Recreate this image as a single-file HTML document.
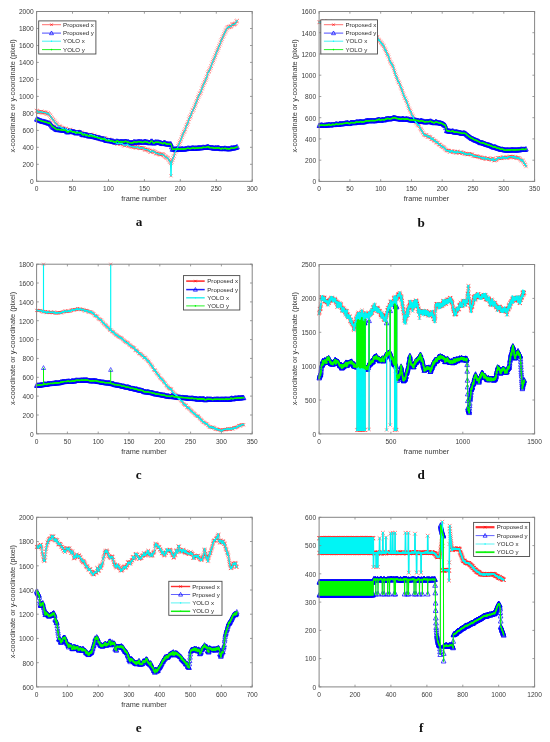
<!DOCTYPE html>
<html><head><meta charset="utf-8"><title>figure</title>
<style>html,body{margin:0;padding:0;background:#fff}svg{display:block}</style></head>
<body><svg width="550" height="742" viewBox="0 0 550 742" font-family="'Liberation Sans', sans-serif">
<rect width="550" height="742" fill="#fff"/>
<defs>
<clipPath id="ca"><rect x="34.1" y="11.5" width="220.6" height="172.3"/></clipPath>
<clipPath id="cb"><rect x="316.6" y="11.5" width="220.5" height="172.4"/></clipPath>
<clipPath id="cc"><rect x="34.1" y="264.2" width="220.6" height="172.1"/></clipPath>
<clipPath id="cd"><rect x="316.6" y="264.5" width="220.5" height="171.9"/></clipPath>
<clipPath id="ce"><rect x="34.1" y="517.3" width="220.6" height="172.1"/></clipPath>
<clipPath id="cf"><rect x="316.6" y="517.3" width="220.5" height="172.1"/></clipPath>
<marker id="mxa" viewBox="-3 -3 6 6" markerWidth="6" markerHeight="6" markerUnits="userSpaceOnUse" refX="0" refY="0"><path d="M-1.9-1.9L1.9 1.9M-1.9 1.9L1.9-1.9" stroke="#ff2a2a" stroke-width="0.5" fill="none"/></marker>
<marker id="mta" viewBox="-3 -3 6 6" markerWidth="6" markerHeight="6" markerUnits="userSpaceOnUse" refX="0" refY="0"><path d="M0-2.51L2.3 2.00H-2.3Z" stroke="#0000ff" stroke-width="0.7" fill="none"/></marker>
<marker id="mca" viewBox="-3 -3 6 6" markerWidth="6" markerHeight="6" markerUnits="userSpaceOnUse" refX="0" refY="0"><circle r="0.65" fill="#00f5f5"/></marker>
<marker id="mga" viewBox="-3 -3 6 6" markerWidth="6" markerHeight="6" markerUnits="userSpaceOnUse" refX="0" refY="0"><circle r="0.8" fill="#00fa00"/></marker>
<marker id="mxb" viewBox="-3 -3 6 6" markerWidth="6" markerHeight="6" markerUnits="userSpaceOnUse" refX="0" refY="0"><path d="M-1.7-1.7L1.7 1.7M-1.7 1.7L1.7-1.7" stroke="#ff2a2a" stroke-width="0.5" fill="none"/></marker>
<marker id="mtb" viewBox="-3 -3 6 6" markerWidth="6" markerHeight="6" markerUnits="userSpaceOnUse" refX="0" refY="0"><path d="M0-2.51L2.3 2.00H-2.3Z" stroke="#0000ff" stroke-width="0.7" fill="none"/></marker>
<marker id="mcb" viewBox="-3 -3 6 6" markerWidth="6" markerHeight="6" markerUnits="userSpaceOnUse" refX="0" refY="0"><circle r="0.7" fill="#00f5f5"/></marker>
<marker id="mgb" viewBox="-3 -3 6 6" markerWidth="6" markerHeight="6" markerUnits="userSpaceOnUse" refX="0" refY="0"><circle r="0.8" fill="#00fa00"/></marker>
<marker id="mxc" viewBox="-3 -3 6 6" markerWidth="6" markerHeight="6" markerUnits="userSpaceOnUse" refX="0" refY="0"><path d="M-1.5-1.5L1.5 1.5M-1.5 1.5L1.5-1.5" stroke="#ff2a2a" stroke-width="0.55" fill="none"/></marker>
<marker id="mtc" viewBox="-3 -3 6 6" markerWidth="6" markerHeight="6" markerUnits="userSpaceOnUse" refX="0" refY="0"><path d="M0-2.51L2.3 2.00H-2.3Z" stroke="#0000ff" stroke-width="0.7" fill="none"/></marker>
<marker id="mcc" viewBox="-3 -3 6 6" markerWidth="6" markerHeight="6" markerUnits="userSpaceOnUse" refX="0" refY="0"><circle r="0.75" fill="#00f5f5"/></marker>
<marker id="mgc" viewBox="-3 -3 6 6" markerWidth="6" markerHeight="6" markerUnits="userSpaceOnUse" refX="0" refY="0"><circle r="0.8" fill="#00fa00"/></marker>
<marker id="mxd" viewBox="-3 -3 6 6" markerWidth="6" markerHeight="6" markerUnits="userSpaceOnUse" refX="0" refY="0"><path d="M-1.7-1.7L1.7 1.7M-1.7 1.7L1.7-1.7" stroke="#ff2a2a" stroke-width="0.5" fill="none"/></marker>
<marker id="mtd" viewBox="-3 -3 6 6" markerWidth="6" markerHeight="6" markerUnits="userSpaceOnUse" refX="0" refY="0"><path d="M0-2.51L2.3 2.00H-2.3Z" stroke="#0000ff" stroke-width="0.7" fill="none"/></marker>
<marker id="mcd" viewBox="-3 -3 6 6" markerWidth="6" markerHeight="6" markerUnits="userSpaceOnUse" refX="0" refY="0"><circle r="0.95" fill="#00f5f5"/></marker>
<marker id="mgd" viewBox="-3 -3 6 6" markerWidth="6" markerHeight="6" markerUnits="userSpaceOnUse" refX="0" refY="0"><circle r="0.9" fill="#00fa00"/></marker>
<marker id="mxe" viewBox="-3 -3 6 6" markerWidth="6" markerHeight="6" markerUnits="userSpaceOnUse" refX="0" refY="0"><path d="M-1.7-1.7L1.7 1.7M-1.7 1.7L1.7-1.7" stroke="#ff2a2a" stroke-width="0.5" fill="none"/></marker>
<marker id="mte" viewBox="-3 -3 6 6" markerWidth="6" markerHeight="6" markerUnits="userSpaceOnUse" refX="0" refY="0"><path d="M0-2.51L2.3 2.00H-2.3Z" stroke="#0000ff" stroke-width="0.65" fill="none"/></marker>
<marker id="mce" viewBox="-3 -3 6 6" markerWidth="6" markerHeight="6" markerUnits="userSpaceOnUse" refX="0" refY="0"><circle r="0.78" fill="#00f5f5"/></marker>
<marker id="mge" viewBox="-3 -3 6 6" markerWidth="6" markerHeight="6" markerUnits="userSpaceOnUse" refX="0" refY="0"><circle r="0.95" fill="#00fa00"/></marker>
<marker id="mxf" viewBox="-3 -3 6 6" markerWidth="6" markerHeight="6" markerUnits="userSpaceOnUse" refX="0" refY="0"><path d="M-1.9-1.9L1.9 1.9M-1.9 1.9L1.9-1.9" stroke="#ff2a2a" stroke-width="0.6" fill="none"/></marker>
<marker id="mtf" viewBox="-3 -3 6 6" markerWidth="6" markerHeight="6" markerUnits="userSpaceOnUse" refX="0" refY="0"><path d="M0-2.62L2.4 2.09H-2.4Z" stroke="#0000ff" stroke-width="0.7" fill="none"/></marker>
<marker id="mcf" viewBox="-3 -3 6 6" markerWidth="6" markerHeight="6" markerUnits="userSpaceOnUse" refX="0" refY="0"><circle r="0.8" fill="#00f5f5"/></marker>
<marker id="mgf" viewBox="-3 -3 6 6" markerWidth="6" markerHeight="6" markerUnits="userSpaceOnUse" refX="0" refY="0"><circle r="0.75" fill="#00fa00"/></marker>
<marker id="mxL" viewBox="-3 -3 6 6" markerWidth="6" markerHeight="6" markerUnits="userSpaceOnUse" refX="0" refY="0"><path d="M-1.3-1.3L1.3 1.3M-1.3 1.3L1.3-1.3" stroke="#ff0000" stroke-width="0.6" fill="none"/></marker>
<marker id="mtL" viewBox="-3 -3 6 6" markerWidth="6" markerHeight="6" markerUnits="userSpaceOnUse" refX="0" refY="0"><path d="M0-2.1L2 1.6H-2Z" stroke="#0000ff" stroke-width="0.7" fill="none"/></marker>
<marker id="mcL" viewBox="-3 -3 6 6" markerWidth="6" markerHeight="6" markerUnits="userSpaceOnUse" refX="0" refY="0"><circle r="0.7" fill="#00ffff"/></marker>
<marker id="mgL" viewBox="-3 -3 6 6" markerWidth="6" markerHeight="6" markerUnits="userSpaceOnUse" refX="0" refY="0"><circle r="0.8" fill="#00ff00"/></marker>
</defs>
<!-- a -->
<polyline clip-path="url(#ca)" points="36.6,110.8 37.3,110.9 38.0,112.0 38.8,112.1 39.5,111.9 40.2,111.9 40.9,111.8 41.6,111.8 42.3,112.5 43.1,112.6 43.8,112.3 44.5,112.5 45.2,112.6 45.9,112.7 46.7,113.7 47.4,113.8 48.1,113.2 48.8,114.0 49.5,114.9 50.3,115.7 51.0,117.1 51.7,118.1 52.4,118.9 53.1,119.9 53.8,120.6 54.6,121.6 55.3,122.8 56.0,123.5 56.7,124.3 57.4,125.1 58.2,126.4 58.9,126.9 59.6,126.3 60.3,126.8 61.0,127.5 61.8,127.9 62.5,128.1 63.2,128.4 63.9,129.6 64.6,129.9 65.3,128.6 66.1,128.9 66.8,129.9 67.5,130.1 68.2,130.6 68.9,130.7 69.7,129.7 70.4,129.8 71.1,131.1 71.8,131.2 72.5,132.1 73.3,132.3 74.0,131.9 74.7,132.0 75.4,133.1 76.1,133.2 76.8,131.7 77.6,131.8 78.3,132.7 79.0,132.8 79.7,133.1 80.4,133.3 81.2,132.6 81.9,132.9 82.6,134.5 83.3,134.7 84.0,133.8 84.8,134.0 85.5,135.6 86.2,135.8 86.9,135.3 87.6,135.4 88.3,135.8 89.1,135.9 89.8,134.6 90.5,134.8 91.2,134.7 91.9,134.8 92.7,136.0 93.4,136.1 94.1,135.6 94.8,135.8 95.5,136.6 96.2,136.8 97.0,136.7 97.7,136.9 98.4,137.8 99.1,138.0 99.8,138.7 100.6,139.0 101.3,139.2 102.0,139.5 102.7,138.6 103.4,138.8 104.2,138.1 104.9,138.3 105.6,139.5 106.3,139.7 107.0,140.3 107.7,140.5 108.5,139.5 109.2,139.7 109.9,140.7 110.6,141.0 111.3,141.2 112.1,141.4 112.8,141.6 113.5,141.8 114.2,142.2 114.9,142.4 115.7,142.7 116.4,142.9 117.1,143.7 117.8,143.8 118.5,143.0 119.2,143.1 120.0,143.6 120.7,143.8 121.4,143.3 122.1,143.4 122.8,144.4 123.6,144.5 124.3,145.5 125.0,145.6 125.7,144.8 126.4,145.0 127.2,144.2 127.9,144.3 128.6,145.5 129.3,145.7 130.0,146.1 130.7,146.3 131.5,146.6 132.2,146.7 132.9,146.8 133.6,147.0 134.3,146.8 135.1,146.9 135.8,147.5 136.5,147.7 137.2,146.5 137.9,146.7 138.7,147.8 139.4,148.0 140.1,148.0 140.8,148.2 141.5,147.7 142.2,147.9 143.0,148.1 143.7,148.2 144.4,149.3 145.1,149.5 145.8,149.4 146.6,149.6 147.3,149.6 148.0,149.8 148.7,150.5 149.4,150.7 150.1,151.7 150.9,151.9 151.6,150.8 152.3,151.1 153.0,151.2 153.7,151.5 154.5,152.0 155.2,152.2 155.9,153.2 156.6,153.4 157.3,153.3 158.1,153.6 158.8,154.0 159.5,154.3 160.2,154.4 160.9,154.6 161.6,154.1 162.4,154.3 163.1,154.7 163.8,155.2 164.5,156.1 165.2,156.6 166.0,157.1 166.7,157.6 167.4,158.0 168.1,158.5 168.8,159.9 169.6,161.0 170.3,162.1 171.0,163.2 171.7,161.7 172.4,160.0 173.1,158.0 173.9,156.2 174.6,153.3 175.3,151.6 176.0,150.6 176.7,148.9 177.5,147.8 178.2,146.0 178.9,144.4 179.6,142.6 180.3,141.1 181.1,139.4 181.8,137.0 182.5,135.3 183.2,133.6 183.9,131.8 184.6,131.0 185.4,129.3 186.1,126.6 186.8,124.9 187.5,123.7 188.2,121.9 189.0,119.2 189.7,117.5 190.4,116.4 191.1,114.7 191.8,112.1 192.6,110.4 193.3,109.8 194.0,108.1 194.7,106.2 195.4,104.5 196.1,102.5 196.9,100.8 197.6,98.6 198.3,96.9 199.0,95.4 199.7,93.6 200.5,92.8 201.2,91.0 201.9,88.5 202.6,86.8 203.3,85.1 204.0,83.3 204.8,81.8 205.5,80.0 206.2,78.4 206.9,76.6 207.6,73.6 208.4,71.9 209.1,71.2 209.8,69.5 210.5,67.9 211.2,66.2 212.0,63.6 212.7,61.9 213.4,60.4 214.1,58.6 214.8,57.0 215.5,55.2 216.3,53.0 217.0,51.3 217.7,49.6 218.4,47.9 219.1,46.2 219.9,44.4 220.6,42.3 221.3,40.4 222.0,38.9 222.7,37.1 223.5,35.7 224.2,33.9 224.9,32.4 225.6,31.0 226.3,29.7 227.0,28.3 227.8,27.4 228.5,26.9 229.2,27.1 229.9,26.6 230.6,26.4 231.4,26.1 232.1,24.7 232.8,24.3 233.5,24.6 234.2,24.2 235.0,23.9 235.7,23.2 236.4,21.4 237.1,20.7" fill="none" stroke="#ff2a2a" stroke-width="0.5" stroke-linejoin="round" marker-start="url(#mxa)" marker-mid="url(#mxa)" marker-end="url(#mxa)"/>
<path d="M171.0 175.8l1.5 1.5m-3 0l1.5-1.5l-1.5-1.5m3 0l-1.5 1.5" stroke="#f00" stroke-width=".5" fill="none"/>
<polyline clip-path="url(#ca)" points="36.6,119.1 37.3,119.3 38.0,119.6 38.8,120.0 39.5,120.3 40.2,120.6 40.9,120.8 41.6,121.1 42.3,121.4 43.1,121.4 43.8,121.6 44.5,121.8 45.2,122.0 45.9,122.2 46.7,122.4 47.4,122.8 48.1,123.0 48.8,123.2 49.5,123.2 50.3,124.0 51.0,124.7 51.7,125.8 52.4,126.6 53.1,127.3 53.8,127.5 54.6,128.2 55.3,128.4 56.0,129.3 56.7,129.5 57.4,129.7 58.2,129.4 58.9,129.6 59.6,129.8 60.3,129.7 61.0,129.9 61.8,130.1 62.5,130.1 63.2,130.2 63.9,130.3 64.6,130.2 65.3,130.3 66.1,130.5 66.8,131.7 67.5,131.8 68.2,131.9 68.9,131.2 69.7,131.3 70.4,131.5 71.1,131.4 71.8,131.5 72.5,131.6 73.3,131.8 74.0,131.9 74.7,132.0 75.4,132.7 76.1,132.8 76.8,132.9 77.6,132.5 78.3,132.6 79.0,132.8 79.7,132.6 80.4,132.8 81.2,133.0 81.9,134.4 82.6,134.6 83.3,134.8 84.0,134.4 84.8,134.6 85.5,134.8 86.2,134.8 86.9,135.1 87.6,135.2 88.3,135.9 89.1,135.9 89.8,136.0 90.5,135.7 91.2,135.8 91.9,135.9 92.7,136.5 93.4,136.6 94.1,136.7 94.8,136.8 95.5,137.0 96.2,137.3 97.0,137.5 97.7,137.7 98.4,137.9 99.1,137.8 99.8,138.0 100.6,138.3 101.3,138.6 102.0,138.8 102.7,139.1 103.4,138.9 104.2,139.1 104.9,139.4 105.6,140.2 106.3,140.4 107.0,140.5 107.7,140.4 108.5,140.6 109.2,140.8 109.9,140.6 110.6,140.7 111.3,140.9 112.1,141.2 112.8,141.2 113.5,141.3 114.2,141.9 114.9,142.0 115.7,142.0 116.4,141.3 117.1,141.4 117.8,141.4 118.5,141.8 119.2,141.8 120.0,141.9 120.7,141.6 121.4,141.6 122.1,141.7 122.8,141.7 123.6,141.7 124.3,141.8 125.0,141.5 125.7,141.5 126.4,141.5 127.2,142.0 127.9,142.0 128.6,142.0 129.3,142.7 130.0,142.7 130.7,142.8 131.5,142.6 132.2,142.7 132.9,142.7 133.6,142.0 134.3,142.0 135.1,142.0 135.8,142.3 136.5,142.2 137.2,142.2 137.9,141.7 138.7,141.7 139.4,141.7 140.1,141.9 140.8,141.9 141.5,141.9 142.2,142.2 143.0,142.2 143.7,142.2 144.4,141.5 145.1,141.6 145.8,141.6 146.6,142.2 147.3,142.2 148.0,142.3 148.7,142.7 149.4,142.7 150.1,142.7 150.9,141.4 151.6,141.4 152.3,141.4 153.0,142.8 153.7,142.9 154.5,143.0 155.2,142.1 155.9,142.2 156.6,142.3 157.3,142.2 158.1,142.3 158.8,142.3 159.5,142.6 160.2,142.7 160.9,142.8 161.6,143.4 162.4,143.5 163.1,143.6 163.8,142.8 164.5,142.8 165.2,142.9 166.0,143.8 166.7,143.9 167.4,144.0 168.1,144.1 168.8,144.1 169.6,144.2 170.3,144.0 171.0,144.1 171.7,146.8 172.4,149.2 173.1,149.2 173.9,149.1 174.6,149.2 175.3,149.2 176.0,149.2 176.7,149.0 177.5,148.9 178.2,148.9 178.9,149.3 179.6,149.2 180.3,149.2 181.1,149.0 181.8,149.0 182.5,148.9 183.2,149.2 183.9,149.2 184.6,149.1 185.4,148.8 186.1,148.7 186.8,148.7 187.5,148.3 188.2,148.3 189.0,148.2 189.7,148.5 190.4,148.4 191.1,148.4 191.8,148.1 192.6,148.0 193.3,148.0 194.0,148.3 194.7,148.2 195.4,148.2 196.1,148.2 196.9,148.1 197.6,148.1 198.3,147.8 199.0,147.8 199.7,147.8 200.5,147.8 201.2,147.8 201.9,147.7 202.6,147.4 203.3,147.4 204.0,147.4 204.8,147.5 205.5,147.4 206.2,147.4 206.9,146.9 207.6,146.8 208.4,146.8 209.1,147.4 209.8,147.5 210.5,147.5 211.2,147.6 212.0,147.7 212.7,147.7 213.4,148.1 214.1,148.1 214.8,148.2 215.5,147.9 216.3,148.0 217.0,148.0 217.7,147.9 218.4,147.9 219.1,148.0 219.9,148.5 220.6,148.6 221.3,148.7 222.0,148.5 222.7,148.6 223.5,148.6 224.2,148.4 224.9,148.4 225.6,148.4 226.3,148.7 227.0,148.7 227.8,148.7 228.5,148.8 229.2,148.8 229.9,148.8 230.6,148.3 231.4,148.1 232.1,148.0 232.8,148.2 233.5,148.0 234.2,147.9 235.0,147.6 235.7,147.5 236.4,147.3 237.1,146.9" fill="none" stroke="#0000ff" stroke-width="2.6" stroke-linejoin="round" marker-start="url(#mta)" marker-mid="url(#mta)" marker-end="url(#mta)"/>
<polyline clip-path="url(#ca)" points="36.6,110.8 37.3,110.9 38.0,112.0 38.8,112.1 39.5,111.9 40.2,111.9 40.9,111.8 41.6,111.8 42.3,112.5 43.1,112.6 43.8,112.3 44.5,112.5 45.2,112.6 45.9,112.7 46.7,113.7 47.4,113.8 48.1,113.2 48.8,114.0 49.5,114.9 50.3,115.7 51.0,117.1 51.7,118.1 52.4,118.9 53.1,119.9 53.8,120.6 54.6,121.6 55.3,122.8 56.0,123.5 56.7,124.3 57.4,125.1 58.2,126.4 58.9,126.9 59.6,126.3 60.3,126.8 61.0,127.5 61.8,127.9 62.5,128.1 63.2,128.4 63.9,129.6 64.6,129.9 65.3,128.6 66.1,128.9 66.8,129.9 67.5,130.1 68.2,130.6 68.9,130.7 69.7,129.7 70.4,129.8 71.1,131.1 71.8,131.2 72.5,132.1 73.3,132.3 74.0,131.9 74.7,132.0 75.4,133.1 76.1,133.2 76.8,131.7 77.6,131.8 78.3,132.7 79.0,132.8 79.7,133.1 80.4,133.3 81.2,132.6 81.9,132.9 82.6,134.5 83.3,134.7 84.0,133.8 84.8,134.0 85.5,135.6 86.2,135.8 86.9,135.3 87.6,135.4 88.3,135.8 89.1,135.9 89.8,134.6 90.5,134.8 91.2,134.7 91.9,134.8 92.7,136.0 93.4,136.1 94.1,135.6 94.8,135.8 95.5,136.6 96.2,136.8 97.0,136.7 97.7,136.9 98.4,137.8 99.1,138.0 99.8,138.7 100.6,139.0 101.3,139.2 102.0,139.5 102.7,138.6 103.4,138.8 104.2,138.1 104.9,138.3 105.6,139.5 106.3,139.7 107.0,140.3 107.7,140.5 108.5,139.5 109.2,139.7 109.9,140.7 110.6,141.0 111.3,141.2 112.1,141.4 112.8,141.6 113.5,141.8 114.2,142.2 114.9,142.4 115.7,142.7 116.4,142.9 117.1,143.7 117.8,143.8 118.5,143.0 119.2,143.1 120.0,143.6 120.7,143.8 121.4,143.3 122.1,143.4 122.8,144.4 123.6,144.5 124.3,145.5 125.0,145.6 125.7,144.8 126.4,145.0 127.2,144.2 127.9,144.3 128.6,145.5 129.3,145.7 130.0,146.1 130.7,146.3 131.5,146.6 132.2,146.7 132.9,146.8 133.6,147.0 134.3,146.8 135.1,146.9 135.8,147.5 136.5,147.7 137.2,146.5 137.9,146.7 138.7,147.8 139.4,148.0 140.1,148.0 140.8,148.2 141.5,147.7 142.2,147.9 143.0,148.1 143.7,148.2 144.4,149.3 145.1,149.5 145.8,149.4 146.6,149.6 147.3,149.6 148.0,149.8 148.7,150.5 149.4,150.7 150.1,151.7 150.9,151.9 151.6,150.8 152.3,151.1 153.0,151.2 153.7,151.5 154.5,152.0 155.2,152.2 155.9,153.2 156.6,153.4 157.3,153.3 158.1,153.6 158.8,154.0 159.5,154.3 160.2,154.4 160.9,154.6 161.6,154.1 162.4,154.3 163.1,154.7 163.8,155.2 164.5,156.1 165.2,156.6 166.0,157.1 166.7,157.6 167.4,158.0 168.1,158.5 168.8,159.9 169.6,161.0 170.3,162.1 171.0,175.8 171.7,161.7 172.4,160.0 173.1,158.0 173.9,156.2 174.6,153.3 175.3,151.6 176.0,150.6 176.7,148.9 177.5,147.8 178.2,146.0 178.9,144.4 179.6,142.6 180.3,141.1 181.1,139.4 181.8,137.0 182.5,135.3 183.2,133.6 183.9,131.8 184.6,131.0 185.4,129.3 186.1,126.6 186.8,124.9 187.5,123.7 188.2,121.9 189.0,119.2 189.7,117.5 190.4,116.4 191.1,114.7 191.8,112.1 192.6,110.4 193.3,109.8 194.0,108.1 194.7,106.2 195.4,104.5 196.1,102.5 196.9,100.8 197.6,98.6 198.3,96.9 199.0,95.4 199.7,93.6 200.5,92.8 201.2,91.0 201.9,88.5 202.6,86.8 203.3,85.1 204.0,83.3 204.8,81.8 205.5,80.0 206.2,78.4 206.9,76.6 207.6,73.6 208.4,71.9 209.1,71.2 209.8,69.5 210.5,67.9 211.2,66.2 212.0,63.6 212.7,61.9 213.4,60.4 214.1,58.6 214.8,57.0 215.5,55.2 216.3,53.0 217.0,51.3 217.7,49.6 218.4,47.9 219.1,46.2 219.9,44.4 220.6,42.3 221.3,40.4 222.0,38.9 222.7,37.1 223.5,35.7 224.2,33.9 224.9,32.4 225.6,31.0 226.3,29.7 227.0,28.3 227.8,27.4 228.5,26.9 229.2,27.1 229.9,26.6 230.6,26.4 231.4,26.1 232.1,24.7 232.8,24.3 233.5,24.6 234.2,24.2 235.0,23.9 235.7,23.2 236.4,21.4 237.1,20.7" fill="none" stroke="#00f5f5" stroke-width="1.0" stroke-linejoin="round" marker-start="url(#mca)" marker-mid="url(#mca)" marker-end="url(#mca)"/>
<polyline clip-path="url(#ca)" points="36.6,119.1 37.3,119.4 38.0,119.6 38.8,120.1 39.5,120.5 40.2,120.4 40.9,120.8 41.6,121.0 42.3,121.5 43.1,121.2 43.8,121.7 44.5,121.8 45.2,122.1 45.9,122.2 46.7,122.4 47.4,122.8 48.1,122.9 48.8,123.2 49.5,123.1 50.3,124.0 51.0,124.8 51.7,125.9 52.4,126.5 53.1,127.1 53.8,127.4 54.6,128.5 55.3,128.4 56.0,129.1 56.7,129.5 57.4,129.8 58.2,129.3 58.9,129.6 59.6,129.7 60.3,129.7 61.0,129.7 61.8,130.1 62.5,130.2 63.2,130.1 63.9,130.2 64.6,130.3 65.3,130.4 66.1,130.8 66.8,131.6 67.5,131.9 68.2,132.2 68.9,131.5 69.7,131.4 70.4,131.4 71.1,131.4 71.8,131.5 72.5,131.8 73.3,132.0 74.0,131.8 74.7,131.9 75.4,132.7 76.1,132.6 76.8,133.0 77.6,132.6 78.3,132.5 79.0,132.6 79.7,132.6 80.4,132.6 81.2,133.1 81.9,134.3 82.6,134.6 83.3,135.0 84.0,134.4 84.8,134.5 85.5,134.9 86.2,134.9 86.9,134.9 87.6,135.3 88.3,136.1 89.1,136.0 89.8,136.2 90.5,135.5 91.2,135.7 91.9,136.0 92.7,136.6 93.4,136.2 94.1,136.7 94.8,136.9 95.5,137.0 96.2,137.2 97.0,137.5 97.7,137.8 98.4,138.1 99.1,137.7 99.8,138.1 100.6,138.5 101.3,138.4 102.0,138.7 102.7,139.1 103.4,139.0 104.2,139.1 104.9,139.5 105.6,140.4 106.3,140.3 107.0,140.7 107.7,140.4 108.5,140.8 109.2,140.8 109.9,140.6 110.6,140.5 111.3,141.0 112.1,141.4 112.8,141.3 113.5,141.4 114.2,142.0 114.9,141.9 115.7,141.9 116.4,141.1 117.1,141.5 117.8,141.1 118.5,141.6 119.2,141.9 120.0,142.2 120.7,141.6 121.4,141.6 122.1,142.0 122.8,141.7 123.6,141.8 124.3,141.9 125.0,141.4 125.7,141.4 126.4,141.6 127.2,141.9 127.9,142.1 128.6,142.1 129.3,142.7 130.0,142.7 130.7,142.8 131.5,142.9 132.2,142.6 132.9,142.9 133.6,142.0 134.3,141.7 135.1,142.0 135.8,142.4 136.5,142.4 137.2,142.1 137.9,141.7 138.7,141.6 139.4,141.6 140.1,142.0 140.8,142.0 141.5,142.0 142.2,142.6 143.0,142.4 143.7,142.2 144.4,141.6 145.1,141.5 145.8,141.6 146.6,142.2 147.3,142.1 148.0,142.4 148.7,142.7 149.4,142.9 150.1,142.6 150.9,141.4 151.6,141.3 152.3,141.2 153.0,142.7 153.7,142.9 154.5,142.9 155.2,142.3 155.9,142.1 156.6,142.2 157.3,142.4 158.1,142.1 158.8,142.4 159.5,142.6 160.2,142.8 160.9,142.6 161.6,143.3 162.4,143.6 163.1,143.8 163.8,142.8 164.5,142.7 165.2,143.0 166.0,143.9 166.7,143.9 167.4,144.4 168.1,144.1 168.8,144.3 169.6,144.2 170.3,144.1 171.0,144.2 171.7,146.9 172.4,149.4 173.1,149.2 173.9,149.2 174.6,149.3 175.3,149.3 176.0,149.1 176.7,149.0 177.5,148.9 178.2,148.8 178.9,149.4 179.6,149.2 180.3,149.1 181.1,149.0 181.8,149.0 182.5,149.0 183.2,149.1 183.9,148.9 184.6,149.2 185.4,148.7 186.1,148.8 186.8,148.6 187.5,148.3 188.2,148.1 189.0,148.6 189.7,148.6 190.4,148.6 191.1,148.4 191.8,148.2 192.6,148.1 193.3,147.9 194.0,148.0 194.7,148.6 195.4,148.2 196.1,148.1 196.9,148.1 197.6,148.1 198.3,148.0 199.0,147.9 199.7,147.7 200.5,147.7 201.2,147.8 201.9,147.9 202.6,147.4 203.3,147.4 204.0,147.3 204.8,147.5 205.5,147.5 206.2,147.4 206.9,147.0 207.6,146.7 208.4,146.6 209.1,147.6 209.8,147.4 210.5,147.7 211.2,147.5 212.0,147.6 212.7,147.8 213.4,147.9 214.1,148.2 214.8,148.3 215.5,148.0 216.3,148.0 217.0,148.1 217.7,147.9 218.4,148.0 219.1,147.9 219.9,148.4 220.6,148.7 221.3,148.9 222.0,148.4 222.7,148.4 223.5,148.7 224.2,148.5 224.9,148.3 225.6,148.2 226.3,148.9 227.0,148.6 227.8,148.7 228.5,148.9 229.2,148.7 229.9,149.0 230.6,148.2 231.4,148.0 232.1,148.0 232.8,148.3 233.5,148.2 234.2,148.0 235.0,147.9 235.7,147.3 236.4,147.4 237.1,147.1" fill="none" stroke="#00fa00" stroke-width="1.1" stroke-linejoin="round" marker-start="url(#mga)" marker-mid="url(#mga)" marker-end="url(#mga)"/>
<rect x="36.6" y="11.5" width="215.6" height="169.8" fill="none" stroke="#858585" stroke-width="1"/>
<path d="M36.6 181.3v-2.2M36.6 11.5v2.2M72.5 181.3v-2.2M72.5 11.5v2.2M108.5 181.3v-2.2M108.5 11.5v2.2M144.4 181.3v-2.2M144.4 11.5v2.2M180.3 181.3v-2.2M180.3 11.5v2.2M216.3 181.3v-2.2M216.3 11.5v2.2M252.2 181.3v-2.2M252.2 11.5v2.2M36.6 181.3h2.2M252.2 181.3h-2.2M36.6 164.3h2.2M252.2 164.3h-2.2M36.6 147.3h2.2M252.2 147.3h-2.2M36.6 130.4h2.2M252.2 130.4h-2.2M36.6 113.4h2.2M252.2 113.4h-2.2M36.6 96.4h2.2M252.2 96.4h-2.2M36.6 79.4h2.2M252.2 79.4h-2.2M36.6 62.4h2.2M252.2 62.4h-2.2M36.6 45.5h2.2M252.2 45.5h-2.2M36.6 28.5h2.2M252.2 28.5h-2.2M36.6 11.5h2.2M252.2 11.5h-2.2" stroke="#858585" stroke-width="0.8" fill="none"/>
<g font-size="6.6" fill="#3a3a3a">
<text x="36.6" y="191.1" text-anchor="middle">0</text>
<text x="72.5" y="191.1" text-anchor="middle">50</text>
<text x="108.5" y="191.1" text-anchor="middle">100</text>
<text x="144.4" y="191.1" text-anchor="middle">150</text>
<text x="180.3" y="191.1" text-anchor="middle">200</text>
<text x="216.3" y="191.1" text-anchor="middle">250</text>
<text x="252.2" y="191.1" text-anchor="middle">300</text>
<text x="33.6" y="184.1" text-anchor="end">0</text>
<text x="33.6" y="167.1" text-anchor="end">200</text>
<text x="33.6" y="150.1" text-anchor="end">400</text>
<text x="33.6" y="133.2" text-anchor="end">600</text>
<text x="33.6" y="116.2" text-anchor="end">800</text>
<text x="33.6" y="99.2" text-anchor="end">1000</text>
<text x="33.6" y="82.2" text-anchor="end">1200</text>
<text x="33.6" y="65.2" text-anchor="end">1400</text>
<text x="33.6" y="48.3" text-anchor="end">1600</text>
<text x="33.6" y="31.3" text-anchor="end">1800</text>
<text x="33.6" y="14.3" text-anchor="end">2000</text>
</g>
<text x="144.0" y="201.1" text-anchor="middle" font-size="7.33" fill="#3a3a3a">frame number</text>
<text transform="translate(14.6 95.9) rotate(-90)" text-anchor="middle" font-size="7.33" fill="#3a3a3a">x-coordinate or y-coordinate (pixel)</text>
<rect x="38.7" y="20.9" width="57.2" height="33.1" fill="#fff" stroke="#4a4a4a" stroke-width="0.9"/>
<polyline points="42.0,24.7 51.5,24.7 61.0,24.7" fill="none" stroke="#ff3030" stroke-width="0.7" marker-mid="url(#mxL)"/>
<text x="63.1" y="26.8" font-size="6.1" fill="#2a2a2a">Proposed x</text>
<polyline points="42.0,33.1 51.5,33.1 61.0,33.1" fill="none" stroke="#2020ff" stroke-width="0.8" marker-mid="url(#mtL)"/>
<text x="63.1" y="35.2" font-size="6.1" fill="#2a2a2a">Proposed y</text>
<polyline points="42.0,41.2 51.5,41.2 61.0,41.2" fill="none" stroke="#30f0f0" stroke-width="0.9" marker-mid="url(#mcL)"/>
<text x="63.1" y="43.3" font-size="6.1" fill="#2a2a2a">YOLO x</text>
<polyline points="42.0,49.6 51.5,49.6 61.0,49.6" fill="none" stroke="#10f010" stroke-width="0.9" marker-mid="url(#mgL)"/>
<text x="63.1" y="51.7" font-size="6.1" fill="#2a2a2a">YOLO y</text>
<text x="139.1" y="226.3" text-anchor="middle" font-family="'Liberation Serif', serif" font-weight="bold" font-size="13.2" fill="#111">a</text>
<!-- b -->
<polyline clip-path="url(#cb)" points="319.1,22.2 319.7,22.2 320.3,22.2 320.9,22.2 321.6,21.9 322.2,22.0 322.8,22.5 323.4,22.6 324.0,21.1 324.6,21.1 325.3,22.5 325.9,22.5 326.5,22.6 327.1,22.7 327.7,22.1 328.3,22.2 329.0,21.6 329.6,21.7 330.2,21.8 330.8,21.9 331.4,22.9 332.0,23.0 332.6,22.6 333.3,22.7 333.9,22.8 334.5,22.9 335.1,22.7 335.7,22.8 336.3,23.0 337.0,23.1 337.6,23.8 338.2,23.8 338.8,24.0 339.4,24.1 340.0,23.4 340.7,23.5 341.3,24.2 341.9,24.3 342.5,23.0 343.1,23.1 343.7,23.8 344.3,23.9 345.0,24.5 345.6,24.6 346.2,24.3 346.8,24.3 347.4,24.5 348.0,24.5 348.7,24.4 349.3,24.5 349.9,24.0 350.5,24.1 351.1,25.5 351.7,25.7 352.3,26.1 353.0,26.2 353.6,25.2 354.2,25.3 354.8,25.8 355.4,25.9 356.0,25.9 356.7,26.0 357.3,26.0 357.9,26.2 358.5,26.7 359.1,26.8 359.7,26.5 360.4,26.6 361.0,27.7 361.6,27.8 362.2,27.5 362.8,27.6 363.4,28.2 364.0,28.4 364.7,28.7 365.3,28.9 365.9,28.1 366.5,28.2 367.1,28.4 367.7,28.6 368.4,30.1 369.0,30.7 369.6,30.9 370.2,31.6 370.8,31.4 371.4,32.1 372.1,32.3 372.7,33.0 373.3,34.5 373.9,35.2 374.5,35.6 375.1,36.2 375.7,37.5 376.4,38.2 377.0,36.7 377.6,37.5 378.2,39.3 378.8,40.1 379.4,40.7 380.1,41.4 380.7,42.3 381.3,43.1 381.9,43.7 382.5,44.5 383.1,45.4 383.8,46.2 384.4,48.1 385.0,49.4 385.6,50.2 386.2,51.6 386.8,53.3 387.4,54.7 388.1,55.4 388.7,56.8 389.3,59.3 389.9,60.7 390.5,62.0 391.1,63.4 391.8,64.1 392.4,65.5 393.0,66.6 393.6,68.2 394.2,70.5 394.8,72.2 395.4,74.3 396.1,76.0 396.7,77.3 397.3,79.0 397.9,80.8 398.5,82.4 399.1,82.6 399.8,84.2 400.4,86.2 401.0,87.8 401.6,89.1 402.2,90.7 402.8,92.7 403.5,94.3 404.1,96.3 404.7,97.8 405.3,98.4 405.9,100.0 406.5,101.3 407.1,102.8 407.8,104.9 408.4,106.5 409.0,108.3 409.6,109.7 410.2,110.5 410.8,111.9 411.5,114.1 412.1,115.4 412.7,116.2 413.3,117.3 413.9,119.1 414.5,120.2 415.2,121.4 415.8,122.5 416.4,122.7 417.0,123.6 417.6,124.6 418.2,125.4 418.8,125.5 419.5,126.3 420.1,128.4 420.7,129.2 421.3,129.9 421.9,130.8 422.5,132.3 423.2,133.1 423.8,134.4 424.4,134.8 425.0,135.2 425.6,135.7 426.2,134.9 426.9,135.4 427.5,136.7 428.1,137.1 428.7,136.4 429.3,136.8 429.9,137.1 430.5,137.5 431.2,138.9 431.8,139.3 432.4,138.7 433.0,139.1 433.6,140.3 434.2,140.7 434.9,140.6 435.5,141.1 436.1,142.2 436.7,142.6 437.3,142.4 437.9,142.8 438.5,144.3 439.2,144.7 439.8,144.4 440.4,144.8 441.0,145.9 441.6,146.3 442.2,146.6 442.9,147.1 443.5,147.2 444.1,147.6 444.7,148.5 445.3,149.1 445.9,149.8 446.6,150.4 447.2,150.5 447.8,150.5 448.4,150.6 449.0,150.7 449.6,151.9 450.2,152.0 450.9,151.1 451.5,151.2 452.1,151.2 452.7,151.3 453.3,152.1 453.9,152.2 454.6,151.7 455.2,151.8 455.8,152.8 456.4,152.8 457.0,151.5 457.6,151.5 458.3,152.5 458.9,152.6 459.5,152.6 460.1,152.7 460.7,152.1 461.3,152.2 461.9,153.0 462.6,153.1 463.2,152.8 463.8,152.9 464.4,153.8 465.0,153.9 465.6,153.7 466.3,153.8 466.9,154.4 467.5,154.5 468.1,154.0 468.7,154.2 469.3,153.7 470.0,153.8 470.6,154.4 471.2,154.6 471.8,154.4 472.4,154.5 473.0,155.7 473.6,155.9 474.3,156.0 474.9,156.2 475.5,156.2 476.1,156.4 476.7,156.1 477.3,156.3 478.0,156.6 478.6,156.8 479.2,157.2 479.8,157.4 480.4,157.2 481.0,157.4 481.6,158.0 482.3,158.2 482.9,158.2 483.5,158.3 484.1,157.7 484.7,157.8 485.3,158.9 486.0,159.0 486.6,158.7 487.2,158.8 487.8,158.2 488.4,158.3 489.0,159.2 489.7,159.3 490.3,159.1 490.9,159.1 491.5,159.8 492.1,159.8 492.7,158.4 493.3,158.4 494.0,160.6 494.6,160.6 495.2,159.9 495.8,159.9 496.4,159.7 497.0,159.5 497.7,157.9 498.3,157.8 498.9,158.3 499.5,158.1 500.1,158.2 500.7,158.1 501.4,158.4 502.0,158.3 502.6,157.3 503.2,157.2 503.8,157.3 504.4,157.3 505.0,157.6 505.7,157.6 506.3,158.0 506.9,157.9 507.5,157.7 508.1,157.6 508.7,156.9 509.4,156.8 510.0,156.7 510.6,156.7 511.2,156.7 511.8,156.7 512.4,156.8 513.1,156.7 513.7,157.5 514.3,157.6 514.9,156.9 515.5,157.1 516.1,157.9 516.7,158.1 517.4,157.7 518.0,157.9 518.6,157.9 519.2,158.2 519.8,159.0 520.4,159.5 521.1,160.2 521.7,160.7 522.3,160.2 522.9,161.0 523.5,162.1 524.1,163.0 524.7,164.3 525.4,164.8 526.0,166.5" fill="none" stroke="#ff2a2a" stroke-width="0.5" stroke-linejoin="round" marker-start="url(#mxb)" marker-mid="url(#mxb)" marker-end="url(#mxb)"/>
<polyline clip-path="url(#cb)" points="319.1,125.5 319.7,125.4 320.3,125.4 320.9,125.2 321.6,125.1 322.2,125.1 322.8,125.5 323.4,125.5 324.0,125.4 324.6,125.3 325.3,125.3 325.9,125.2 326.5,125.1 327.1,125.1 327.7,125.0 328.3,124.6 329.0,124.6 329.6,124.5 330.2,125.0 330.8,125.0 331.4,124.9 332.0,124.6 332.6,124.5 333.3,124.5 333.9,124.6 334.5,124.6 335.1,124.5 335.7,124.1 336.3,124.1 337.0,124.0 337.6,124.5 338.2,124.4 338.8,124.4 339.4,123.8 340.0,123.7 340.7,123.7 341.3,123.9 341.9,123.8 342.5,123.8 343.1,123.6 343.7,123.6 344.3,123.5 345.0,123.3 345.6,123.2 346.2,123.2 346.8,123.0 347.4,122.9 348.0,122.9 348.7,123.6 349.3,123.5 349.9,123.4 350.5,122.7 351.1,122.6 351.7,122.6 352.3,122.6 353.0,122.6 353.6,122.5 354.2,122.7 354.8,122.7 355.4,122.6 356.0,122.1 356.7,122.0 357.3,122.0 357.9,122.2 358.5,122.1 359.1,122.1 359.7,121.7 360.4,121.6 361.0,121.6 361.6,122.0 362.2,121.9 362.8,121.9 363.4,121.9 364.0,121.8 364.7,121.7 365.3,121.1 365.9,121.1 366.5,121.0 367.1,120.7 367.7,120.6 368.4,120.5 369.0,120.9 369.6,120.8 370.2,120.7 370.8,120.6 371.4,120.5 372.1,120.5 372.7,120.8 373.3,120.7 373.9,120.6 374.5,120.8 375.1,120.7 375.7,120.6 376.4,120.3 377.0,120.2 377.6,120.1 378.2,119.6 378.8,119.5 379.4,119.5 380.1,120.3 380.7,120.2 381.3,120.2 381.9,119.7 382.5,119.6 383.1,119.6 383.8,119.9 384.4,119.8 385.0,119.7 385.6,119.1 386.2,119.0 386.8,118.9 387.4,118.7 388.1,118.6 388.7,118.5 389.3,119.0 389.9,118.9 390.5,118.8 391.1,118.5 391.8,118.5 392.4,118.4 393.0,117.9 393.6,117.8 394.2,117.7 394.8,118.0 395.4,118.1 396.1,118.2 396.7,118.5 397.3,118.6 397.9,118.7 398.5,118.7 399.1,118.8 399.8,118.9 400.4,119.1 401.0,119.2 401.6,119.2 402.2,118.5 402.8,118.6 403.5,118.7 404.1,119.2 404.7,119.3 405.3,119.3 405.9,118.9 406.5,119.0 407.1,119.1 407.8,119.2 408.4,119.3 409.0,119.4 409.6,119.8 410.2,119.9 410.8,120.0 411.5,120.0 412.1,120.1 412.7,120.2 413.3,119.9 413.9,120.0 414.5,120.1 415.2,120.3 415.8,120.4 416.4,120.4 417.0,120.5 417.6,120.5 418.2,120.6 418.8,121.2 419.5,121.2 420.1,121.3 420.7,120.7 421.3,120.7 421.9,120.8 422.5,121.3 423.2,121.4 423.8,121.4 424.4,121.9 425.0,121.9 425.6,122.0 426.2,121.6 426.9,121.7 427.5,121.7 428.1,121.5 428.7,121.6 429.3,121.7 429.9,121.3 430.5,121.3 431.2,121.4 431.8,122.1 432.4,122.2 433.0,122.3 433.6,122.6 434.2,122.7 434.9,122.7 435.5,121.9 436.1,121.9 436.7,122.0 437.3,122.6 437.9,122.7 438.5,122.7 439.2,122.9 439.8,123.0 440.4,123.0 441.0,123.3 441.6,123.4 442.2,123.5 442.9,123.7 443.5,124.3 444.1,125.0 444.7,124.9 445.3,125.5 445.9,127.7 446.6,130.6 447.2,130.7 447.8,130.8 448.4,131.0 449.0,131.1 449.6,131.2 450.2,131.3 450.9,131.4 451.5,131.5 452.1,131.1 452.7,131.2 453.3,131.3 453.9,132.0 454.6,132.1 455.2,132.2 455.8,131.9 456.4,132.0 457.0,132.1 457.6,132.3 458.3,132.4 458.9,132.5 459.5,132.6 460.1,132.7 460.7,132.8 461.3,133.2 461.9,133.3 462.6,133.4 463.2,133.0 463.8,133.1 464.4,133.2 465.0,133.3 465.6,133.7 466.3,134.1 466.9,134.9 467.5,135.2 468.1,135.6 468.7,136.2 469.3,136.6 470.0,137.1 470.6,137.6 471.2,138.0 471.8,138.5 472.4,138.5 473.0,139.0 473.6,139.3 474.3,139.7 474.9,139.9 475.5,140.2 476.1,140.4 476.7,140.6 477.3,140.9 478.0,141.1 478.6,141.4 479.2,141.7 479.8,142.3 480.4,142.6 481.0,142.8 481.6,142.5 482.3,142.8 482.9,143.0 483.5,143.3 484.1,143.5 484.7,143.7 485.3,144.0 486.0,144.3 486.6,144.5 487.2,144.6 487.8,144.8 488.4,145.0 489.0,145.1 489.7,145.3 490.3,145.5 490.9,145.9 491.5,146.1 492.1,146.3 492.7,146.8 493.3,147.0 494.0,147.2 494.6,146.9 495.2,147.1 495.8,147.2 496.4,147.8 497.0,148.0 497.7,148.2 498.3,148.4 498.9,148.6 499.5,148.7 500.1,149.1 500.7,149.3 501.4,149.5 502.0,149.2 502.6,149.4 503.2,149.5 503.8,149.8 504.4,149.9 505.0,150.0 505.7,150.0 506.3,150.0 506.9,150.1 507.5,150.0 508.1,150.1 508.7,150.0 509.4,150.1 510.0,150.1 510.6,150.1 511.2,149.8 511.8,149.8 512.4,149.7 513.1,149.9 513.7,149.9 514.3,149.9 514.9,150.0 515.5,150.0 516.1,150.0 516.7,149.9 517.4,149.9 518.0,149.8 518.6,149.8 519.2,149.8 519.8,149.8 520.4,149.4 521.1,149.4 521.7,149.3 522.3,149.5 522.9,149.4 523.5,149.4 524.1,149.5 524.7,149.4 525.4,149.4 526.0,149.0" fill="none" stroke="#0000ff" stroke-width="2.6" stroke-linejoin="round" marker-start="url(#mtb)" marker-mid="url(#mtb)" marker-end="url(#mtb)"/>
<polyline clip-path="url(#cb)" points="319.1,22.3 319.7,22.6 320.3,22.1 320.9,22.2 321.6,21.9 322.2,22.0 322.8,22.7 323.4,22.6 324.0,21.0 324.6,21.1 325.3,22.5 325.9,22.6 326.5,22.5 327.1,22.6 327.7,22.3 328.3,22.0 329.0,21.5 329.6,21.5 330.2,21.9 330.8,21.9 331.4,23.2 332.0,22.8 332.6,23.1 333.3,22.8 333.9,22.9 334.5,22.7 335.1,22.7 335.7,23.0 336.3,23.3 337.0,23.2 337.6,23.7 338.2,23.8 338.8,24.1 339.4,24.2 340.0,23.4 340.7,23.2 341.3,24.5 341.9,24.3 342.5,22.7 343.1,23.0 343.7,23.9 344.3,23.8 345.0,24.7 345.6,24.6 346.2,23.9 346.8,23.9 347.4,24.8 348.0,24.4 348.7,24.0 349.3,24.6 349.9,23.9 350.5,23.8 351.1,25.6 351.7,25.6 352.3,26.1 353.0,26.6 353.6,25.1 354.2,25.4 354.8,25.6 355.4,25.5 356.0,25.7 356.7,26.1 357.3,25.9 357.9,26.2 358.5,26.5 359.1,27.1 359.7,26.7 360.4,27.1 361.0,27.5 361.6,27.8 362.2,27.6 362.8,27.8 363.4,28.4 364.0,28.6 364.7,28.8 365.3,29.0 365.9,27.8 366.5,28.2 367.1,28.6 367.7,28.7 368.4,29.8 369.0,30.6 369.6,30.8 370.2,31.4 370.8,31.1 371.4,32.3 372.1,32.5 372.7,33.3 373.3,34.4 373.9,35.3 374.5,35.7 375.1,36.4 375.7,37.4 376.4,38.2 377.0,36.8 377.6,37.2 378.2,39.6 378.8,40.4 379.4,40.1 380.1,41.5 380.7,42.4 381.3,43.3 381.9,43.8 382.5,44.3 383.1,45.3 383.8,46.1 384.4,48.1 385.0,49.8 385.6,50.2 386.2,51.3 386.8,53.1 387.4,54.7 388.1,55.3 388.7,56.9 389.3,59.3 389.9,60.9 390.5,62.0 391.1,63.3 391.8,64.2 392.4,65.3 393.0,66.2 393.6,68.0 394.2,70.6 394.8,72.3 395.4,74.4 396.1,76.2 396.7,77.3 397.3,78.9 397.9,80.8 398.5,82.3 399.1,82.6 399.8,84.2 400.4,86.4 401.0,87.4 401.6,88.9 402.2,90.9 402.8,92.9 403.5,94.4 404.1,96.3 404.7,97.5 405.3,98.2 405.9,99.8 406.5,101.0 407.1,102.6 407.8,104.8 408.4,106.4 409.0,108.3 409.6,110.1 410.2,110.6 410.8,111.5 411.5,114.2 412.1,115.6 412.7,116.0 413.3,117.3 413.9,119.2 414.5,119.9 415.2,121.3 415.8,122.3 416.4,122.8 417.0,123.5 417.6,124.5 418.2,125.3 418.8,125.2 419.5,126.1 420.1,128.3 420.7,129.1 421.3,130.2 421.9,130.7 422.5,132.1 423.2,133.2 423.8,134.6 424.4,134.9 425.0,135.5 425.6,135.6 426.2,134.9 426.9,135.6 427.5,136.7 428.1,136.9 428.7,136.1 429.3,136.6 429.9,137.1 430.5,137.6 431.2,138.9 431.8,139.2 432.4,138.2 433.0,138.8 433.6,139.9 434.2,140.4 434.9,141.0 435.5,141.1 436.1,142.3 436.7,142.4 437.3,142.1 437.9,143.0 438.5,144.3 439.2,144.6 439.8,144.5 440.4,145.0 441.0,146.0 441.6,146.2 442.2,146.8 442.9,146.9 443.5,147.1 444.1,147.5 444.7,148.1 445.3,149.2 445.9,150.0 446.6,150.3 447.2,150.7 447.8,150.7 448.4,150.6 449.0,150.6 449.6,152.2 450.2,152.1 450.9,150.9 451.5,150.9 452.1,151.6 452.7,151.0 453.3,151.9 453.9,152.4 454.6,152.0 455.2,151.7 455.8,152.8 456.4,152.8 457.0,151.3 457.6,151.6 458.3,152.5 458.9,152.5 459.5,152.4 460.1,152.3 460.7,151.7 461.3,152.1 461.9,153.0 462.6,152.6 463.2,152.6 463.8,152.8 464.4,154.0 465.0,153.7 465.6,153.9 466.3,153.9 466.9,154.6 467.5,154.6 468.1,154.0 468.7,154.5 469.3,153.8 470.0,153.8 470.6,154.7 471.2,154.8 471.8,154.6 472.4,154.8 473.0,155.6 473.6,156.1 474.3,155.9 474.9,156.0 475.5,156.5 476.1,156.4 476.7,156.2 477.3,156.5 478.0,156.6 478.6,156.8 479.2,157.0 479.8,157.2 480.4,157.5 481.0,157.5 481.6,157.9 482.3,157.9 482.9,158.7 483.5,158.1 484.1,157.8 484.7,157.5 485.3,159.0 486.0,159.2 486.6,158.7 487.2,158.6 487.8,158.2 488.4,158.8 489.0,159.1 489.7,159.6 490.3,159.3 490.9,159.4 491.5,160.2 492.1,160.1 492.7,158.6 493.3,158.5 494.0,160.6 494.6,160.6 495.2,160.3 495.8,160.0 496.4,159.5 497.0,159.3 497.7,157.9 498.3,157.6 498.9,158.1 499.5,157.8 500.1,157.9 500.7,158.1 501.4,158.5 502.0,158.0 502.6,157.0 503.2,156.9 503.8,157.8 504.4,157.3 505.0,158.3 505.7,157.4 506.3,158.0 506.9,157.9 507.5,157.7 508.1,157.3 508.7,156.9 509.4,156.6 510.0,156.6 510.6,156.6 511.2,156.6 511.8,156.7 512.4,157.0 513.1,156.6 513.7,157.4 514.3,157.7 514.9,156.7 515.5,156.9 516.1,158.1 516.7,158.1 517.4,157.8 518.0,158.1 518.6,157.9 519.2,158.3 519.8,159.1 520.4,159.5 521.1,160.2 521.7,160.7 522.3,159.7 522.9,161.1 523.5,162.1 524.1,163.2 524.7,164.2 525.4,164.5 526.0,166.3" fill="none" stroke="#00f5f5" stroke-width="1.1" stroke-linejoin="round" marker-start="url(#mcb)" marker-mid="url(#mcb)" marker-end="url(#mcb)"/>
<polyline clip-path="url(#cb)" points="319.1,125.6 319.7,125.5 320.3,125.2 320.9,125.2 321.6,125.0 322.2,125.2 322.8,125.3 323.4,125.3 324.0,125.3 324.6,125.4 325.3,125.3 325.9,125.2 326.5,125.1 327.1,125.1 327.7,125.1 328.3,124.6 329.0,124.4 329.6,124.8 330.2,125.2 330.8,125.2 331.4,125.0 332.0,124.8 332.6,124.4 333.3,124.4 333.9,124.7 334.5,124.7 335.1,124.5 335.7,124.1 336.3,124.1 337.0,124.1 337.6,124.4 338.2,124.6 338.8,124.2 339.4,124.2 340.0,123.8 340.7,123.8 341.3,123.8 341.9,124.0 342.5,123.5 343.1,123.8 343.7,123.3 344.3,123.5 345.0,123.3 345.6,123.2 346.2,122.9 346.8,122.8 347.4,123.2 348.0,122.7 348.7,123.5 349.3,123.7 349.9,123.4 350.5,122.8 351.1,122.6 351.7,122.5 352.3,122.7 353.0,122.5 353.6,122.7 354.2,122.7 354.8,122.7 355.4,122.6 356.0,121.8 356.7,122.0 357.3,122.1 357.9,122.2 358.5,122.2 359.1,122.1 359.7,121.7 360.4,121.6 361.0,121.6 361.6,122.1 362.2,121.9 362.8,121.7 363.4,122.0 364.0,121.8 364.7,121.7 365.3,121.0 365.9,120.9 366.5,121.1 367.1,120.7 367.7,120.8 368.4,120.7 369.0,120.9 369.6,120.7 370.2,120.6 370.8,120.6 371.4,120.7 372.1,120.4 372.7,120.8 373.3,120.6 373.9,120.6 374.5,120.7 375.1,120.6 375.7,120.5 376.4,120.3 377.0,120.1 377.6,120.2 378.2,119.6 378.8,119.3 379.4,119.4 380.1,120.5 380.7,120.0 381.3,120.0 381.9,119.6 382.5,119.6 383.1,119.5 383.8,119.9 384.4,119.9 385.0,119.5 385.6,119.1 386.2,119.1 386.8,119.0 387.4,118.4 388.1,118.5 388.7,118.6 389.3,119.0 389.9,118.9 390.5,118.7 391.1,118.8 391.8,118.4 392.4,118.4 393.0,117.9 393.6,117.8 394.2,117.6 394.8,117.8 395.4,118.1 396.1,118.1 396.7,118.6 397.3,118.5 397.9,118.6 398.5,118.9 399.1,118.9 399.8,118.8 400.4,119.3 401.0,119.2 401.6,119.1 402.2,118.8 402.8,118.7 403.5,118.7 404.1,119.1 404.7,119.4 405.3,119.2 405.9,118.9 406.5,118.9 407.1,118.9 407.8,119.2 408.4,119.2 409.0,119.6 409.6,120.0 410.2,120.0 410.8,120.0 411.5,119.9 412.1,120.3 412.7,120.2 413.3,120.1 413.9,120.2 414.5,119.9 415.2,120.3 415.8,120.2 416.4,120.3 417.0,120.6 417.6,120.8 418.2,120.3 418.8,121.2 419.5,121.4 420.1,121.2 420.7,120.7 421.3,120.8 421.9,120.8 422.5,121.3 423.2,121.4 423.8,121.4 424.4,121.9 425.0,122.0 425.6,121.9 426.2,121.6 426.9,121.5 427.5,121.8 428.1,121.5 428.7,121.7 429.3,121.5 429.9,121.4 430.5,121.3 431.2,121.5 431.8,122.1 432.4,122.1 433.0,122.5 433.6,122.6 434.2,122.9 434.9,122.5 435.5,121.9 436.1,122.1 436.7,122.1 437.3,122.4 437.9,122.5 438.5,122.6 439.2,123.0 439.8,123.0 440.4,122.8 441.0,123.4 441.6,123.4 442.2,123.6 442.9,123.9 443.5,124.2 444.1,124.9 444.7,124.9 445.3,125.5 445.9,127.5 446.6,130.4 447.2,130.7 447.8,130.9 448.4,131.1 449.0,131.0 449.6,131.3 450.2,131.5 450.9,131.5 451.5,131.5 452.1,131.0 452.7,131.1 453.3,131.4 453.9,132.1 454.6,132.1 455.2,132.3 455.8,131.9 456.4,132.0 457.0,132.1 457.6,132.5 458.3,132.6 458.9,132.3 459.5,132.7 460.1,132.6 460.7,132.7 461.3,133.2 461.9,133.4 462.6,133.3 463.2,133.2 463.8,133.2 464.4,133.2 465.0,133.4 465.6,133.7 466.3,134.1 466.9,135.0 467.5,135.3 468.1,135.7 468.7,136.4 469.3,136.7 470.0,137.1 470.6,137.7 471.2,138.3 471.8,138.4 472.4,138.4 473.0,138.9 473.6,139.2 474.3,139.8 474.9,139.9 475.5,140.3 476.1,140.1 476.7,140.7 477.3,140.8 478.0,141.3 478.6,141.5 479.2,141.7 479.8,142.2 480.4,142.5 481.0,142.8 481.6,142.7 482.3,142.6 482.9,143.1 483.5,143.1 484.1,143.3 484.7,143.6 485.3,143.9 486.0,144.4 486.6,144.1 487.2,144.6 487.8,144.7 488.4,145.1 489.0,145.1 489.7,145.4 490.3,145.5 490.9,145.9 491.5,146.1 492.1,146.2 492.7,146.7 493.3,147.0 494.0,147.2 494.6,146.6 495.2,147.1 495.8,147.1 496.4,148.1 497.0,148.1 497.7,148.1 498.3,148.4 498.9,148.2 499.5,148.4 500.1,149.3 500.7,149.4 501.4,149.5 502.0,149.0 502.6,149.2 503.2,149.4 503.8,150.0 504.4,150.0 505.0,150.3 505.7,150.2 506.3,150.0 506.9,150.0 507.5,150.1 508.1,150.0 508.7,149.8 509.4,150.1 510.0,150.1 510.6,150.0 511.2,149.7 511.8,149.8 512.4,149.8 513.1,150.0 513.7,149.9 514.3,149.9 514.9,149.8 515.5,149.9 516.1,149.8 516.7,149.7 517.4,149.7 518.0,149.6 518.6,149.8 519.2,149.8 519.8,149.5 520.4,149.5 521.1,149.5 521.7,149.4 522.3,149.4 522.9,149.4 523.5,149.2 524.1,149.5 524.7,149.6 525.4,149.3 526.0,148.9" fill="none" stroke="#00fa00" stroke-width="1.1" stroke-linejoin="round" marker-start="url(#mgb)" marker-mid="url(#mgb)" marker-end="url(#mgb)"/>
<rect x="319.1" y="11.5" width="215.5" height="169.9" fill="none" stroke="#858585" stroke-width="1"/>
<path d="M319.1 181.4v-2.2M319.1 11.5v2.2M349.9 181.4v-2.2M349.9 11.5v2.2M380.7 181.4v-2.2M380.7 11.5v2.2M411.5 181.4v-2.2M411.5 11.5v2.2M442.2 181.4v-2.2M442.2 11.5v2.2M473.0 181.4v-2.2M473.0 11.5v2.2M503.8 181.4v-2.2M503.8 11.5v2.2M534.6 181.4v-2.2M534.6 11.5v2.2M319.1 181.4h2.2M534.6 181.4h-2.2M319.1 160.2h2.2M534.6 160.2h-2.2M319.1 138.9h2.2M534.6 138.9h-2.2M319.1 117.7h2.2M534.6 117.7h-2.2M319.1 96.5h2.2M534.6 96.5h-2.2M319.1 75.2h2.2M534.6 75.2h-2.2M319.1 54.0h2.2M534.6 54.0h-2.2M319.1 32.7h2.2M534.6 32.7h-2.2M319.1 11.5h2.2M534.6 11.5h-2.2" stroke="#858585" stroke-width="0.8" fill="none"/>
<g font-size="6.6" fill="#3a3a3a">
<text x="319.1" y="191.2" text-anchor="middle">0</text>
<text x="349.9" y="191.2" text-anchor="middle">50</text>
<text x="380.7" y="191.2" text-anchor="middle">100</text>
<text x="411.5" y="191.2" text-anchor="middle">150</text>
<text x="442.2" y="191.2" text-anchor="middle">200</text>
<text x="473.0" y="191.2" text-anchor="middle">250</text>
<text x="503.8" y="191.2" text-anchor="middle">300</text>
<text x="534.6" y="191.2" text-anchor="middle">350</text>
<text x="316.1" y="184.2" text-anchor="end">0</text>
<text x="316.1" y="163.0" text-anchor="end">200</text>
<text x="316.1" y="141.7" text-anchor="end">400</text>
<text x="316.1" y="120.5" text-anchor="end">600</text>
<text x="316.1" y="99.2" text-anchor="end">800</text>
<text x="316.1" y="78.0" text-anchor="end">1000</text>
<text x="316.1" y="56.8" text-anchor="end">1200</text>
<text x="316.1" y="35.5" text-anchor="end">1400</text>
<text x="316.1" y="14.3" text-anchor="end">1600</text>
</g>
<text x="426.5" y="201.2" text-anchor="middle" font-size="7.33" fill="#3a3a3a">frame number</text>
<text transform="translate(297.1 96.0) rotate(-90)" text-anchor="middle" font-size="7.33" fill="#3a3a3a">x-coordinate or y-coordinate (pixel)</text>
<rect x="320.8" y="19.8" width="56.7" height="34.2" fill="#fff" stroke="#4a4a4a" stroke-width="0.9"/>
<polyline points="323.9,24.7 333.5,24.7 343.2,24.7" fill="none" stroke="#ff3030" stroke-width="0.7" marker-mid="url(#mxL)"/>
<text x="345.5" y="26.8" font-size="6.1" fill="#2a2a2a">Proposed x</text>
<polyline points="323.9,33.1 333.5,33.1 343.2,33.1" fill="none" stroke="#2020ff" stroke-width="0.8" marker-mid="url(#mtL)"/>
<text x="345.5" y="35.2" font-size="6.1" fill="#2a2a2a">Proposed y</text>
<polyline points="323.9,41.2 333.5,41.2 343.2,41.2" fill="none" stroke="#30f0f0" stroke-width="0.9" marker-mid="url(#mcL)"/>
<text x="345.5" y="43.3" font-size="6.1" fill="#2a2a2a">YOLO x</text>
<polyline points="323.9,49.6 333.5,49.6 343.2,49.6" fill="none" stroke="#10f010" stroke-width="0.9" marker-mid="url(#mgL)"/>
<text x="345.5" y="51.7" font-size="6.1" fill="#2a2a2a">YOLO y</text>
<text x="421.1" y="226.8" text-anchor="middle" font-family="'Liberation Serif', serif" font-weight="bold" font-size="13.2" fill="#111">b</text>
<!-- c -->
<polyline clip-path="url(#cc)" points="36.6,310.4 37.2,310.4 37.8,310.6 38.4,310.7 39.1,310.5 39.7,310.6 40.3,310.4 40.9,310.5 41.5,311.1 42.1,311.2 42.8,311.8 43.4,311.9 44.0,311.7 44.6,311.8 45.2,311.7 45.8,311.8 46.5,312.6 47.1,312.6 47.7,311.8 48.3,311.9 48.9,312.5 49.5,312.6 50.2,312.2 50.8,312.2 51.4,312.4 52.0,312.4 52.6,312.7 53.2,312.7 53.8,312.0 54.5,312.1 55.1,313.0 55.7,313.0 56.3,313.1 56.9,313.2 57.5,312.8 58.2,312.9 58.8,312.6 59.4,312.5 60.0,312.7 60.6,312.6 61.2,312.8 61.9,312.7 62.5,312.0 63.1,311.8 63.7,311.8 64.3,311.6 64.9,311.0 65.6,310.9 66.2,311.6 66.8,311.5 67.4,311.2 68.0,311.1 68.6,311.2 69.2,311.1 69.9,311.2 70.5,311.1 71.1,310.3 71.7,310.2 72.3,309.7 72.9,309.6 73.6,310.1 74.2,310.0 74.8,309.7 75.4,309.5 76.0,309.6 76.6,309.4 77.3,308.5 77.9,308.5 78.5,309.3 79.1,309.4 79.7,309.0 80.3,309.0 81.0,309.6 81.6,309.7 82.2,309.4 82.8,309.4 83.4,309.9 84.0,310.0 84.6,310.9 85.3,311.1 85.9,310.3 86.5,310.5 87.1,310.5 87.7,310.7 88.3,311.9 89.0,312.1 89.6,311.6 90.2,311.8 90.8,312.0 91.4,312.2 92.0,312.7 92.7,313.2 93.3,313.5 93.9,314.0 94.5,315.2 95.1,315.8 95.7,315.6 96.4,316.1 97.0,316.3 97.6,316.9 98.2,318.4 98.8,318.9 99.4,319.1 100.0,319.6 100.7,319.6 101.3,320.2 101.9,321.3 102.5,321.9 103.1,322.8 103.7,323.4 104.4,324.2 105.0,324.8 105.6,325.1 106.2,325.7 106.8,326.4 107.4,327.1 108.1,327.4 108.7,328.0 109.3,329.5 109.9,330.1 110.5,329.7 111.1,330.2 111.8,331.2 112.4,331.7 113.0,331.8 113.6,332.3 114.2,333.3 114.8,333.7 115.4,334.4 116.1,334.9 116.7,335.1 117.3,335.6 117.9,336.2 118.5,336.6 119.1,336.9 119.8,337.4 120.4,337.4 121.0,337.9 121.6,338.2 122.2,338.7 122.8,339.5 123.5,340.0 124.1,340.7 124.7,341.2 125.3,341.6 125.9,342.1 126.5,342.2 127.2,342.7 127.8,342.9 128.4,343.4 129.0,344.4 129.6,344.9 130.2,345.3 130.8,345.7 131.5,346.5 132.1,346.9 132.7,347.0 133.3,347.5 133.9,347.7 134.5,348.2 135.2,350.1 135.8,350.7 136.4,350.0 137.0,350.6 137.6,351.5 138.2,352.0 138.9,353.3 139.5,353.8 140.1,353.4 140.7,354.0 141.3,354.7 141.9,355.3 142.6,355.6 143.2,356.2 143.8,357.4 144.4,358.0 145.0,357.2 145.6,357.8 146.2,359.1 146.9,359.7 147.5,360.4 148.1,361.3 148.7,361.4 149.3,362.3 149.9,363.5 150.6,364.3 151.2,365.1 151.8,365.9 152.4,366.7 153.0,367.5 153.6,369.6 154.3,370.4 154.9,369.9 155.5,370.7 156.1,372.3 156.7,373.2 157.3,373.8 158.0,374.6 158.6,375.2 159.2,376.1 159.8,377.5 160.4,378.2 161.0,378.6 161.6,379.3 162.3,379.8 162.9,380.5 163.5,381.5 164.1,382.2 164.7,382.7 165.3,383.4 166.0,384.9 166.6,385.6 167.2,386.2 167.8,386.9 168.4,387.6 169.0,388.3 169.7,388.4 170.3,389.1 170.9,388.6 171.5,389.3 172.1,391.3 172.7,391.9 173.4,392.7 174.0,393.3 174.6,393.9 175.2,394.6 175.8,394.8 176.4,395.4 177.0,396.2 177.7,396.8 178.3,398.1 178.9,398.7 179.5,398.6 180.1,399.2 180.7,400.2 181.4,400.8 182.0,401.1 182.6,401.8 183.2,403.5 183.8,404.1 184.4,404.5 185.1,405.2 185.7,405.0 186.3,405.6 186.9,407.2 187.5,407.8 188.1,407.6 188.8,408.2 189.4,408.9 190.0,409.5 190.6,410.2 191.2,410.8 191.8,411.2 192.4,411.8 193.1,412.4 193.7,413.0 194.3,413.5 194.9,414.0 195.5,414.9 196.1,415.5 196.8,415.9 197.4,416.5 198.0,415.9 198.6,416.5 199.2,417.7 199.8,418.3 200.5,419.1 201.1,419.6 201.7,420.3 202.3,420.8 202.9,421.8 203.5,422.3 204.2,422.3 204.8,422.7 205.4,423.4 206.0,423.8 206.6,423.8 207.2,424.2 207.8,425.3 208.5,425.7 209.1,426.7 209.7,427.1 210.3,426.9 210.9,427.3 211.5,427.3 212.2,427.7 212.8,427.2 213.4,427.3 214.0,428.0 214.6,428.1 215.2,429.0 215.9,429.2 216.5,429.0 217.1,429.1 217.7,429.6 218.3,429.7 218.9,429.5 219.6,429.7 220.2,430.1 220.8,430.2 221.4,430.7 222.0,430.6 222.6,429.7 223.2,429.7 223.9,429.7 224.5,429.6 225.1,429.7 225.7,429.7 226.3,429.4 226.9,429.3 227.6,428.6 228.2,428.6 228.8,429.2 229.4,429.2 230.0,429.3 230.6,429.2 231.3,428.5 231.9,428.3 232.5,429.1 233.1,428.8 233.7,427.7 234.3,427.5 235.0,427.9 235.6,427.6 236.2,427.4 236.8,427.2 237.4,426.7 238.0,426.4 238.6,425.6 239.3,425.4 239.9,426.1 240.5,425.8 241.1,425.0 241.7,424.7 242.3,424.7 243.0,424.5 243.6,424.9" fill="none" stroke="#ff2a2a" stroke-width="0.5" stroke-linejoin="round" marker-start="url(#mxc)" marker-mid="url(#mxc)" marker-end="url(#mxc)"/>
<polyline clip-path="url(#cc)" points="36.6,385.4 37.2,385.4 37.8,385.3 38.4,385.3 39.1,385.3 39.7,385.2 40.3,385.0 40.9,384.9 41.5,384.9 42.1,384.8 42.8,384.7 43.4,384.6 44.0,384.3 44.6,384.2 45.2,384.2 45.8,384.4 46.5,384.3 47.1,384.2 47.7,383.7 48.3,383.7 48.9,383.6 49.5,383.7 50.2,383.6 50.8,383.5 51.4,383.6 52.0,383.5 52.6,383.4 53.2,383.4 53.8,383.3 54.5,383.2 55.1,382.9 55.7,382.8 56.3,382.7 56.9,383.0 57.5,382.9 58.2,382.8 58.8,382.8 59.4,382.7 60.0,382.6 60.6,382.2 61.2,382.1 61.9,382.1 62.5,381.7 63.1,381.7 63.7,381.6 64.3,381.6 64.9,381.6 65.6,381.5 66.2,381.5 66.8,381.4 67.4,381.4 68.0,381.4 68.6,381.3 69.2,381.2 69.9,381.5 70.5,381.5 71.1,381.4 71.7,381.0 72.3,381.0 72.9,380.9 73.6,381.1 74.2,381.0 74.8,381.0 75.4,380.4 76.0,380.4 76.6,380.3 77.3,380.4 77.9,380.4 78.5,380.4 79.1,380.4 79.7,380.4 80.3,380.3 81.0,380.2 81.6,380.2 82.2,380.2 82.8,380.2 83.4,380.1 84.0,380.1 84.6,380.1 85.3,380.1 85.9,380.0 86.5,380.1 87.1,380.2 87.7,380.2 88.3,380.5 89.0,380.5 89.6,380.6 90.2,380.8 90.8,380.8 91.4,380.9 92.0,380.7 92.7,380.7 93.3,380.8 93.9,380.6 94.5,380.7 95.1,380.8 95.7,380.9 96.4,381.0 97.0,381.1 97.6,381.5 98.2,381.5 98.8,381.6 99.4,381.6 100.0,381.7 100.7,381.8 101.3,382.1 101.9,382.2 102.5,382.2 103.1,382.2 103.7,382.3 104.4,382.4 105.0,382.7 105.6,382.8 106.2,382.8 106.8,382.8 107.4,382.9 108.1,383.0 108.7,382.8 109.3,382.9 109.9,383.0 110.5,383.4 111.1,383.5 111.8,383.7 112.4,383.6 113.0,383.8 113.6,383.9 114.2,384.4 114.8,384.6 115.4,384.7 116.1,384.8 116.7,384.9 117.3,385.1 117.9,385.1 118.5,385.2 119.1,385.4 119.8,385.4 120.4,385.5 121.0,385.7 121.6,386.0 122.2,386.1 122.8,386.3 123.5,386.2 124.1,386.3 124.7,386.5 125.3,386.9 125.9,387.0 126.5,387.2 127.2,387.0 127.8,387.1 128.4,387.2 129.0,387.4 129.6,387.6 130.2,387.7 130.8,388.3 131.5,388.4 132.1,388.5 132.7,388.4 133.3,388.5 133.9,388.7 134.5,388.9 135.2,389.1 135.8,389.2 136.4,389.1 137.0,389.3 137.6,389.4 138.2,389.9 138.9,390.0 139.5,390.1 140.1,390.1 140.7,390.3 141.3,390.4 141.9,390.5 142.6,390.6 143.2,390.8 143.8,391.5 144.4,391.7 145.0,391.8 145.6,391.8 146.2,391.9 146.9,392.1 147.5,391.8 148.1,392.0 148.7,392.1 149.3,392.3 149.9,392.5 150.6,392.6 151.2,392.5 151.8,392.7 152.4,392.8 153.0,393.1 153.6,393.2 154.3,393.4 154.9,393.8 155.5,393.9 156.1,394.0 156.7,393.8 157.3,393.9 158.0,394.0 158.6,394.4 159.2,394.5 159.8,394.6 160.4,394.6 161.0,394.7 161.6,394.9 162.3,395.0 162.9,395.1 163.5,395.3 164.1,395.2 164.7,395.3 165.3,395.5 166.0,395.9 166.6,396.0 167.2,396.0 167.8,396.1 168.4,396.1 169.0,396.2 169.7,396.5 170.3,396.6 170.9,396.6 171.5,395.9 172.1,395.9 172.7,396.0 173.4,396.7 174.0,396.7 174.6,396.8 175.2,396.9 175.8,396.9 176.4,397.0 177.0,397.1 177.7,397.2 178.3,397.3 178.9,397.2 179.5,397.3 180.1,397.4 180.7,397.4 181.4,397.5 182.0,397.5 182.6,397.4 183.2,397.5 183.8,397.5 184.4,397.7 185.1,397.7 185.7,397.8 186.3,397.8 186.9,397.9 187.5,398.0 188.1,398.2 188.8,398.3 189.4,398.4 190.0,398.3 190.6,398.4 191.2,398.4 191.8,398.2 192.4,398.3 193.1,398.3 193.7,398.6 194.3,398.6 194.9,398.6 195.5,398.6 196.1,398.7 196.8,398.7 197.4,399.2 198.0,399.2 198.6,399.2 199.2,398.8 199.8,398.8 200.5,398.9 201.1,399.0 201.7,399.0 202.3,399.0 202.9,398.9 203.5,398.9 204.2,398.9 204.8,399.7 205.4,399.7 206.0,399.7 206.6,399.2 207.2,399.2 207.8,399.2 208.5,399.3 209.1,399.3 209.7,399.3 210.3,399.3 210.9,399.3 211.5,399.3 212.2,399.5 212.8,399.5 213.4,399.5 214.0,399.3 214.6,399.4 215.2,399.4 215.9,399.3 216.5,399.3 217.1,399.2 217.7,399.3 218.3,399.3 218.9,399.3 219.6,399.4 220.2,399.4 220.8,399.3 221.4,399.3 222.0,399.3 222.6,399.3 223.2,399.3 223.9,399.3 224.5,399.3 225.1,399.2 225.7,399.2 226.3,399.2 226.9,399.3 227.6,399.3 228.2,399.2 228.8,399.4 229.4,399.3 230.0,399.2 230.6,398.5 231.3,398.4 231.9,398.3 232.5,398.9 233.1,398.8 233.7,398.7 234.3,398.3 235.0,398.2 235.6,398.2 236.2,398.3 236.8,398.2 237.4,398.2 238.0,398.0 238.6,397.9 239.3,397.9 239.9,398.0 240.5,397.9 241.1,397.9 241.7,397.7 242.3,397.6 243.0,397.6 243.6,397.7" fill="none" stroke="#0000ff" stroke-width="2.6" stroke-linejoin="round" marker-start="url(#mtc)" marker-mid="url(#mtc)" marker-end="url(#mtc)"/>
<polyline clip-path="url(#cc)" points="36.6,310.3 37.2,310.2 37.8,310.5 38.4,310.7 39.1,310.7 39.7,310.6 40.3,310.3 40.9,310.6 41.5,311.0 42.1,311.3 42.8,311.8 43.4,312.0 44.0,311.8 44.6,311.8 45.2,311.7 45.8,311.8 46.5,312.8 47.1,312.8 47.7,311.8 48.3,312.2 48.9,312.4 49.5,312.5 50.2,312.2 50.8,312.4 51.4,312.2 52.0,312.5 52.6,312.3 53.2,312.7 53.8,312.3 54.5,312.0 55.1,313.1 55.7,313.1 56.3,313.2 56.9,313.2 57.5,312.8 58.2,312.8 58.8,312.5 59.4,312.6 60.0,312.9 60.6,312.7 61.2,312.8 61.9,312.5 62.5,311.6 63.1,312.1 63.7,311.8 64.3,311.7 64.9,311.1 65.6,310.9 66.2,311.7 66.8,311.6 67.4,311.4 68.0,311.0 68.6,311.0 69.2,310.8 69.9,311.4 70.5,311.3 71.1,310.4 71.7,310.4 72.3,309.6 72.9,309.7 73.6,310.1 74.2,310.2 74.8,309.8 75.4,309.5 76.0,309.3 76.6,309.5 77.3,308.4 77.9,308.9 78.5,309.6 79.1,309.5 79.7,309.1 80.3,308.9 81.0,309.5 81.6,310.0 82.2,309.3 82.8,309.6 83.4,309.5 84.0,310.0 84.6,310.9 85.3,311.1 85.9,310.4 86.5,310.5 87.1,310.7 87.7,310.6 88.3,311.9 89.0,312.0 89.6,311.6 90.2,311.6 90.8,312.2 91.4,311.6 92.0,312.8 92.7,313.3 93.3,313.3 93.9,313.8 94.5,315.4 95.1,316.1 95.7,315.8 96.4,316.3 97.0,316.5 97.6,316.9 98.2,318.2 98.8,318.8 99.4,319.2 100.0,319.5 100.7,319.5 101.3,319.9 101.9,321.4 102.5,322.1 103.1,322.7 103.7,323.2 104.4,324.3 105.0,324.5 105.6,324.8 106.2,325.8 106.8,326.7 107.4,327.2 108.1,327.5 108.7,327.9 109.3,329.8 109.9,329.7 110.5,329.3 111.1,330.4 111.8,331.6 112.4,331.8 113.0,331.7 113.6,332.0 114.2,333.1 114.8,333.8 115.4,334.8 116.1,334.8 116.7,334.9 117.3,335.6 117.9,336.1 118.5,336.6 119.1,337.0 119.8,337.6 120.4,337.4 121.0,338.2 121.6,338.0 122.2,338.9 122.8,339.4 123.5,340.1 124.1,340.7 124.7,341.2 125.3,341.5 125.9,342.3 126.5,342.5 127.2,342.7 127.8,343.0 128.4,343.7 129.0,344.6 129.6,345.2 130.2,345.3 130.8,345.8 131.5,346.5 132.1,346.5 132.7,347.0 133.3,347.5 133.9,347.6 134.5,348.2 135.2,350.2 135.8,350.5 136.4,349.9 137.0,351.2 137.6,351.5 138.2,352.1 138.9,353.4 139.5,353.6 140.1,353.5 140.7,353.8 141.3,354.8 141.9,355.3 142.6,355.5 143.2,356.4 143.8,357.5 144.4,358.2 145.0,357.4 145.6,357.7 146.2,359.0 146.9,359.9 147.5,360.7 148.1,360.8 148.7,361.6 149.3,362.5 149.9,363.4 150.6,364.5 151.2,365.2 151.8,365.8 152.4,366.5 153.0,367.6 153.6,369.3 154.3,370.5 154.9,369.9 155.5,370.7 156.1,372.4 156.7,373.1 157.3,373.7 158.0,374.8 158.6,375.2 159.2,376.2 159.8,377.7 160.4,378.3 161.0,378.4 161.6,379.2 162.3,379.6 162.9,380.2 163.5,381.5 164.1,382.4 164.7,382.9 165.3,383.4 166.0,384.8 166.6,385.4 167.2,386.5 167.8,386.7 168.4,387.4 169.0,387.9 169.7,388.4 170.3,389.2 170.9,388.9 171.5,389.4 172.1,391.5 172.7,392.1 173.4,392.9 174.0,393.6 174.6,394.0 175.2,394.5 175.8,394.7 176.4,395.5 177.0,396.0 177.7,396.6 178.3,398.4 178.9,398.8 179.5,398.8 180.1,399.4 180.7,400.2 181.4,400.9 182.0,400.9 182.6,401.4 183.2,403.4 183.8,404.1 184.4,404.6 185.1,405.2 185.7,404.9 186.3,405.8 186.9,407.1 187.5,407.8 188.1,407.4 188.8,408.0 189.4,408.5 190.0,409.5 190.6,410.5 191.2,411.1 191.8,411.3 192.4,412.1 193.1,412.7 193.7,413.0 194.3,413.7 194.9,413.9 195.5,414.6 196.1,415.5 196.8,415.9 197.4,416.8 198.0,415.9 198.6,416.6 199.2,417.9 199.8,418.7 200.5,418.8 201.1,419.9 201.7,420.5 202.3,420.8 202.9,421.8 203.5,422.2 204.2,422.3 204.8,422.9 205.4,423.2 206.0,423.8 206.6,424.0 207.2,423.9 207.8,425.4 208.5,425.6 209.1,427.0 209.7,427.4 210.3,427.0 210.9,427.5 211.5,427.1 212.2,428.0 212.8,427.1 213.4,427.5 214.0,427.9 214.6,428.1 215.2,429.1 215.9,428.7 216.5,429.0 217.1,428.9 217.7,429.8 218.3,429.7 218.9,429.5 219.6,429.7 220.2,430.2 220.8,430.4 221.4,431.2 222.0,430.7 222.6,429.9 223.2,429.7 223.9,429.5 224.5,429.2 225.1,429.6 225.7,429.5 226.3,429.3 226.9,429.2 227.6,428.5 228.2,428.6 228.8,429.3 229.4,429.1 230.0,429.0 230.6,429.1 231.3,428.2 231.9,428.6 232.5,429.0 233.1,428.8 233.7,427.6 234.3,427.8 235.0,428.2 235.6,428.0 236.2,427.5 236.8,426.8 237.4,426.6 238.0,426.7 238.6,425.6 239.3,425.5 239.9,426.0 240.5,425.9 241.1,425.2 241.7,424.8 242.3,424.6 243.0,424.4 243.6,424.7" fill="none" stroke="#00f5f5" stroke-width="1.2" stroke-linejoin="round" marker-start="url(#mcc)" marker-mid="url(#mcc)" marker-end="url(#mcc)"/>
<path d="M43.5 311.9V264.2" stroke="#00f5f5" stroke-width="1.15" fill="none"/>
<path d="M43.5 264.2l1.5 1.5m-3 0l3-3m-3 0l1.5 1.5" stroke="#ff2a2a" stroke-width=".5" fill="none"/>
<path d="M110.7 329.9V264.2" stroke="#00f5f5" stroke-width="1.15" fill="none"/>
<path d="M110.7 264.2l1.5 1.5m-3 0l3-3m-3 0l1.5 1.5" stroke="#ff2a2a" stroke-width=".5" fill="none"/>
<polyline clip-path="url(#cc)" points="36.6,385.6 37.2,385.2 37.8,385.3 38.4,385.3 39.1,385.1 39.7,385.2 40.3,385.0 40.9,384.9 41.5,384.8 42.1,384.7 42.8,384.6 43.4,384.6 44.0,384.4 44.6,384.0 45.2,384.2 45.8,384.3 46.5,384.4 47.1,384.5 47.7,383.8 48.3,383.6 48.9,383.5 49.5,383.7 50.2,383.5 50.8,383.4 51.4,383.5 52.0,383.5 52.6,383.4 53.2,383.4 53.8,383.4 54.5,383.0 55.1,383.0 55.7,382.8 56.3,382.7 56.9,383.3 57.5,382.8 58.2,382.9 58.8,382.7 59.4,382.7 60.0,382.7 60.6,382.2 61.2,382.1 61.9,382.0 62.5,381.7 63.1,381.9 63.7,381.5 64.3,381.5 64.9,381.5 65.6,381.5 66.2,381.6 66.8,381.4 67.4,381.4 68.0,381.0 68.6,381.3 69.2,381.4 69.9,381.6 70.5,381.3 71.1,381.5 71.7,381.3 72.3,380.8 72.9,380.9 73.6,381.2 74.2,381.0 74.8,381.1 75.4,380.6 76.0,380.3 76.6,380.4 77.3,380.4 77.9,380.4 78.5,380.3 79.1,380.4 79.7,380.6 80.3,380.3 81.0,380.3 81.6,380.1 82.2,380.2 82.8,380.0 83.4,380.2 84.0,380.3 84.6,380.1 85.3,380.0 85.9,380.1 86.5,380.1 87.1,380.0 87.7,380.2 88.3,380.3 89.0,380.5 89.6,380.7 90.2,380.9 90.8,380.9 91.4,380.9 92.0,380.7 92.7,380.9 93.3,380.9 93.9,380.7 94.5,380.8 95.1,380.8 95.7,380.7 96.4,381.0 97.0,381.2 97.6,381.4 98.2,381.4 98.8,381.6 99.4,381.6 100.0,381.8 100.7,382.0 101.3,382.1 101.9,382.2 102.5,382.4 103.1,382.3 103.7,382.3 104.4,382.6 105.0,382.8 105.6,382.8 106.2,382.8 106.8,382.8 107.4,382.8 108.1,382.8 108.7,382.7 109.3,382.9 109.9,382.8 110.5,383.2 111.1,383.4 111.8,383.7 112.4,383.6 113.0,384.0 113.6,383.9 114.2,384.7 114.8,384.6 115.4,384.6 116.1,384.8 116.7,384.7 117.3,385.1 117.9,385.1 118.5,385.3 119.1,385.3 119.8,385.4 120.4,385.4 121.0,385.5 121.6,385.9 122.2,386.2 122.8,386.2 123.5,386.0 124.1,386.2 124.7,386.4 125.3,386.8 125.9,386.9 126.5,387.5 127.2,386.8 127.8,387.0 128.4,387.2 129.0,387.5 129.6,387.6 130.2,387.7 130.8,388.4 131.5,388.3 132.1,388.5 132.7,388.2 133.3,388.4 133.9,388.7 134.5,388.9 135.2,389.0 135.8,389.2 136.4,389.1 137.0,389.4 137.6,389.6 138.2,389.9 138.9,390.1 139.5,390.2 140.1,390.1 140.7,390.4 141.3,390.5 141.9,390.4 142.6,390.7 143.2,390.8 143.8,391.7 144.4,391.8 145.0,391.9 145.6,391.6 146.2,391.9 146.9,392.3 147.5,391.8 148.1,391.9 148.7,392.0 149.3,392.5 149.9,392.5 150.6,392.4 151.2,392.6 151.8,392.6 152.4,392.9 153.0,393.2 153.6,393.3 154.3,393.2 154.9,393.6 155.5,394.0 156.1,394.0 156.7,393.9 157.3,394.2 158.0,394.0 158.6,394.2 159.2,394.3 159.8,394.6 160.4,394.5 161.0,394.6 161.6,394.9 162.3,395.0 162.9,395.2 163.5,395.2 164.1,395.0 164.7,395.4 165.3,395.6 166.0,395.8 166.6,396.0 167.2,396.3 167.8,396.2 168.4,396.2 169.0,396.3 169.7,396.4 170.3,396.4 170.9,396.6 171.5,395.8 172.1,396.0 172.7,395.9 173.4,396.5 174.0,396.8 174.6,396.9 175.2,396.6 175.8,396.8 176.4,397.1 177.0,397.3 177.7,397.2 178.3,397.1 178.9,397.3 179.5,397.3 180.1,397.4 180.7,397.3 181.4,397.3 182.0,397.7 182.6,397.4 183.2,397.5 183.8,397.6 184.4,397.8 185.1,397.6 185.7,397.8 186.3,397.8 186.9,397.7 187.5,398.0 188.1,398.1 188.8,398.3 189.4,398.4 190.0,398.3 190.6,398.4 191.2,398.6 191.8,398.0 192.4,398.2 193.1,398.4 193.7,398.8 194.3,398.6 194.9,398.6 195.5,398.5 196.1,398.5 196.8,398.7 197.4,399.1 198.0,399.4 198.6,399.2 199.2,398.7 199.8,398.9 200.5,398.9 201.1,398.9 201.7,399.0 202.3,398.9 202.9,399.0 203.5,398.7 204.2,399.0 204.8,399.8 205.4,399.8 206.0,399.7 206.6,399.3 207.2,399.2 207.8,399.2 208.5,399.0 209.1,399.2 209.7,399.3 210.3,399.2 210.9,399.2 211.5,399.3 212.2,399.6 212.8,399.6 213.4,399.5 214.0,399.2 214.6,399.3 215.2,399.4 215.9,399.2 216.5,399.3 217.1,399.2 217.7,399.2 218.3,399.2 218.9,399.2 219.6,399.4 220.2,399.3 220.8,399.4 221.4,399.2 222.0,399.3 222.6,399.4 223.2,399.3 223.9,399.2 224.5,399.5 225.1,399.3 225.7,399.0 226.3,399.1 226.9,399.3 227.6,399.4 228.2,399.0 228.8,399.2 229.4,399.2 230.0,399.3 230.6,398.4 231.3,398.3 231.9,398.4 232.5,398.9 233.1,398.8 233.7,398.6 234.3,398.3 235.0,398.3 235.6,398.3 236.2,398.5 236.8,398.1 237.4,398.0 238.0,397.9 238.6,397.8 239.3,397.9 239.9,398.0 240.5,397.9 241.1,397.9 241.7,397.5 242.3,397.8 243.0,397.6 243.6,397.7" fill="none" stroke="#00fa00" stroke-width="1.1" stroke-linejoin="round" marker-start="url(#mgc)" marker-mid="url(#mgc)" marker-end="url(#mgc)"/>
<path d="M43.5 384.6V367.8" stroke="#00fa00" stroke-width="1" fill="none"/>
<path d="M43.5 365.6l2.1 3.9h-4.2z" stroke="#00f" stroke-width=".6" fill="none"/>
<path d="M110.7 383.4V369.7" stroke="#00fa00" stroke-width="1" fill="none"/>
<path d="M110.7 367.5l2.1 3.9h-4.2z" stroke="#00f" stroke-width=".6" fill="none"/>
<rect x="36.6" y="264.2" width="215.6" height="169.6" fill="none" stroke="#858585" stroke-width="1"/>
<path d="M36.6 433.8v-2.2M36.6 264.2v2.2M67.4 433.8v-2.2M67.4 264.2v2.2M98.2 433.8v-2.2M98.2 264.2v2.2M129.0 433.8v-2.2M129.0 264.2v2.2M159.8 433.8v-2.2M159.8 264.2v2.2M190.6 433.8v-2.2M190.6 264.2v2.2M221.4 433.8v-2.2M221.4 264.2v2.2M252.2 433.8v-2.2M252.2 264.2v2.2M36.6 433.8h2.2M252.2 433.8h-2.2M36.6 415.0h2.2M252.2 415.0h-2.2M36.6 396.1h2.2M252.2 396.1h-2.2M36.6 377.3h2.2M252.2 377.3h-2.2M36.6 358.4h2.2M252.2 358.4h-2.2M36.6 339.6h2.2M252.2 339.6h-2.2M36.6 320.7h2.2M252.2 320.7h-2.2M36.6 301.9h2.2M252.2 301.9h-2.2M36.6 283.0h2.2M252.2 283.0h-2.2M36.6 264.2h2.2M252.2 264.2h-2.2" stroke="#858585" stroke-width="0.8" fill="none"/>
<g font-size="6.6" fill="#3a3a3a">
<text x="36.6" y="443.6" text-anchor="middle">0</text>
<text x="67.4" y="443.6" text-anchor="middle">50</text>
<text x="98.2" y="443.6" text-anchor="middle">100</text>
<text x="129.0" y="443.6" text-anchor="middle">150</text>
<text x="159.8" y="443.6" text-anchor="middle">200</text>
<text x="190.6" y="443.6" text-anchor="middle">250</text>
<text x="221.4" y="443.6" text-anchor="middle">300</text>
<text x="252.2" y="443.6" text-anchor="middle">350</text>
<text x="33.6" y="436.6" text-anchor="end">0</text>
<text x="33.6" y="417.8" text-anchor="end">200</text>
<text x="33.6" y="398.9" text-anchor="end">400</text>
<text x="33.6" y="380.1" text-anchor="end">600</text>
<text x="33.6" y="361.2" text-anchor="end">800</text>
<text x="33.6" y="342.4" text-anchor="end">1000</text>
<text x="33.6" y="323.5" text-anchor="end">1200</text>
<text x="33.6" y="304.7" text-anchor="end">1400</text>
<text x="33.6" y="285.8" text-anchor="end">1600</text>
<text x="33.6" y="267.0" text-anchor="end">1800</text>
</g>
<text x="144.0" y="453.6" text-anchor="middle" font-size="7.33" fill="#3a3a3a">frame number</text>
<text transform="translate(14.6 348.5) rotate(-90)" text-anchor="middle" font-size="7.33" fill="#3a3a3a">x-coordinate or y-coordinate (pixel)</text>
<rect x="183.5" y="275.6" width="56.3" height="34.4" fill="#fff" stroke="#4a4a4a" stroke-width="0.9"/>
<polyline points="186.2,281.1 195.4,281.1 204.7,281.1" fill="none" stroke="#ff3030" stroke-width="1.6" marker-mid="url(#mxL)"/>
<text x="207.3" y="283.2" font-size="6.1" fill="#2a2a2a">Proposed x</text>
<polyline points="186.2,289.6 195.4,289.6 204.7,289.6" fill="none" stroke="#2020ff" stroke-width="1.5" marker-mid="url(#mtL)"/>
<text x="207.3" y="291.7" font-size="6.1" fill="#2a2a2a">Proposed y</text>
<polyline points="186.2,297.8 195.4,297.8 204.7,297.8" fill="none" stroke="#30f0f0" stroke-width="1.5" marker-mid="url(#mcL)"/>
<text x="207.3" y="299.9" font-size="6.1" fill="#2a2a2a">YOLO x</text>
<polyline points="186.2,305.9 195.4,305.9 204.7,305.9" fill="none" stroke="#10f010" stroke-width="0.9" marker-mid="url(#mgL)"/>
<text x="207.3" y="308.0" font-size="6.1" fill="#2a2a2a">YOLO y</text>
<text x="138.8" y="479.3" text-anchor="middle" font-family="'Liberation Serif', serif" font-weight="bold" font-size="13.2" fill="#111">c</text>
<!-- d -->
<polyline clip-path="url(#cd)" points="319.1,313.8 319.2,313.1 319.4,312.9 319.5,312.3 319.7,311.6 319.8,309.3 320.0,309.2 320.1,308.6 320.2,308.8 320.4,307.7 320.5,309.1 320.7,308.0 320.8,305.6 321.0,304.5 321.1,304.0 321.3,299.5 321.4,297.7 321.5,296.6 321.7,298.1 321.8,298.2 322.0,297.2 322.1,297.4 322.3,297.2 322.4,297.4 322.5,299.6 322.7,300.4 322.8,298.8 323.0,298.9 323.1,297.9 323.3,298.1 323.4,298.8 323.6,299.0 323.7,297.9 323.8,298.0 324.0,298.8 324.1,297.9 324.3,297.4 324.4,297.5 324.6,298.5 324.7,298.6 324.8,301.3 325.0,301.4 325.1,301.2 325.3,301.3 325.4,301.3 325.6,300.8 325.7,301.0 325.9,301.1 326.0,301.4 326.1,301.5 326.3,300.5 326.4,300.6 326.6,301.8 326.7,301.9 326.9,302.4 327.0,302.3 327.1,302.2 327.3,302.3 327.4,301.4 327.6,301.5 327.7,304.5 327.9,304.5 328.0,302.8 328.2,302.8 328.3,302.5 328.4,302.6 328.6,302.0 328.7,301.9 328.9,302.9 329.0,302.7 329.2,301.4 329.3,301.2 329.4,300.4 329.6,300.2 329.7,300.0 329.9,301.1 330.0,300.1 330.2,300.0 330.3,300.7 330.4,300.5 330.6,299.1 330.7,298.9 330.9,299.4 331.0,299.2 331.2,298.3 331.3,298.2 331.5,298.1 331.6,298.2 331.7,297.5 331.9,297.6 332.0,299.7 332.2,299.8 332.3,299.0 332.5,299.1 332.6,299.2 332.7,298.4 332.9,299.8 333.0,299.9 333.2,300.2 333.3,300.2 333.5,300.3 333.6,300.3 333.8,300.1 333.9,300.2 334.0,300.7 334.2,301.0 334.3,300.0 334.5,300.1 334.6,300.1 334.8,300.3 334.9,298.7 335.0,298.8 335.2,299.6 335.3,299.7 335.5,300.4 335.6,301.7 335.8,301.3 335.9,301.4 336.1,302.5 336.2,302.6 336.3,301.8 336.5,302.0 336.6,302.7 336.8,302.9 336.9,301.7 337.1,304.2 337.2,306.9 337.3,307.1 337.5,304.9 337.6,305.0 337.8,302.4 337.9,302.5 338.1,303.3 338.2,303.4 338.4,303.3 338.5,305.7 338.6,305.9 338.8,306.0 338.9,305.4 339.1,305.6 339.2,304.3 339.4,304.5 339.5,305.7 339.6,305.9 339.8,304.9 339.9,302.9 340.1,304.6 340.2,304.7 340.4,304.2 340.5,304.3 340.7,304.2 340.8,304.4 340.9,305.7 341.1,305.8 341.2,304.9 341.4,307.4 341.5,308.2 341.7,308.3 341.8,307.5 341.9,307.6 342.1,309.9 342.2,310.0 342.4,310.7 342.5,310.9 342.7,310.7 342.8,309.1 342.9,308.3 343.1,308.4 343.2,308.4 343.4,308.5 343.5,309.6 343.7,309.7 343.8,310.7 344.0,310.8 344.1,310.0 344.2,309.4 344.4,310.4 344.5,310.6 344.7,310.6 344.8,310.8 345.0,312.0 345.1,312.1 345.2,313.1 345.4,313.3 345.5,314.6 345.7,312.1 345.8,310.5 346.0,310.7 346.1,311.4 346.3,311.6 346.4,311.5 346.5,311.7 346.7,310.8 346.8,310.9 347.0,312.4 347.1,315.8 347.3,315.2 347.4,315.4 347.5,316.0 347.7,316.2 347.8,314.0 348.0,314.2 348.1,317.4 348.3,317.6 348.4,316.5 348.6,316.6 348.7,316.7 348.8,316.9 349.0,316.6 349.1,316.9 349.3,316.6 349.4,316.8 349.6,317.1 349.7,317.3 349.8,316.2 350.0,319.4 350.1,320.9 350.3,321.2 350.4,321.0 350.6,321.3 350.7,319.5 350.9,319.8 351.0,319.8 351.1,320.1 351.3,321.6 351.4,322.3 351.6,322.1 351.7,322.4 351.9,322.4 352.0,322.7 352.1,323.4 352.3,323.9 352.4,323.6 352.6,324.1 352.7,324.9 352.9,323.7 353.0,324.1 353.1,324.5 353.3,325.4 353.4,325.8 353.6,328.2 353.7,328.7 353.9,330.2 354.0,329.7 354.2,328.8 354.3,327.7 354.4,328.1 354.6,327.6 354.7,326.8 354.9,326.3 355.0,323.9 355.2,323.4 355.3,323.5 355.4,323.0 355.6,323.6 355.7,321.4 355.9,319.6 356.0,319.0 356.2,318.5 356.3,317.9 356.5,319.1 356.6,318.5 356.7,316.9 356.9,316.4 357.0,430.2 357.2,316.1 357.3,429.7 357.5,314.8 357.6,429.9 357.7,313.8 357.9,429.7 358.0,313.4 358.2,429.5 358.3,312.3 358.5,429.7 358.6,314.3 358.8,430.0 358.9,314.3 359.0,429.5 359.2,313.3 359.3,429.9 359.5,314.1 359.6,429.5 359.8,314.6 359.9,429.9 360.0,314.1 360.2,429.9 360.3,313.9 360.5,429.8 360.6,315.0 360.8,430.0 360.9,312.9 361.1,429.4 361.2,313.4 361.3,429.5 361.5,311.8 361.6,429.9 361.8,311.5 361.9,429.7 362.1,310.3 362.2,429.7 362.3,316.0 362.5,429.9 362.6,313.8 362.8,429.7 362.9,314.6 363.1,429.8 363.2,313.9 363.3,430.0 363.5,315.9 363.6,429.7 363.8,314.8 363.9,429.6 364.1,315.3 364.2,429.6 364.4,314.8 364.5,429.8 364.6,315.2 364.8,430.0 364.9,315.6 365.1,430.1 365.2,312.2 365.4,313.2 365.5,313.2 365.6,314.3 365.8,315.2 365.9,314.5 366.1,314.6 366.2,316.9 366.4,316.9 366.5,315.6 366.7,315.5 366.8,314.2 366.9,314.1 367.1,315.2 367.2,316.4 367.4,315.8 367.5,315.8 367.7,316.6 367.8,316.5 367.9,315.5 368.1,315.4 368.2,315.8 368.4,315.7 368.5,315.8 368.7,314.4 368.8,313.7 369.0,313.7 369.1,429.5 369.2,312.9 369.4,314.0 369.5,313.8 369.7,315.4 369.8,315.2 370.0,313.6 370.1,313.8 370.2,313.7 370.4,313.5 370.5,314.3 370.7,314.2 370.8,313.0 371.0,312.8 371.1,311.9 371.3,311.7 371.4,311.5 371.5,313.3 371.7,312.9 371.8,312.6 372.0,312.8 372.1,312.5 372.3,311.1 372.4,310.8 372.5,310.4 372.7,310.1 372.8,310.2 373.0,308.3 373.1,307.5 373.3,307.2 373.4,307.6 373.5,307.3 373.7,308.6 373.8,308.3 374.0,307.2 374.1,307.3 374.3,306.8 374.4,306.1 374.6,305.0 374.7,305.1 374.8,308.5 375.0,308.6 375.1,309.3 375.3,309.4 375.4,309.7 375.6,309.8 375.7,309.2 375.8,307.6 376.0,308.5 376.1,308.6 376.3,308.0 376.4,308.2 376.6,309.2 376.7,309.4 376.9,310.7 377.0,310.9 377.1,310.6 377.3,308.5 377.4,307.5 377.6,307.7 377.7,308.4 377.9,308.5 378.0,311.0 378.1,311.1 378.3,308.8 378.4,309.0 378.6,311.0 378.7,311.5 378.9,311.0 379.0,311.2 379.2,311.8 379.3,312.0 379.4,311.0 379.6,311.2 379.7,311.5 379.9,311.7 380.0,310.9 380.2,312.4 380.3,313.5 380.4,313.7 380.6,314.2 380.7,314.4 380.9,315.2 381.0,315.4 381.2,315.2 381.3,315.4 381.5,317.0 381.6,314.8 381.7,313.2 381.9,313.4 382.0,314.6 382.2,314.8 382.3,315.3 382.5,315.5 382.6,315.3 382.7,315.5 382.9,316.4 383.0,315.7 383.2,315.8 383.3,316.0 383.5,316.9 383.6,317.1 383.8,318.7 383.9,318.9 384.0,319.9 384.2,320.2 384.3,319.2 384.5,318.4 384.6,318.8 384.8,319.1 384.9,320.1 385.0,319.6 385.2,319.4 385.3,318.9 385.5,317.5 385.6,316.9 385.8,317.1 385.9,317.0 386.0,316.0 386.2,315.4 386.3,315.8 386.5,315.3 386.6,429.9 386.8,314.9 386.9,313.7 387.1,313.3 387.2,313.1 387.3,310.3 387.5,310.4 387.6,309.9 387.8,308.0 387.9,307.6 388.1,310.7 388.2,310.2 388.3,310.3 388.5,309.9 388.6,308.8 388.8,308.2 388.9,308.0 389.1,307.7 389.2,306.8 389.4,306.4 389.5,304.9 389.6,304.6 389.8,305.7 389.9,305.3 390.1,305.3 390.2,425.1 390.4,301.6 390.5,301.7 390.6,301.2 390.8,301.4 390.9,303.3 391.1,303.5 391.2,303.9 391.4,304.0 391.5,304.4 391.7,305.9 391.8,305.3 391.9,305.4 392.1,305.5 392.2,305.7 392.4,304.3 392.5,303.9 392.7,302.8 392.8,302.4 392.9,303.1 393.1,303.2 393.2,302.6 393.4,302.2 393.5,302.3 393.7,301.9 393.8,298.7 394.0,298.3 394.1,298.1 394.2,297.7 394.4,297.1 394.5,430.1 394.7,298.4 394.8,298.4 395.0,430.1 395.1,296.8 395.2,299.2 395.4,429.5 395.5,298.9 395.7,298.8 395.8,429.5 396.0,297.9 396.1,298.4 396.2,429.7 396.4,298.3 396.5,298.2 396.7,429.7 396.8,299.4 397.0,298.5 397.1,298.2 397.3,297.7 397.4,296.7 397.5,297.1 397.7,296.8 397.8,295.6 398.0,295.3 398.1,294.5 398.3,294.2 398.4,295.2 398.5,294.9 398.7,294.9 398.8,294.8 399.0,294.4 399.1,294.7 399.3,294.2 399.4,294.4 399.6,292.8 399.7,293.1 399.8,294.4 400.0,294.6 400.1,294.9 400.3,295.8 400.4,296.9 400.6,297.2 400.7,296.3 400.8,296.6 401.0,300.0 401.1,296.1 401.3,297.0 401.4,298.9 401.6,297.2 401.7,298.2 401.9,304.6 402.0,300.7 402.1,300.7 402.3,305.7 402.4,302.6 402.6,303.6 402.7,309.2 402.9,306.3 403.0,307.2 403.1,311.8 403.3,308.5 403.4,309.7 403.6,313.3 403.7,312.4 403.9,313.6 404.0,320.7 404.2,315.7 404.3,316.8 404.4,318.0 404.6,318.5 404.7,319.7 404.9,320.9 405.0,319.5 405.2,318.8 405.3,322.9 405.4,318.2 405.6,317.0 405.7,321.7 405.9,316.1 406.0,316.3 406.2,318.5 406.3,315.6 406.4,314.7 406.6,317.8 406.7,314.0 406.9,313.5 407.0,316.0 407.2,310.2 407.3,311.1 407.5,313.3 407.6,310.0 407.7,309.4 407.9,310.7 408.0,306.8 408.2,310.3 408.3,315.3 408.5,308.9 408.6,308.4 408.7,312.9 408.9,306.2 409.0,306.4 409.2,308.5 409.3,305.7 409.5,305.5 409.6,303.2 409.8,302.2 409.9,301.8 410.0,304.4 410.2,301.9 410.3,303.5 410.5,305.2 410.6,302.6 410.8,303.2 410.9,308.0 411.0,305.2 411.2,305.3 411.3,306.6 411.5,305.2 411.6,307.3 411.8,307.7 411.9,303.6 412.1,303.7 412.2,308.2 412.3,303.7 412.5,304.9 412.6,311.1 412.8,305.9 412.9,306.0 413.1,307.0 413.2,305.5 413.3,306.3 413.5,308.9 413.6,305.5 413.8,305.7 413.9,305.2 414.1,302.3 414.2,302.0 414.4,305.1 414.5,301.7 414.6,302.7 414.8,307.2 414.9,301.9 415.1,302.3 415.2,303.4 415.4,301.9 415.5,301.6 415.6,306.5 415.8,300.3 415.9,300.7 416.1,306.7 416.2,300.8 416.4,300.5 416.5,301.7 416.6,301.3 416.8,301.4 416.9,302.4 417.1,303.2 417.2,303.8 417.4,303.5 417.5,303.6 417.7,305.4 417.8,311.5 417.9,305.9 418.1,306.5 418.2,308.9 418.4,309.2 418.5,308.2 418.7,309.8 418.8,308.6 418.9,310.1 419.1,315.1 419.2,311.2 419.4,312.1 419.5,318.2 419.7,310.7 419.8,310.9 420.0,311.0 420.1,311.1 420.2,311.5 420.4,311.6 420.5,311.8 420.7,311.8 420.8,310.8 421.0,310.8 421.1,311.4 421.2,311.4 421.4,311.7 421.5,311.7 421.7,310.9 421.8,312.4 422.0,313.0 422.1,313.0 422.3,313.5 422.4,313.6 422.5,311.2 422.7,311.2 422.8,312.1 423.0,312.1 423.1,311.3 423.3,311.6 423.4,312.7 423.5,312.8 423.7,312.1 423.8,312.2 424.0,311.4 424.1,311.4 424.3,311.9 424.4,312.0 424.6,312.0 424.7,312.1 424.8,312.1 425.0,312.1 425.1,311.9 425.3,311.9 425.4,314.3 425.6,314.3 425.7,314.1 425.8,314.1 426.0,314.6 426.1,312.1 426.3,310.7 426.4,310.8 426.6,312.7 426.7,312.7 426.9,311.7 427.0,311.7 427.1,313.0 427.3,313.0 427.4,312.0 427.6,314.3 427.7,313.8 427.9,313.9 428.0,315.5 428.1,315.5 428.3,312.3 428.4,312.3 428.6,314.2 428.7,314.2 428.9,314.2 429.0,315.0 429.1,314.3 429.3,314.3 429.4,315.3 429.6,315.4 429.7,313.6 429.9,313.6 430.0,314.0 430.2,314.0 430.3,316.2 430.4,314.7 430.6,313.8 430.7,313.9 430.9,313.4 431.0,313.5 431.2,313.3 431.3,313.3 431.4,314.3 431.6,314.4 431.7,314.2 431.9,312.7 432.0,311.8 432.2,311.8 432.3,312.9 432.5,313.0 432.6,314.2 432.7,314.5 432.9,315.9 433.0,316.2 433.2,314.9 433.3,316.5 433.5,316.6 433.6,316.9 433.7,318.9 433.9,319.2 434.0,319.0 434.2,319.2 434.3,319.1 434.5,319.4 434.6,317.9 434.8,321.0 434.9,320.7 435.0,319.4 435.2,317.0 435.3,315.8 435.5,311.5 435.6,310.2 435.8,308.6 435.9,307.3 436.0,305.5 436.2,305.9 436.3,303.8 436.5,303.8 436.6,304.6 436.8,304.6 436.9,305.0 437.1,305.0 437.2,304.1 437.3,304.1 437.5,304.2 437.6,304.6 437.8,304.3 437.9,304.3 438.1,304.7 438.2,304.7 438.3,306.1 438.5,306.1 438.6,305.7 438.8,305.7 438.9,307.4 439.1,306.6 439.2,304.7 439.3,304.7 439.5,304.1 439.6,304.1 439.8,305.3 439.9,305.3 440.1,306.3 440.2,306.3 440.4,306.7 440.5,306.4 440.6,304.5 440.8,304.5 440.9,305.7 441.1,305.7 441.2,304.6 441.4,304.6 441.5,304.3 441.6,304.3 441.8,304.8 441.9,306.4 442.1,305.9 442.2,305.8 442.4,304.7 442.5,304.6 442.7,302.8 442.8,302.7 442.9,300.9 443.1,300.8 443.2,301.8 443.4,304.6 443.5,304.5 443.7,304.4 443.8,303.9 443.9,303.8 444.1,301.7 444.2,301.6 444.4,301.4 444.5,301.3 444.7,301.5 444.8,303.0 445.0,303.7 445.1,303.6 445.2,302.0 445.4,301.9 445.5,303.6 445.7,303.5 445.8,303.9 446.0,303.8 446.1,302.5 446.2,300.7 446.4,300.7 446.5,300.6 446.7,301.0 446.8,300.9 447.0,300.9 447.1,300.8 447.3,300.3 447.4,300.2 447.5,299.2 447.7,299.5 447.8,300.8 448.0,300.6 448.1,301.3 448.3,301.2 448.4,300.5 448.5,300.4 448.7,299.5 448.8,299.4 449.0,299.8 449.1,300.3 449.3,300.5 449.4,300.4 449.5,299.3 449.7,299.2 449.8,297.9 450.0,297.8 450.1,298.4 450.3,298.2 450.4,297.8 450.6,298.7 450.7,299.7 450.8,300.2 451.0,300.6 451.1,301.1 451.3,300.8 451.4,301.3 451.6,302.4 451.7,302.8 451.8,302.2 452.0,301.4 452.1,302.2 452.3,302.6 452.4,303.4 452.6,303.8 452.7,306.5 452.9,307.1 453.0,307.6 453.1,308.2 453.3,309.3 453.4,309.1 453.6,309.5 453.7,310.1 453.9,310.8 454.0,311.4 454.1,310.6 454.3,311.2 454.4,313.8 454.6,314.3 454.7,313.8 454.9,314.5 455.0,313.7 455.2,313.4 455.3,314.4 455.4,314.2 455.6,314.5 455.7,314.2 455.9,314.0 456.0,313.7 456.2,314.0 456.3,312.6 456.4,310.4 456.6,310.1 456.7,310.8 456.9,310.6 457.0,310.4 457.2,310.2 457.3,309.6 457.5,309.4 457.6,308.6 457.7,308.6 457.9,308.7 458.0,308.5 458.2,308.7 458.3,308.5 458.5,309.0 458.6,308.8 458.7,309.5 458.9,309.3 459.0,308.8 459.2,306.1 459.3,305.5 459.5,305.3 459.6,305.7 459.7,305.5 459.9,304.8 460.0,304.6 460.2,304.8 460.3,304.6 460.5,302.4 460.6,303.0 460.8,305.0 460.9,305.0 461.0,304.2 461.2,304.2 461.3,306.3 461.5,306.2 461.6,306.4 461.8,306.3 461.9,305.6 462.0,305.4 462.2,305.5 462.3,305.5 462.5,305.4 462.6,305.4 462.8,302.1 462.9,302.1 463.1,301.4 463.2,301.4 463.3,300.6 463.5,300.8 463.6,300.7 463.8,300.7 463.9,301.9 464.1,301.9 464.2,302.0 464.3,301.9 464.5,302.0 464.6,301.9 464.8,303.4 464.9,304.9 465.1,304.8 465.2,304.7 465.4,304.4 465.5,304.4 465.6,300.6 465.8,300.5 465.9,301.9 466.1,301.9 466.2,301.9 466.4,303.0 466.5,301.9 466.6,301.8 466.8,302.8 466.9,302.8 467.1,299.6 467.2,298.0 467.4,295.9 467.5,294.3 467.7,293.0 467.8,293.8 467.9,294.0 468.1,291.5 468.2,288.3 468.4,285.8 468.5,286.2 468.7,289.0 468.8,293.3 468.9,296.1 469.1,297.2 469.2,298.7 469.4,300.4 469.5,301.2 469.7,301.8 469.8,302.6 470.0,302.3 470.1,303.1 470.2,305.3 470.4,306.1 470.5,306.2 470.7,308.5 470.8,309.5 471.0,310.3 471.1,310.2 471.2,311.0 471.4,307.7 471.5,306.9 471.7,307.3 471.8,306.6 472.0,305.6 472.1,306.2 472.2,306.8 472.4,306.0 472.5,304.1 472.7,303.4 472.8,303.0 473.0,302.6 473.1,302.1 473.3,301.6 473.4,300.6 473.5,298.6 473.7,297.6 473.8,297.1 474.0,297.6 474.1,297.1 474.3,296.8 474.4,296.3 474.5,297.2 474.7,297.2 474.8,295.7 475.0,298.2 475.1,298.6 475.3,298.6 475.4,299.8 475.6,299.8 475.7,296.2 475.8,296.2 476.0,296.8 476.1,296.8 476.3,295.7 476.4,295.6 476.6,295.9 476.7,295.9 476.8,296.2 477.0,296.2 477.1,295.0 477.3,295.0 477.4,296.3 477.6,296.3 477.7,296.4 477.9,294.4 478.0,294.1 478.1,294.1 478.3,294.1 478.4,294.1 478.6,297.6 478.7,297.6 478.9,296.7 479.0,296.7 479.1,296.8 479.3,296.1 479.4,296.7 479.6,296.7 479.7,297.4 479.9,297.4 480.0,297.4 480.2,297.4 480.3,297.3 480.4,297.3 480.6,297.6 480.7,297.3 480.9,297.2 481.0,297.2 481.2,296.7 481.3,296.7 481.4,296.7 481.6,296.7 481.7,295.8 481.9,295.8 482.0,297.0 482.2,296.5 482.3,297.0 482.4,297.0 482.6,296.4 482.7,296.4 482.9,296.7 483.0,296.7 483.2,296.2 483.3,296.2 483.5,295.4 483.6,294.6 483.7,295.6 483.9,295.7 484.0,295.3 484.2,295.4 484.3,294.7 484.5,294.8 484.6,295.1 484.7,295.2 484.9,296.4 485.0,296.2 485.2,296.8 485.3,296.9 485.5,295.1 485.6,295.2 485.8,298.7 485.9,298.8 486.0,299.4 486.2,299.4 486.3,299.6 486.5,299.0 486.6,297.0 486.8,297.1 486.9,298.9 487.0,299.0 487.2,299.6 487.3,299.7 487.5,299.7 487.6,299.8 487.8,298.9 487.9,297.8 488.1,299.8 488.2,299.9 488.3,299.1 488.5,299.2 488.6,299.0 488.8,299.2 488.9,298.5 489.1,298.7 489.2,299.9 489.3,301.1 489.5,300.9 489.6,301.0 489.8,301.5 489.9,301.7 490.1,303.8 490.2,303.9 490.4,304.2 490.5,304.3 490.6,305.3 490.8,302.7 490.9,302.2 491.1,302.3 491.2,303.8 491.4,303.9 491.5,299.5 491.6,299.7 491.8,300.4 491.9,300.6 492.1,300.4 492.2,303.4 492.4,302.5 492.5,302.6 492.6,301.9 492.8,302.1 492.9,304.1 493.1,304.2 493.2,304.5 493.4,304.6 493.5,304.9 493.7,304.2 493.8,303.5 493.9,303.6 494.1,304.4 494.2,304.5 494.4,302.7 494.5,302.8 494.7,302.6 494.8,302.7 494.9,303.4 495.1,304.3 495.2,305.1 495.4,305.2 495.5,304.6 495.7,304.7 495.8,306.3 496.0,306.5 496.1,307.3 496.2,307.4 496.4,305.5 496.5,306.8 496.7,306.4 496.8,306.5 497.0,307.0 497.1,307.1 497.2,307.3 497.4,307.4 497.5,309.6 497.7,309.7 497.8,308.0 498.0,309.1 498.1,308.3 498.3,308.4 498.4,309.2 498.5,309.3 498.7,306.5 498.8,306.6 499.0,308.2 499.1,308.3 499.3,307.5 499.4,306.4 499.5,306.7 499.7,306.8 499.8,306.9 500.0,307.0 500.1,308.7 500.3,308.8 500.4,308.0 500.6,308.1 500.7,308.0 500.8,309.8 501.0,310.3 501.1,310.3 501.3,311.0 501.4,311.0 501.6,310.9 501.7,310.9 501.8,311.2 502.0,311.3 502.1,310.4 502.3,310.9 502.4,310.5 502.6,310.5 502.7,310.9 502.8,311.0 503.0,309.0 503.1,309.0 503.3,309.4 503.4,309.4 503.6,309.2 503.7,309.1 503.9,310.6 504.0,310.6 504.1,309.2 504.3,309.3 504.4,308.5 504.6,308.5 504.7,309.5 504.9,309.5 505.0,308.7 505.1,309.2 505.3,310.8 505.4,310.8 505.6,309.7 505.7,309.8 505.9,311.6 506.0,311.7 506.2,311.2 506.3,311.3 506.4,311.5 506.6,312.3 506.7,310.9 506.9,310.9 507.0,314.6 507.2,314.6 507.3,310.2 507.4,309.9 507.6,309.0 507.7,308.6 507.9,307.8 508.0,309.5 508.2,309.7 508.3,309.3 508.5,309.0 508.6,308.7 508.7,306.0 508.9,305.6 509.0,305.1 509.2,304.8 509.3,304.1 509.5,308.1 509.6,306.2 509.7,305.9 509.9,307.1 510.0,306.8 510.2,303.0 510.3,302.7 510.5,303.5 510.6,303.2 510.8,303.8 510.9,303.4 511.0,302.3 511.2,302.0 511.3,301.5 511.5,301.2 511.6,301.1 511.8,301.1 511.9,301.3 512.0,301.2 512.2,299.0 512.3,298.5 512.5,300.0 512.6,299.9 512.8,298.6 512.9,298.5 513.1,299.9 513.2,299.8 513.3,301.3 513.5,301.2 513.6,299.6 513.8,298.2 513.9,298.2 514.1,298.1 514.2,297.6 514.3,297.5 514.5,300.3 514.6,300.2 514.8,299.8 514.9,299.7 515.1,299.7 515.2,298.8 515.3,299.1 515.5,299.0 515.6,297.6 515.8,297.6 515.9,298.7 516.1,298.6 516.2,298.1 516.4,298.1 516.5,298.8 516.6,298.0 516.8,297.3 516.9,297.3 517.1,298.6 517.2,299.0 517.4,299.2 517.5,299.6 517.6,298.9 517.8,299.2 517.9,300.4 518.1,299.8 518.2,300.3 518.4,300.7 518.5,300.7 518.7,301.0 518.8,299.2 518.9,299.1 519.1,297.8 519.2,297.7 519.4,297.3 519.5,302.4 519.7,302.9 519.8,302.8 519.9,303.2 520.1,303.1 520.2,299.8 520.4,299.6 520.5,300.1 520.7,299.7 520.8,300.2 521.0,298.8 521.1,298.1 521.2,297.6 521.4,297.9 521.5,297.4 521.7,297.7 521.8,297.3 522.0,297.0 522.1,296.7 522.2,295.7 522.4,294.0 522.5,292.9 522.7,292.7 522.8,292.2 523.0,291.9 523.1,294.9 523.3,294.7 523.4,293.6 523.5,293.4 523.7,293.7 523.8,291.7 524.0,292.9 524.1,292.9 524.3,292.7" fill="none" stroke="#ff2a2a" stroke-width="0.4" stroke-linejoin="round" marker-start="url(#mxd)" marker-mid="url(#mxd)" marker-end="url(#mxd)"/>
<polyline clip-path="url(#cd)" points="319.1,377.9 319.2,377.7 319.4,376.6 319.5,376.4 319.7,376.0 319.8,375.8 320.0,374.2 320.1,374.0 320.2,374.9 320.4,374.8 320.5,374.5 320.7,372.9 320.8,373.2 321.0,371.6 321.1,370.2 321.3,368.5 321.4,367.2 321.5,365.6 321.7,365.1 321.8,364.9 322.0,365.2 322.1,365.1 322.3,364.5 322.4,364.4 322.5,361.0 322.7,360.9 322.8,361.7 323.0,361.6 323.1,361.3 323.3,361.1 323.4,363.0 323.6,362.9 323.7,362.8 323.8,362.7 324.0,362.2 324.1,362.1 324.3,361.1 324.4,361.0 324.6,361.2 324.7,361.0 324.8,359.9 325.0,359.8 325.1,360.6 325.3,360.5 325.4,361.1 325.6,361.0 325.7,361.4 325.9,361.4 326.0,362.3 326.1,362.2 326.3,362.2 326.4,362.2 326.6,362.1 326.7,362.1 326.9,359.6 327.0,359.5 327.1,358.8 327.3,358.8 327.4,358.7 327.6,358.6 327.7,359.3 327.9,359.2 328.0,359.7 328.2,359.7 328.3,359.3 328.4,359.5 328.6,357.9 328.7,358.0 328.9,359.0 329.0,359.1 329.2,359.6 329.3,359.7 329.4,359.2 329.6,359.3 329.7,360.6 329.9,360.7 330.0,361.3 330.2,361.4 330.3,362.3 330.4,362.4 330.6,363.3 330.7,363.5 330.9,363.4 331.0,363.6 331.2,362.3 331.3,362.4 331.5,363.3 331.6,363.5 331.7,364.0 331.9,364.2 332.0,362.4 332.2,362.5 332.3,362.6 332.5,362.8 332.6,363.6 332.7,363.5 332.9,364.3 333.0,364.1 333.2,363.3 333.3,363.1 333.5,363.3 333.6,363.2 333.8,361.9 333.9,361.8 334.0,362.0 334.2,361.8 334.3,361.9 334.5,361.7 334.6,360.7 334.8,360.5 334.9,360.2 335.0,360.2 335.2,359.9 335.3,359.9 335.5,363.3 335.6,363.3 335.8,362.9 335.9,362.9 336.1,362.0 336.2,361.9 336.3,360.8 336.5,360.8 336.6,361.4 336.8,361.4 336.9,361.2 337.1,361.4 337.2,361.6 337.3,361.8 337.5,362.1 337.6,362.3 337.8,361.8 337.9,362.0 338.1,361.6 338.2,361.8 338.4,362.1 338.5,362.3 338.6,362.9 338.8,363.1 338.9,363.5 339.1,363.7 339.2,364.0 339.4,364.2 339.5,364.4 339.6,364.6 339.8,365.3 339.9,365.5 340.1,365.8 340.2,365.9 340.4,365.7 340.5,365.8 340.7,364.9 340.8,365.1 340.9,364.6 341.1,364.7 341.2,365.1 341.4,365.2 341.5,367.1 341.7,367.2 341.8,367.9 341.9,368.1 342.1,367.4 342.2,367.6 342.4,367.1 342.5,367.0 342.7,365.9 342.8,365.8 342.9,367.1 343.1,367.0 343.2,366.4 343.4,366.3 343.5,365.3 343.7,365.2 343.8,365.8 344.0,365.7 344.1,365.7 344.2,365.6 344.4,365.5 344.5,365.4 344.7,365.8 344.8,365.7 345.0,364.1 345.1,364.0 345.2,364.6 345.4,364.5 345.5,364.2 345.7,364.1 345.8,362.5 346.0,362.4 346.1,363.4 346.3,363.3 346.4,362.9 346.5,362.8 346.7,365.6 346.8,365.5 347.0,364.3 347.1,364.2 347.3,365.1 347.4,365.0 347.5,363.2 347.7,363.1 347.8,363.0 348.0,362.9 348.1,362.9 348.3,362.9 348.4,363.6 348.6,363.5 348.7,362.9 348.8,362.8 349.0,362.8 349.1,362.7 349.3,362.5 349.4,362.4 349.6,362.7 349.7,362.6 349.8,362.5 350.0,362.6 350.1,362.1 350.3,362.2 350.4,362.1 350.6,362.2 350.7,362.7 350.9,362.8 351.0,361.5 351.1,361.6 351.3,361.8 351.4,361.9 351.6,361.4 351.7,361.4 351.9,362.9 352.0,363.0 352.1,363.1 352.3,363.2 352.4,363.1 352.6,363.2 352.7,364.2 352.9,364.3 353.0,363.4 353.1,363.5 353.3,364.1 353.4,364.2 353.6,365.5 353.7,365.6 353.9,365.3 354.0,365.4 354.2,366.1 354.3,366.3 354.4,364.1 354.6,364.2 354.7,365.0 354.9,365.1 355.0,366.0 355.2,366.1 355.3,365.9 355.4,366.0 355.6,365.8 355.7,365.9 355.9,366.1 356.0,366.2 356.2,366.6 356.3,366.8 356.5,366.7 356.6,366.7 356.7,366.6 356.9,366.7 357.0,323.6 357.2,366.4 357.3,322.8 357.5,367.1 357.6,321.2 357.7,366.2 357.9,320.9 358.0,365.5 358.2,319.8 358.3,367.0 358.5,320.7 358.6,366.4 358.8,321.7 358.9,365.6 359.0,320.7 359.2,365.8 359.3,321.5 359.5,365.0 359.6,322.1 359.8,366.8 359.9,321.9 360.0,367.0 360.2,321.3 360.3,367.7 360.5,322.5 360.6,366.1 360.8,320.4 360.9,365.6 361.1,320.9 361.2,365.6 361.3,321.8 361.5,366.6 361.6,319.0 361.8,367.2 361.9,317.8 362.1,367.0 362.2,323.3 362.3,366.6 362.5,321.2 362.6,366.3 362.8,323.5 362.9,366.8 363.1,321.3 363.2,367.0 363.3,323.3 363.5,367.0 363.6,322.2 363.8,367.0 363.9,322.6 364.1,367.0 364.2,322.1 364.4,367.9 364.5,322.5 364.6,367.6 364.8,323.0 364.9,369.0 365.1,319.6 365.2,367.9 365.4,368.1 365.5,368.2 365.6,367.6 365.8,367.6 365.9,368.0 366.1,368.1 366.2,368.2 366.4,368.3 366.5,368.7 366.7,368.7 366.8,368.0 366.9,368.1 367.1,367.6 367.2,367.7 367.4,369.5 367.5,369.3 367.7,367.0 367.8,366.8 367.9,367.8 368.1,367.6 368.2,365.6 368.4,365.3 368.5,365.7 368.7,365.5 368.8,365.0 369.0,364.8 369.1,320.6 369.2,363.5 369.4,363.8 369.5,363.6 369.7,362.5 369.8,362.3 370.0,364.2 370.1,364.0 370.2,363.5 370.4,363.3 370.5,363.6 370.7,363.4 370.8,362.8 371.0,362.5 371.1,362.1 371.3,361.9 371.4,361.2 371.5,360.9 371.7,361.5 371.8,361.3 372.0,361.7 372.1,361.4 372.3,361.8 372.4,361.5 372.5,362.0 372.7,361.7 372.8,361.8 373.0,361.5 373.1,360.4 373.3,360.1 373.4,358.4 373.5,358.1 373.7,358.3 373.8,358.0 374.0,357.8 374.1,357.9 374.3,357.0 374.4,357.1 374.6,357.4 374.7,357.5 374.8,358.0 375.0,358.1 375.1,356.6 375.3,356.6 375.4,356.9 375.6,357.0 375.7,357.5 375.8,357.6 376.0,356.4 376.1,356.5 376.3,355.8 376.4,355.9 376.6,357.3 376.7,357.4 376.9,358.4 377.0,358.5 377.1,359.1 377.3,359.2 377.4,358.9 377.6,358.9 377.7,358.2 377.9,358.2 378.0,358.4 378.1,358.4 378.3,358.7 378.4,358.7 378.6,358.9 378.7,359.0 378.9,358.7 379.0,358.8 379.2,358.9 379.3,359.0 379.4,360.7 379.6,360.8 379.7,360.0 379.9,360.0 380.0,359.7 380.2,359.8 380.3,359.5 380.4,359.5 380.6,359.8 380.7,359.7 380.9,360.6 381.0,360.5 381.2,359.7 381.3,359.6 381.5,359.5 381.6,359.4 381.7,359.0 381.9,358.9 382.0,358.9 382.2,358.8 382.3,358.4 382.5,358.4 382.6,358.4 382.7,358.3 382.9,360.4 383.0,360.4 383.2,360.9 383.3,360.7 383.5,360.0 383.6,359.8 383.8,360.8 383.9,360.6 384.0,360.4 384.2,360.3 384.3,359.2 384.5,359.0 384.6,357.8 384.8,357.6 384.9,357.4 385.0,357.2 385.2,356.3 385.3,356.2 385.5,356.1 385.6,355.9 385.8,354.9 385.9,354.8 386.0,355.0 386.2,354.8 386.3,355.0 386.5,354.9 386.6,322.8 386.8,354.6 386.9,354.1 387.1,353.9 387.2,355.3 387.3,355.2 387.5,354.9 387.6,354.7 387.8,354.8 387.9,354.7 388.1,353.0 388.2,352.8 388.3,353.3 388.5,353.1 388.6,352.8 388.8,352.7 388.9,353.4 389.1,353.3 389.2,353.6 389.4,353.4 389.5,352.8 389.6,352.7 389.8,351.8 389.9,352.2 390.1,353.1 390.2,310.6 390.4,354.1 390.5,354.5 390.6,354.7 390.8,355.1 390.9,356.2 391.1,356.5 391.2,356.9 391.4,357.2 391.5,358.1 391.7,358.5 391.8,357.8 391.9,358.2 392.1,359.4 392.2,359.7 392.4,359.0 392.5,359.3 392.7,358.6 392.8,359.0 392.9,360.0 393.1,360.3 393.2,362.0 393.4,362.3 393.5,362.9 393.7,363.2 393.8,362.8 394.0,363.0 394.1,363.9 394.2,364.1 394.4,364.8 394.5,304.5 394.7,364.4 394.8,364.7 395.0,304.3 395.1,362.6 395.2,364.4 395.4,306.7 395.5,364.1 395.7,364.4 395.8,306.3 396.0,365.8 396.1,367.0 396.2,305.9 396.4,370.3 396.5,371.5 396.7,306.9 396.8,376.0 397.0,376.1 397.1,377.4 397.3,379.2 397.4,380.5 397.5,378.3 397.7,378.0 397.8,376.5 398.0,376.2 398.1,376.1 398.3,375.7 398.4,377.7 398.5,377.4 398.7,377.8 398.8,377.5 399.0,376.7 399.1,376.3 399.3,374.6 399.4,374.3 399.6,375.6 399.7,375.0 399.8,374.3 400.0,373.7 400.1,372.5 400.3,372.0 400.4,370.6 400.6,370.1 400.7,369.9 400.8,369.4 401.0,366.9 401.1,366.3 401.3,367.3 401.4,368.2 401.6,369.1 401.7,370.0 401.9,372.2 402.0,373.1 402.1,372.8 402.3,373.7 402.4,376.0 402.6,376.9 402.7,376.6 402.9,377.4 403.0,379.1 403.1,379.9 403.3,379.8 403.4,379.6 403.6,380.9 403.7,380.7 403.9,380.3 404.0,380.1 404.2,380.1 404.3,379.8 404.4,379.1 404.6,378.9 404.7,378.5 404.9,378.2 405.0,378.1 405.2,377.9 405.3,379.4 405.4,378.9 405.6,376.9 405.7,376.3 405.9,376.4 406.0,375.9 406.2,373.8 406.3,373.3 406.4,373.0 406.6,372.4 406.7,372.7 406.9,372.1 407.0,371.4 407.2,370.8 407.3,370.6 407.5,370.0 407.6,369.4 407.7,368.8 407.9,368.2 408.0,367.6 408.2,366.9 408.3,366.2 408.5,365.5 408.6,364.8 408.7,362.9 408.9,362.1 409.0,361.6 409.2,360.9 409.3,360.0 409.5,359.3 409.6,357.3 409.8,356.6 409.9,355.5 410.0,356.4 410.2,357.8 410.3,358.7 410.5,360.7 410.6,361.7 410.8,362.3 410.9,363.2 411.0,363.9 411.2,363.9 411.3,364.7 411.5,364.8 411.6,364.8 411.8,364.9 411.9,365.0 412.1,365.1 412.2,364.6 412.3,364.7 412.5,365.2 412.6,365.3 412.8,365.9 412.9,366.0 413.1,366.5 413.2,366.6 413.3,366.6 413.5,366.4 413.6,366.9 413.8,366.6 413.9,364.8 414.1,364.5 414.2,364.5 414.4,364.3 414.5,364.1 414.6,363.9 414.8,362.5 414.9,362.2 415.1,363.0 415.2,362.8 415.4,361.2 415.5,361.0 415.6,362.6 415.8,362.3 415.9,362.4 416.1,362.2 416.2,361.6 416.4,361.3 416.5,360.2 416.6,360.0 416.8,361.0 416.9,360.8 417.1,360.3 417.2,360.1 417.4,360.8 417.5,360.7 417.7,359.1 417.8,358.9 417.9,359.7 418.1,359.5 418.2,359.3 418.4,359.1 418.5,358.2 418.7,358.0 418.8,358.6 418.9,358.4 419.1,357.4 419.2,357.2 419.4,357.5 419.5,357.3 419.7,357.1 419.8,356.9 420.0,355.6 420.1,355.4 420.2,354.9 420.4,354.7 420.5,354.9 420.7,354.7 420.8,356.9 421.0,357.6 421.1,358.6 421.2,359.3 421.4,360.2 421.5,360.8 421.7,357.8 421.8,358.4 422.0,359.2 422.1,359.8 422.3,360.2 422.4,360.8 422.5,361.8 422.7,362.3 422.8,362.9 423.0,363.4 423.1,364.8 423.3,365.3 423.4,365.5 423.5,366.0 423.7,366.5 423.8,367.0 424.0,367.7 424.1,368.2 424.3,370.3 424.4,370.3 424.6,369.6 424.7,369.6 424.8,369.3 425.0,369.3 425.1,368.4 425.3,368.4 425.4,368.9 425.6,368.9 425.7,369.5 425.8,369.5 426.0,368.3 426.1,368.4 426.3,369.0 426.4,369.0 426.6,369.2 426.7,369.3 426.9,367.7 427.0,367.7 427.1,367.6 427.3,367.6 427.4,368.0 427.6,368.0 427.7,368.3 427.9,368.3 428.0,368.3 428.1,368.3 428.3,367.7 428.4,367.7 428.6,367.7 428.7,367.7 428.9,367.4 429.0,367.4 429.1,368.6 429.3,368.6 429.4,368.9 429.6,368.9 429.7,368.9 429.9,368.9 430.0,368.9 430.2,368.9 430.3,371.5 430.4,371.5 430.6,370.8 430.7,370.8 430.9,369.5 431.0,369.2 431.2,368.6 431.3,368.3 431.4,368.4 431.6,368.1 431.7,367.9 431.9,367.6 432.0,367.1 432.2,366.8 432.3,365.7 432.5,365.4 432.6,365.6 432.7,365.3 432.9,364.2 433.0,363.9 433.2,363.0 433.3,362.7 433.5,362.4 433.6,362.1 433.7,363.5 433.9,363.2 434.0,364.0 434.2,363.7 434.3,362.9 434.5,362.6 434.6,360.3 434.8,360.3 434.9,361.3 435.0,361.3 435.2,360.0 435.3,360.0 435.5,360.3 435.6,360.2 435.8,359.7 435.9,359.6 436.0,360.2 436.2,360.2 436.3,361.0 436.5,361.0 436.6,360.9 436.8,360.8 436.9,359.6 437.1,359.5 437.2,359.9 437.3,359.9 437.5,360.2 437.6,360.2 437.8,359.1 437.9,359.0 438.1,357.9 438.2,357.9 438.3,357.1 438.5,357.1 438.6,356.7 438.8,356.7 438.9,358.6 439.1,358.6 439.2,358.4 439.3,358.4 439.5,358.5 439.6,358.5 439.8,357.8 439.9,357.7 440.1,356.3 440.2,356.3 440.4,356.3 440.5,356.3 440.6,357.8 440.8,357.7 440.9,357.3 441.1,357.2 441.2,357.0 441.4,357.0 441.5,358.0 441.6,357.9 441.8,357.2 441.9,357.3 442.1,357.1 442.2,357.1 442.4,357.0 442.5,357.1 442.7,357.5 442.8,357.5 442.9,358.1 443.1,358.1 443.2,358.2 443.4,358.2 443.5,359.4 443.7,359.5 443.8,357.9 443.9,358.0 444.1,358.1 444.2,358.2 444.4,359.0 444.5,359.1 444.7,358.6 444.8,358.6 445.0,361.4 445.1,361.4 445.2,361.6 445.4,361.7 445.5,360.9 445.7,361.0 445.8,359.6 446.0,359.7 446.1,359.2 446.2,359.2 446.4,359.5 446.5,359.6 446.7,359.7 446.8,359.7 447.0,360.4 447.1,360.4 447.3,359.9 447.4,359.9 447.5,358.8 447.7,358.8 447.8,359.7 448.0,359.7 448.1,359.9 448.3,360.0 448.4,361.3 448.5,361.4 448.7,360.4 448.8,360.4 449.0,361.8 449.1,361.9 449.3,361.4 449.4,361.4 449.5,362.2 449.7,362.3 449.8,361.5 450.0,361.5 450.1,361.5 450.3,361.5 450.4,362.3 450.6,362.4 450.7,362.2 450.8,362.3 451.0,361.3 451.1,361.4 451.3,361.1 451.4,361.1 451.6,362.0 451.7,362.0 451.8,361.7 452.0,361.7 452.1,361.8 452.3,361.9 452.4,362.4 452.6,362.4 452.7,362.8 452.9,362.7 453.0,361.6 453.1,361.6 453.3,361.8 453.4,361.8 453.6,359.5 453.7,359.5 453.9,360.1 454.0,360.0 454.1,359.8 454.3,359.7 454.4,361.9 454.6,361.9 454.7,362.0 454.9,362.0 455.0,361.3 455.2,361.3 455.3,360.4 455.4,360.4 455.6,360.7 455.7,360.6 455.9,360.6 456.0,360.5 456.2,359.2 456.3,359.2 456.4,359.5 456.6,359.5 456.7,360.0 456.9,360.0 457.0,359.1 457.2,359.1 457.3,360.8 457.5,360.8 457.6,359.8 457.7,359.8 457.9,360.2 458.0,360.1 458.2,359.3 458.3,359.2 458.5,359.5 458.6,359.4 458.7,359.1 458.9,359.0 459.0,359.5 459.2,359.5 459.3,359.8 459.5,359.7 459.6,358.2 459.7,358.2 459.9,358.9 460.0,358.8 460.2,358.9 460.3,358.8 460.5,359.1 460.6,359.1 460.8,359.3 460.9,359.3 461.0,358.7 461.2,358.7 461.3,358.1 461.5,358.1 461.6,358.1 461.8,358.1 461.9,358.6 462.0,358.6 462.2,358.7 462.3,358.6 462.5,358.6 462.6,358.5 462.8,359.1 462.9,359.1 463.1,358.6 463.2,358.6 463.3,359.1 463.5,359.1 463.6,360.0 463.8,360.0 463.9,358.7 464.1,358.7 464.2,359.4 464.3,359.4 464.5,358.7 464.6,358.7 464.8,358.7 464.9,358.8 465.1,359.4 465.2,359.5 465.4,359.3 465.5,359.4 465.6,358.3 465.8,358.4 465.9,359.8 466.1,359.9 466.2,360.3 466.4,360.4 466.5,358.7 466.6,358.8 466.8,358.9 466.9,359.0 467.1,364.6 467.2,371.2 467.4,380.2 467.5,386.9 467.7,393.9 467.8,400.6 467.9,407.7 468.1,408.3 468.2,409.4 468.4,410.0 468.5,410.2 468.7,410.8 468.8,410.9 468.9,411.4 469.1,412.1 469.2,412.6 469.4,410.6 469.5,408.2 469.7,405.6 469.8,403.2 470.0,399.8 470.1,398.7 470.2,398.2 470.4,397.1 470.5,395.9 470.7,394.7 470.8,392.9 471.0,391.8 471.1,389.7 471.2,388.6 471.4,389.5 471.5,389.0 471.7,388.4 471.8,387.8 472.0,387.2 472.1,386.6 472.2,387.4 472.4,386.8 472.5,385.0 472.7,384.4 472.8,383.1 473.0,382.5 473.1,382.9 473.3,382.4 473.4,384.0 473.5,383.4 473.7,382.7 473.8,382.2 474.0,381.1 474.1,380.7 474.3,378.7 474.4,378.2 474.5,378.4 474.7,377.9 474.8,377.8 475.0,377.4 475.1,376.4 475.3,376.0 475.4,374.7 475.6,374.2 475.7,375.7 475.8,376.0 476.0,376.5 476.1,376.8 476.3,376.5 476.4,376.8 476.6,377.9 476.7,378.2 476.8,378.9 477.0,379.2 477.1,379.4 477.3,379.7 477.4,379.6 477.6,379.9 477.7,379.3 477.9,379.6 478.0,379.2 478.1,379.5 478.3,379.9 478.4,380.1 478.6,380.8 478.7,381.1 478.9,382.2 479.0,381.8 479.1,380.5 479.3,380.1 479.4,378.7 479.6,378.3 479.7,377.6 479.9,377.2 480.0,377.2 480.2,376.8 480.3,377.2 480.4,376.8 480.6,377.3 480.7,376.9 480.9,375.5 481.0,375.2 481.2,375.7 481.3,375.3 481.4,374.8 481.6,374.4 481.7,373.2 481.9,372.8 482.0,373.5 482.2,373.1 482.3,373.0 482.4,373.3 482.6,373.2 482.7,373.4 482.9,374.0 483.0,374.2 483.2,374.6 483.3,374.8 483.5,374.9 483.6,375.1 483.7,376.5 483.9,376.7 484.0,377.2 484.2,377.5 484.3,377.3 484.5,377.5 484.6,375.5 484.7,375.7 484.9,375.9 485.0,376.0 485.2,376.4 485.3,376.6 485.5,376.9 485.6,377.0 485.8,377.3 485.9,377.4 486.0,377.3 486.2,377.4 486.3,378.7 486.5,378.8 486.6,378.8 486.8,378.9 486.9,378.9 487.0,379.0 487.2,378.6 487.3,378.7 487.5,379.5 487.6,379.6 487.8,379.7 487.9,379.7 488.1,378.2 488.2,378.2 488.3,378.0 488.5,378.0 488.6,378.8 488.8,378.8 488.9,378.9 489.1,378.9 489.2,379.7 489.3,379.7 489.5,379.6 489.6,379.6 489.8,379.5 489.9,379.5 490.1,378.8 490.2,378.8 490.4,378.6 490.5,378.6 490.6,378.9 490.8,378.9 490.9,379.5 491.1,379.5 491.2,379.0 491.4,379.0 491.5,379.5 491.6,379.5 491.8,378.9 491.9,378.9 492.1,379.4 492.2,379.4 492.4,379.5 492.5,379.5 492.6,378.8 492.8,378.8 492.9,378.5 493.1,378.5 493.2,379.3 493.4,379.3 493.5,379.2 493.7,379.2 493.8,380.2 493.9,380.2 494.1,379.8 494.2,379.8 494.4,378.8 494.5,378.8 494.7,378.9 494.8,378.9 494.9,379.0 495.1,379.0 495.2,379.2 495.4,378.5 495.5,377.1 495.7,376.4 495.8,377.3 496.0,376.5 496.1,375.7 496.2,375.0 496.4,372.8 496.5,372.1 496.7,372.8 496.8,372.2 497.0,370.9 497.1,370.2 497.2,369.9 497.4,369.2 497.5,367.2 497.7,367.3 497.8,368.2 498.0,368.3 498.1,368.4 498.3,368.4 498.4,368.1 498.5,368.2 498.7,367.7 498.8,367.7 499.0,368.7 499.1,368.7 499.3,369.7 499.4,369.8 499.5,369.2 499.7,369.3 499.8,369.4 500.0,369.5 500.1,372.2 500.3,372.3 500.4,372.8 500.6,372.8 500.7,373.0 500.8,373.1 501.0,370.9 501.1,370.9 501.3,370.9 501.4,371.0 501.6,370.8 501.7,370.8 501.8,369.7 502.0,369.7 502.1,370.7 502.3,370.8 502.4,370.0 502.6,370.0 502.7,368.9 502.8,368.9 503.0,369.0 503.1,369.1 503.3,368.8 503.4,368.8 503.6,369.7 503.7,369.7 503.9,369.1 504.0,369.1 504.1,369.8 504.3,369.9 504.4,370.3 504.6,370.4 504.7,371.6 504.9,371.6 505.0,372.2 505.1,372.3 505.3,371.8 505.4,371.8 505.6,370.0 505.7,370.1 505.9,371.6 506.0,371.6 506.2,371.7 506.3,371.7 506.4,371.6 506.6,371.6 506.7,372.0 506.9,372.0 507.0,369.8 507.2,369.9 507.3,370.0 507.4,369.5 507.6,368.1 507.7,367.7 507.9,369.0 508.0,368.5 508.2,368.5 508.3,368.1 508.5,367.4 508.6,367.0 508.7,367.6 508.9,367.1 509.0,367.5 509.2,367.0 509.3,365.5 509.5,365.1 509.6,363.4 509.7,362.4 509.9,360.8 510.0,359.9 510.2,359.3 510.3,358.3 510.5,357.1 510.6,356.2 510.8,355.2 510.9,354.4 511.0,353.9 511.2,353.1 511.3,355.3 511.5,354.5 511.6,353.6 511.8,352.8 511.9,351.6 512.0,350.8 512.2,349.3 512.3,348.5 512.5,347.6 512.6,346.8 512.8,345.9 512.9,346.8 513.1,346.4 513.2,347.3 513.3,347.8 513.5,348.7 513.6,350.1 513.8,351.0 513.9,351.8 514.1,352.5 514.2,353.5 514.3,354.2 514.5,355.4 514.6,356.0 514.8,357.4 514.9,358.1 515.1,357.7 515.2,357.4 515.3,357.8 515.5,357.5 515.6,355.6 515.8,355.3 515.9,355.2 516.1,354.9 516.2,355.4 516.4,355.1 516.5,352.9 516.6,352.6 516.8,354.0 516.9,353.8 517.1,352.7 517.2,352.5 517.4,352.4 517.5,352.2 517.6,352.9 517.8,352.7 517.9,351.2 518.1,351.0 518.2,353.1 518.4,353.4 518.5,352.9 518.7,353.3 518.8,354.3 518.9,354.7 519.1,353.9 519.2,354.3 519.4,355.0 519.5,355.3 519.7,354.5 519.8,354.9 519.9,355.5 520.1,355.8 520.2,355.9 520.4,356.3 520.5,358.9 520.7,361.4 520.8,364.3 521.0,366.8 521.1,369.5 521.2,372.0 521.4,374.1 521.5,376.0 521.7,378.9 521.8,380.8 522.0,382.8 522.1,384.7 522.2,386.8 522.4,388.7 522.5,388.0 522.7,386.9 522.8,385.4 523.0,384.4 523.1,384.1 523.3,383.0 523.4,383.3 523.5,382.2 523.7,382.5 523.8,381.8 524.0,380.5 524.1,379.9 524.3,380.5" fill="none" stroke="#0000ff" stroke-width="0.6" stroke-linejoin="round" marker-start="url(#mtd)" marker-mid="url(#mtd)" marker-end="url(#mtd)"/>
<polyline clip-path="url(#cd)" points="319.1,313.8 319.2,313.9 319.4,312.0 319.5,311.5 319.7,311.3 319.8,311.1 320.0,307.8 320.1,308.6 320.2,308.4 320.4,306.1 320.5,308.0 320.7,308.1 320.8,304.8 321.0,304.0 321.1,304.5 321.3,299.4 321.4,299.1 321.5,297.8 321.7,297.9 321.8,297.0 322.0,298.0 322.1,296.4 322.3,297.1 322.4,295.9 322.5,299.9 322.7,298.0 322.8,298.4 323.0,299.1 323.1,297.7 323.3,299.5 323.4,298.5 323.6,299.2 323.7,297.5 323.8,298.2 324.0,301.0 324.1,300.0 324.3,297.9 324.4,298.6 324.6,297.8 324.7,299.5 324.8,301.0 325.0,301.5 325.1,300.0 325.3,301.2 325.4,301.2 325.6,301.6 325.7,300.7 325.9,300.6 326.0,301.5 326.1,300.9 326.3,301.4 326.4,300.8 326.6,301.5 326.7,302.1 326.9,301.4 327.0,301.8 327.1,302.7 327.3,303.0 327.4,301.4 327.6,302.0 327.7,304.8 327.9,305.5 328.0,302.1 328.2,302.7 328.3,302.3 328.4,301.9 328.6,303.9 328.7,301.8 328.9,303.1 329.0,302.2 329.2,300.9 329.3,300.8 329.4,299.3 329.6,301.7 329.7,300.9 329.9,300.1 330.0,299.0 330.2,300.6 330.3,299.7 330.4,299.8 330.6,300.2 330.7,299.4 330.9,299.1 331.0,299.2 331.2,296.8 331.3,297.7 331.5,297.4 331.6,298.7 331.7,298.5 331.9,298.1 332.0,298.5 332.2,298.2 332.3,299.6 332.5,299.2 332.6,301.2 332.7,297.3 332.9,300.8 333.0,299.1 333.2,299.1 333.3,301.3 333.5,301.0 333.6,299.8 333.8,299.0 333.9,300.6 334.0,301.5 334.2,300.7 334.3,299.0 334.5,301.0 334.6,300.8 334.8,299.3 334.9,298.5 335.0,299.5 335.2,299.6 335.3,299.4 335.5,299.5 335.6,301.5 335.8,301.3 335.9,302.8 336.1,302.0 336.2,302.2 336.3,301.7 336.5,301.9 336.6,302.6 336.8,302.1 336.9,302.0 337.1,305.2 337.2,306.2 337.3,307.4 337.5,305.1 337.6,304.6 337.8,302.6 337.9,302.6 338.1,304.2 338.2,302.4 338.4,304.4 338.5,304.6 338.6,306.9 338.8,306.6 338.9,305.8 339.1,304.9 339.2,304.2 339.4,304.9 339.5,306.8 339.6,305.1 339.8,304.9 339.9,302.6 340.1,304.8 340.2,305.2 340.4,303.6 340.5,304.1 340.7,303.3 340.8,304.2 340.9,306.8 341.1,305.2 341.2,304.9 341.4,307.6 341.5,310.7 341.7,309.1 341.8,307.4 341.9,308.2 342.1,309.7 342.2,309.5 342.4,310.8 342.5,311.7 342.7,310.4 342.8,308.8 342.9,308.5 343.1,310.0 343.2,309.4 343.4,307.9 343.5,309.8 343.7,311.2 343.8,310.8 344.0,310.8 344.1,309.5 344.2,309.0 344.4,310.1 344.5,311.3 344.7,312.0 344.8,311.3 345.0,310.8 345.1,313.4 345.2,312.4 345.4,314.5 345.5,315.7 345.7,312.0 345.8,311.2 346.0,310.9 346.1,312.3 346.3,311.5 346.4,310.9 346.5,312.9 346.7,310.3 346.8,310.7 347.0,311.8 347.1,317.7 347.3,314.5 347.4,316.4 347.5,316.2 347.7,316.6 347.8,314.9 348.0,314.9 348.1,318.0 348.3,317.5 348.4,315.9 348.6,316.9 348.7,316.1 348.8,316.9 349.0,315.7 349.1,318.0 349.3,316.5 349.4,316.8 349.6,317.1 349.7,317.1 349.8,315.6 350.0,319.3 350.1,320.5 350.3,321.5 350.4,321.2 350.6,321.9 350.7,318.7 350.9,319.2 351.0,318.8 351.1,320.5 351.3,321.8 351.4,320.4 351.6,321.3 351.7,323.6 351.9,321.8 352.0,322.4 352.1,323.8 352.3,324.1 352.4,324.4 352.6,324.5 352.7,325.6 352.9,324.7 353.0,324.4 353.1,325.3 353.3,324.8 353.4,325.0 353.6,328.4 353.7,329.0 353.9,329.7 354.0,329.8 354.2,327.2 354.3,329.9 354.4,330.1 354.6,328.6 354.7,326.5 354.9,325.8 355.0,324.4 355.2,323.5 355.3,323.8 355.4,322.6 355.6,322.0 355.7,323.3 355.9,317.8 356.0,318.2 356.2,318.8 356.3,317.6 356.5,319.2 356.6,318.2 356.7,316.6 356.9,315.8 357.0,430.2 357.2,315.6 357.3,429.7 357.5,315.0 357.6,429.9 357.7,314.2 357.9,429.7 358.0,313.2 358.2,429.5 358.3,313.3 358.5,429.7 358.6,314.2 358.8,430.0 358.9,315.2 359.0,429.5 359.2,313.6 359.3,429.9 359.5,312.7 359.6,429.5 359.8,314.0 359.9,429.9 360.0,314.8 360.2,429.9 360.3,314.3 360.5,429.8 360.6,313.5 360.8,430.0 360.9,314.4 361.1,429.4 361.2,313.1 361.3,429.5 361.5,310.5 361.6,429.9 361.8,311.3 361.9,429.7 362.1,310.6 362.2,429.7 362.3,315.9 362.5,429.9 362.6,313.1 362.8,429.7 362.9,313.6 363.1,429.8 363.2,313.9 363.3,430.0 363.5,315.6 363.6,429.7 363.8,314.7 363.9,429.6 364.1,315.4 364.2,429.6 364.4,314.7 364.5,429.8 364.6,314.7 364.8,430.0 364.9,316.4 365.1,430.1 365.2,312.4 365.4,313.1 365.5,315.4 365.6,314.3 365.8,316.7 365.9,313.8 366.1,315.2 366.2,317.2 366.4,317.1 366.5,316.6 366.7,315.4 366.8,315.2 366.9,314.3 367.1,314.5 367.2,315.3 367.4,314.7 367.5,315.9 367.7,317.3 367.8,316.1 367.9,314.2 368.1,316.2 368.2,314.7 368.4,315.9 368.5,317.9 368.7,314.4 368.8,312.2 369.0,313.1 369.1,429.5 369.2,312.6 369.4,315.3 369.5,315.7 369.7,316.2 369.8,315.5 370.0,314.4 370.1,314.4 370.2,313.1 370.4,312.3 370.5,315.7 370.7,315.0 370.8,313.1 371.0,313.0 371.1,313.8 371.3,309.3 371.4,310.9 371.5,313.0 371.7,314.5 371.8,312.4 372.0,313.7 372.1,312.0 372.3,310.8 372.4,310.7 372.5,310.0 372.7,310.6 372.8,310.0 373.0,310.2 373.1,306.9 373.3,307.4 373.4,305.5 373.5,307.2 373.7,310.5 373.8,307.1 374.0,307.8 374.1,308.2 374.3,306.8 374.4,305.0 374.6,303.4 374.7,305.4 374.8,308.3 375.0,308.4 375.1,309.8 375.3,309.8 375.4,309.8 375.6,309.9 375.7,308.3 375.8,309.2 376.0,308.1 376.1,308.3 376.3,306.9 376.4,308.5 376.6,309.5 376.7,309.3 376.9,311.2 377.0,311.4 377.1,311.1 377.3,309.1 377.4,308.4 377.6,308.2 377.7,309.0 377.9,309.1 378.0,312.1 378.1,310.4 378.3,308.6 378.4,309.0 378.6,311.9 378.7,311.0 378.9,311.2 379.0,311.3 379.2,311.8 379.3,312.1 379.4,310.2 379.6,311.8 379.7,312.1 379.9,311.6 380.0,311.1 380.2,312.0 380.3,312.8 380.4,312.5 380.6,313.4 380.7,314.6 380.9,315.3 381.0,315.7 381.2,314.3 381.3,315.6 381.5,317.7 381.6,315.7 381.7,312.5 381.9,314.1 382.0,316.7 382.2,314.2 382.3,315.1 382.5,314.9 382.6,314.5 382.7,315.1 382.9,316.1 383.0,315.7 383.2,316.4 383.3,317.7 383.5,318.5 383.6,316.8 383.8,318.0 383.9,318.9 384.0,320.6 384.2,319.6 384.3,319.3 384.5,318.4 384.6,319.1 384.8,320.0 384.9,321.0 385.0,319.3 385.2,318.1 385.3,317.5 385.5,317.6 385.6,316.6 385.8,317.2 385.9,316.9 386.0,315.6 386.2,314.7 386.3,316.7 386.5,313.8 386.6,429.9 386.8,315.7 386.9,311.8 387.1,314.0 387.2,313.1 387.3,310.9 387.5,309.4 387.6,312.1 387.8,307.7 387.9,308.9 388.1,309.4 388.2,308.5 388.3,309.6 388.5,310.5 388.6,307.9 388.8,306.4 388.9,307.8 389.1,307.9 389.2,305.5 389.4,307.4 389.5,305.2 389.6,304.6 389.8,305.6 389.9,304.4 390.1,305.4 390.2,425.1 390.4,302.7 390.5,301.8 390.6,300.8 390.8,300.6 390.9,302.8 391.1,304.6 391.2,303.4 391.4,304.6 391.5,303.3 391.7,306.1 391.8,305.5 391.9,305.9 392.1,304.7 392.2,305.7 392.4,302.1 392.5,303.0 392.7,303.7 392.8,302.4 392.9,302.2 393.1,302.5 393.2,302.1 393.4,302.0 393.5,303.5 393.7,303.1 393.8,298.0 394.0,298.8 394.1,298.1 394.2,297.2 394.4,298.6 394.5,430.1 394.7,298.0 394.8,298.8 395.0,430.1 395.1,295.9 395.2,299.5 395.4,429.5 395.5,298.6 395.7,300.2 395.8,429.5 396.0,297.5 396.1,298.9 396.2,429.7 396.4,299.0 396.5,298.8 396.7,429.7 396.8,299.6 397.0,299.1 397.1,298.0 397.3,298.2 397.4,296.5 397.5,296.7 397.7,296.5 397.8,295.3 398.0,295.3 398.1,295.2 398.3,295.9 398.4,294.9 398.5,296.0 398.7,294.6 398.8,294.8 399.0,294.5 399.1,294.7 399.3,293.7 399.4,295.2 399.6,292.6 399.7,292.2 399.8,293.7 400.0,293.7 400.1,295.1 400.3,295.9 400.4,295.4 400.6,296.8 400.7,296.1 400.8,295.7 401.0,300.7 401.1,296.2 401.3,296.7 401.4,299.0 401.6,296.0 401.7,297.8 401.9,303.9 402.0,301.3 402.1,300.7 402.3,305.7 402.4,302.1 402.6,303.2 402.7,309.2 402.9,305.8 403.0,305.5 403.1,311.8 403.3,309.0 403.4,308.7 403.6,312.1 403.7,312.3 403.9,312.8 404.0,322.4 404.2,315.3 404.3,317.0 404.4,316.2 404.6,318.3 404.7,318.2 404.9,321.0 405.0,319.7 405.2,319.2 405.3,323.8 405.4,318.7 405.6,316.1 405.7,323.0 405.9,316.0 406.0,315.4 406.2,318.3 406.3,315.2 406.4,314.4 406.6,317.3 406.7,315.5 406.9,312.2 407.0,315.7 407.2,310.6 407.3,311.4 407.5,313.4 407.6,309.4 407.7,310.4 407.9,311.7 408.0,307.9 408.2,309.6 408.3,316.1 408.5,308.8 408.6,309.3 408.7,312.9 408.9,306.6 409.0,307.0 409.2,307.5 409.3,305.5 409.5,306.2 409.6,301.2 409.8,302.9 409.9,302.7 410.0,305.7 410.2,300.6 410.3,303.3 410.5,304.9 410.6,301.7 410.8,303.0 410.9,307.4 411.0,303.8 411.2,305.1 411.3,305.9 411.5,305.0 411.6,307.1 411.8,306.5 411.9,303.0 412.1,303.4 412.2,309.7 412.3,304.3 412.5,305.4 412.6,311.0 412.8,305.6 412.9,305.8 413.1,307.1 413.2,305.2 413.3,305.9 413.5,308.1 413.6,306.9 413.8,304.8 413.9,303.6 414.1,301.3 414.2,302.3 414.4,305.7 414.5,301.7 414.6,301.6 414.8,307.0 414.9,303.5 415.1,305.0 415.2,303.2 415.4,299.9 415.5,302.9 415.6,306.9 415.8,300.2 415.9,300.4 416.1,306.0 416.2,302.0 416.4,300.4 416.5,302.3 416.6,300.6 416.8,301.1 416.9,301.5 417.1,304.2 417.2,304.7 417.4,304.0 417.5,303.9 417.7,305.9 417.8,312.5 417.9,306.4 418.1,307.9 418.2,308.1 418.4,309.6 418.5,309.2 418.7,309.7 418.8,309.9 418.9,309.8 419.1,315.4 419.2,309.8 419.4,311.7 419.5,318.9 419.7,310.0 419.8,310.9 420.0,310.5 420.1,313.6 420.2,311.9 420.4,312.0 420.5,310.7 420.7,312.7 420.8,310.5 421.0,311.0 421.1,312.5 421.2,311.9 421.4,311.3 421.5,311.9 421.7,311.1 421.8,312.5 422.0,313.0 422.1,312.8 422.3,313.6 422.4,314.8 422.5,311.4 422.7,311.2 422.8,310.8 423.0,313.0 423.1,310.1 423.3,312.1 423.4,311.5 423.5,314.5 423.7,312.4 423.8,314.1 424.0,312.6 424.1,311.8 424.3,311.6 424.4,312.7 424.6,311.8 424.7,312.8 424.8,310.9 425.0,312.7 425.1,310.4 425.3,310.5 425.4,315.0 425.6,313.9 425.7,314.5 425.8,313.0 426.0,314.4 426.1,310.7 426.3,310.9 426.4,311.0 426.6,313.3 426.7,312.6 426.9,311.4 427.0,311.7 427.1,312.8 427.3,312.4 427.4,312.1 427.6,314.9 427.7,314.7 427.9,314.4 428.0,315.8 428.1,314.7 428.3,311.6 428.4,313.0 428.6,313.7 428.7,315.0 428.9,313.5 429.0,316.4 429.1,313.5 429.3,314.5 429.4,315.2 429.6,315.5 429.7,314.5 429.9,313.5 430.0,314.0 430.2,313.4 430.3,315.7 430.4,313.7 430.6,313.4 430.7,314.8 430.9,312.8 431.0,314.5 431.2,313.9 431.3,313.3 431.4,315.0 431.6,314.7 431.7,313.4 431.9,313.2 432.0,312.5 432.2,312.9 432.3,310.7 432.5,313.4 432.6,314.2 432.7,314.5 432.9,315.0 433.0,316.7 433.2,315.7 433.3,316.9 433.5,317.2 433.6,318.0 433.7,320.4 433.9,319.2 434.0,319.3 434.2,318.1 434.3,319.5 434.5,319.7 434.6,317.0 434.8,322.4 434.9,320.1 435.0,320.1 435.2,318.0 435.3,315.5 435.5,311.4 435.6,311.1 435.8,308.5 435.9,306.1 436.0,304.9 436.2,305.8 436.3,304.2 436.5,303.9 436.6,304.3 436.8,304.8 436.9,304.6 437.1,304.2 437.2,305.3 437.3,304.0 437.5,303.8 437.6,304.8 437.8,304.8 437.9,303.1 438.1,304.8 438.2,304.8 438.3,306.6 438.5,306.4 438.6,305.9 438.8,305.8 438.9,308.6 439.1,307.9 439.2,305.3 439.3,305.0 439.5,304.6 439.6,303.5 439.8,305.3 439.9,304.7 440.1,306.1 440.2,308.1 440.4,306.3 440.5,305.2 440.6,304.4 440.8,304.5 440.9,306.6 441.1,305.5 441.2,305.4 441.4,306.0 441.5,304.1 441.6,303.6 441.8,305.1 441.9,306.6 442.1,306.4 442.2,304.5 442.4,304.4 442.5,304.9 442.7,303.0 442.8,302.6 442.9,300.1 443.1,301.3 443.2,302.5 443.4,304.4 443.5,304.7 443.7,305.6 443.8,304.0 443.9,304.1 444.1,302.0 444.2,301.5 444.4,301.2 444.5,300.0 444.7,301.0 444.8,302.4 445.0,304.1 445.1,303.6 445.2,302.6 445.4,302.5 445.5,303.0 445.7,301.8 445.8,303.4 446.0,303.5 446.1,302.1 446.2,300.1 446.4,300.8 446.5,300.7 446.7,300.5 446.8,299.6 447.0,300.9 447.1,302.2 447.3,299.7 447.4,300.1 447.5,299.9 447.7,300.2 447.8,303.3 448.0,301.3 448.1,301.5 448.3,300.8 448.4,300.5 448.5,301.2 448.7,299.9 448.8,299.4 449.0,299.3 449.1,300.1 449.3,299.8 449.4,301.9 449.5,299.2 449.7,299.0 449.8,298.7 450.0,297.7 450.1,298.8 450.3,299.2 450.4,298.9 450.6,298.3 450.7,299.3 450.8,299.3 451.0,300.0 451.1,300.7 451.3,301.7 451.4,301.4 451.6,302.6 451.7,301.2 451.8,302.9 452.0,302.5 452.1,303.0 452.3,301.8 452.4,303.9 452.6,303.2 452.7,306.9 452.9,306.2 453.0,308.9 453.1,308.5 453.3,308.8 453.4,309.3 453.6,310.3 453.7,309.0 453.9,311.9 454.0,312.1 454.1,309.7 454.3,309.8 454.4,313.8 454.6,315.4 454.7,314.9 454.9,315.2 455.0,313.8 455.2,312.3 455.3,313.7 455.4,313.4 455.6,314.9 455.7,313.6 455.9,313.3 456.0,313.0 456.2,314.0 456.3,312.9 456.4,309.5 456.6,308.8 456.7,311.0 456.9,310.3 457.0,309.6 457.2,308.9 457.3,308.2 457.5,309.3 457.6,307.5 457.7,309.6 457.9,310.5 458.0,308.9 458.2,308.4 458.3,309.7 458.5,309.1 458.6,308.6 458.7,309.5 458.9,309.1 459.0,307.9 459.2,306.3 459.3,305.9 459.5,304.9 459.6,304.9 459.7,305.9 459.9,303.7 460.0,304.0 460.2,305.1 460.3,304.7 460.5,303.0 460.6,302.5 460.8,304.9 460.9,303.4 461.0,306.3 461.2,305.1 461.3,306.7 461.5,305.8 461.6,306.7 461.8,306.9 461.9,305.3 462.0,305.8 462.2,305.3 462.3,304.8 462.5,304.6 462.6,306.6 462.8,302.7 462.9,301.7 463.1,301.5 463.2,302.0 463.3,300.1 463.5,300.7 463.6,300.3 463.8,299.9 463.9,302.2 464.1,301.0 464.2,301.8 464.3,301.7 464.5,301.1 464.6,303.2 464.8,304.8 464.9,305.8 465.1,304.1 465.2,304.6 465.4,304.8 465.5,305.2 465.6,301.9 465.8,300.3 465.9,301.9 466.1,301.5 466.2,301.1 466.4,302.8 466.5,300.8 466.6,302.1 466.8,301.6 466.9,302.4 467.1,300.0 467.2,297.8 467.4,294.2 467.5,295.3 467.7,293.5 467.8,294.2 467.9,293.8 468.1,291.5 468.2,286.8 468.4,286.0 468.5,285.7 468.7,289.4 468.8,294.2 468.9,296.3 469.1,297.4 469.2,298.2 469.4,299.4 469.5,301.6 469.7,300.9 469.8,303.4 470.0,300.9 470.1,304.3 470.2,305.7 470.4,305.9 470.5,306.5 470.7,309.4 470.8,309.0 471.0,311.1 471.1,309.5 471.2,312.2 471.4,306.9 471.5,306.3 471.7,306.9 471.8,305.7 472.0,305.7 472.1,306.3 472.2,305.9 472.4,306.8 472.5,304.4 472.7,303.6 472.8,303.2 473.0,302.8 473.1,304.0 473.3,301.6 473.4,300.4 473.5,297.6 473.7,297.0 473.8,297.6 474.0,297.9 474.1,297.9 474.3,297.1 474.4,296.8 474.5,296.3 474.7,296.9 474.8,295.3 475.0,298.6 475.1,298.8 475.3,298.2 475.4,300.5 475.6,299.4 475.7,295.5 475.8,296.7 476.0,296.9 476.1,297.5 476.3,294.4 476.4,295.2 476.6,295.1 476.7,296.1 476.8,296.9 477.0,296.3 477.1,293.9 477.3,293.7 477.4,295.7 477.6,296.3 477.7,296.0 477.9,293.5 478.0,294.9 478.1,293.4 478.3,294.7 478.4,293.9 478.6,297.0 478.7,297.4 478.9,296.6 479.0,295.6 479.1,297.1 479.3,296.3 479.4,297.4 479.6,296.6 479.7,296.8 479.9,297.5 480.0,298.9 480.2,297.0 480.3,296.8 480.4,298.0 480.6,297.7 480.7,297.3 480.9,297.8 481.0,297.0 481.2,296.6 481.3,297.6 481.4,298.9 481.6,297.4 481.7,294.7 481.9,294.9 482.0,297.3 482.2,297.4 482.3,295.9 482.4,296.5 482.6,295.4 482.7,295.0 482.9,296.4 483.0,296.6 483.2,296.8 483.3,296.0 483.5,296.1 483.6,293.7 483.7,295.7 483.9,294.4 484.0,295.6 484.2,295.1 484.3,295.3 484.5,294.1 484.6,295.7 484.7,294.1 484.9,296.0 485.0,297.6 485.2,297.9 485.3,296.7 485.5,295.1 485.6,293.6 485.8,299.4 485.9,298.9 486.0,299.4 486.2,299.3 486.3,298.3 486.5,299.1 486.6,298.2 486.8,295.8 486.9,298.6 487.0,300.2 487.2,300.1 487.3,299.9 487.5,299.6 487.6,299.1 487.8,299.1 487.9,298.2 488.1,300.5 488.2,300.0 488.3,299.0 488.5,298.8 488.6,300.7 488.8,299.9 488.9,298.2 489.1,297.3 489.2,299.2 489.3,302.9 489.5,302.4 489.6,300.6 489.8,301.5 489.9,301.6 490.1,302.2 490.2,304.8 490.4,303.2 490.5,304.2 490.6,305.8 490.8,304.3 490.9,303.1 491.1,301.1 491.2,303.7 491.4,303.3 491.5,299.1 491.6,299.8 491.8,299.8 491.9,300.3 492.1,300.5 492.2,303.6 492.4,303.1 492.5,302.4 492.6,302.1 492.8,301.2 492.9,304.3 493.1,304.9 493.2,306.0 493.4,304.0 493.5,302.9 493.7,304.2 493.8,305.3 493.9,302.9 494.1,304.9 494.2,303.9 494.4,302.4 494.5,302.2 494.7,302.5 494.8,302.9 494.9,302.5 495.1,304.6 495.2,304.2 495.4,305.7 495.5,304.4 495.7,305.3 495.8,305.6 496.0,307.0 496.1,307.9 496.2,306.6 496.4,305.3 496.5,306.9 496.7,307.2 496.8,306.5 497.0,306.7 497.1,306.6 497.2,307.9 497.4,307.0 497.5,311.1 497.7,309.6 497.8,308.7 498.0,308.5 498.1,308.6 498.3,306.5 498.4,309.0 498.5,309.0 498.7,308.3 498.8,307.7 499.0,307.4 499.1,308.9 499.3,306.7 499.4,307.0 499.5,306.2 499.7,307.4 499.8,306.5 500.0,306.5 500.1,308.0 500.3,309.4 500.4,309.1 500.6,307.7 500.7,307.8 500.8,309.3 501.0,311.3 501.1,309.7 501.3,311.1 501.4,311.8 501.6,311.2 501.7,310.2 501.8,311.1 502.0,311.2 502.1,310.3 502.3,311.2 502.4,309.5 502.6,310.5 502.7,312.1 502.8,312.1 503.0,309.4 503.1,309.3 503.3,308.8 503.4,311.5 503.6,308.6 503.7,308.2 503.9,310.9 504.0,309.6 504.1,309.8 504.3,309.4 504.4,308.9 504.6,307.2 504.7,308.6 504.9,308.6 505.0,309.6 505.1,309.2 505.3,311.7 505.4,310.6 505.6,309.3 505.7,308.7 505.9,311.7 506.0,311.5 506.2,311.3 506.3,312.1 506.4,310.2 506.6,312.0 506.7,309.7 506.9,310.2 507.0,315.6 507.2,315.1 507.3,309.7 507.4,309.2 507.6,308.4 507.7,308.6 507.9,307.1 508.0,310.3 508.2,309.9 508.3,310.3 508.5,308.2 508.6,308.4 508.7,305.4 508.9,305.8 509.0,307.2 509.2,305.4 509.3,304.0 509.5,308.0 509.6,305.4 509.7,304.9 509.9,307.6 510.0,306.2 510.2,304.4 510.3,302.2 510.5,305.3 510.6,302.8 510.8,305.7 510.9,303.0 511.0,301.0 511.2,302.1 511.3,301.0 511.5,300.3 511.6,303.3 511.8,302.6 511.9,301.2 512.0,302.1 512.2,299.3 512.3,296.2 512.5,298.5 512.6,299.4 512.8,299.2 512.9,298.1 513.1,299.6 513.2,299.9 513.3,300.0 513.5,302.8 513.6,298.3 513.8,298.6 513.9,297.1 514.1,298.2 514.2,298.0 514.3,298.0 514.5,300.1 514.6,299.9 514.8,297.3 514.9,298.4 515.1,299.7 515.2,299.7 515.3,299.0 515.5,298.5 515.6,299.0 515.8,297.5 515.9,297.6 516.1,299.0 516.2,299.4 516.4,297.4 516.5,297.4 516.6,298.1 516.8,297.2 516.9,296.3 517.1,298.1 517.2,299.5 517.4,299.5 517.5,299.6 517.6,298.8 517.8,298.2 517.9,301.3 518.1,299.4 518.2,300.4 518.4,302.3 518.5,300.0 518.7,300.9 518.8,300.2 518.9,300.5 519.1,297.0 519.2,296.2 519.4,297.2 519.5,302.6 519.7,302.2 519.8,303.3 519.9,303.6 520.1,302.3 520.2,300.7 520.4,298.7 520.5,299.8 520.7,298.5 520.8,301.7 521.0,297.7 521.1,298.1 521.2,297.1 521.4,298.5 521.5,298.2 521.7,296.7 521.8,296.9 522.0,296.5 522.1,296.1 522.2,295.2 522.4,295.3 522.5,293.1 522.7,292.9 522.8,290.5 523.0,290.8 523.1,295.6 523.3,295.9 523.4,293.0 523.5,292.9 523.7,292.5 523.8,292.7 524.0,291.5 524.1,292.7 524.3,291.6" fill="none" stroke="#00f5f5" stroke-width="0.8" stroke-linejoin="round" marker-start="url(#mcd)" marker-mid="url(#mcd)" marker-end="url(#mcd)"/>
<polyline clip-path="url(#cd)" points="319.1,377.7 319.2,377.9 319.4,376.9 319.5,375.7 319.7,377.5 319.8,375.3 320.0,373.8 320.1,374.4 320.2,374.5 320.4,374.8 320.5,375.2 320.7,373.0 320.8,372.9 321.0,371.5 321.1,370.5 321.3,368.2 321.4,366.9 321.5,365.0 321.7,364.9 321.8,364.2 322.0,365.6 322.1,365.3 322.3,365.2 322.4,364.4 322.5,361.0 322.7,360.9 322.8,362.3 323.0,361.1 323.1,362.1 323.3,361.6 323.4,364.5 323.6,362.4 323.7,362.4 323.8,362.8 324.0,362.0 324.1,362.7 324.3,361.6 324.4,361.5 324.6,361.0 324.7,361.2 324.8,359.8 325.0,360.3 325.1,361.3 325.3,360.3 325.4,360.9 325.6,360.8 325.7,361.7 325.9,361.2 326.0,363.1 326.1,362.8 326.3,362.1 326.4,362.6 326.6,362.7 326.7,362.5 326.9,358.7 327.0,359.7 327.1,358.7 327.3,358.8 327.4,357.5 327.6,358.6 327.7,358.7 327.9,358.7 328.0,359.5 328.2,359.7 328.3,360.0 328.4,359.2 328.6,356.8 328.7,357.8 328.9,358.0 329.0,358.8 329.2,359.1 329.3,359.9 329.4,359.2 329.6,359.1 329.7,360.0 329.9,361.2 330.0,362.0 330.2,361.5 330.3,362.3 330.4,362.2 330.6,362.4 330.7,363.7 330.9,362.5 331.0,363.3 331.2,362.2 331.3,363.2 331.5,362.6 331.6,362.6 331.7,363.8 331.9,363.9 332.0,362.6 332.2,363.5 332.3,363.0 332.5,363.5 332.6,364.3 332.7,363.9 332.9,364.6 333.0,363.9 333.2,362.6 333.3,363.2 333.5,362.9 333.6,363.3 333.8,362.1 333.9,361.6 334.0,362.3 334.2,361.7 334.3,362.1 334.5,362.1 334.6,361.0 334.8,359.7 334.9,360.1 335.0,360.4 335.2,359.8 335.3,360.3 335.5,363.5 335.6,363.5 335.8,363.7 335.9,363.0 336.1,361.7 336.2,361.8 336.3,360.9 336.5,360.3 336.6,361.8 336.8,360.8 336.9,360.8 337.1,361.3 337.2,360.9 337.3,362.2 337.5,362.0 337.6,362.4 337.8,362.2 337.9,362.1 338.1,361.4 338.2,361.6 338.4,361.8 338.5,362.7 338.6,362.9 338.8,363.1 338.9,363.9 339.1,363.7 339.2,365.0 339.4,364.7 339.5,364.7 339.6,364.8 339.8,365.0 339.9,365.8 340.1,365.0 340.2,366.6 340.4,364.8 340.5,366.3 340.7,365.5 340.8,365.4 340.9,364.9 341.1,364.9 341.2,365.3 341.4,365.0 341.5,366.7 341.7,367.8 341.8,367.4 341.9,368.0 342.1,367.4 342.2,367.2 342.4,367.2 342.5,366.3 342.7,366.5 342.8,365.2 342.9,367.3 343.1,366.6 343.2,366.6 343.4,365.5 343.5,365.1 343.7,364.8 343.8,366.3 344.0,366.4 344.1,365.6 344.2,364.9 344.4,365.5 344.5,366.1 344.7,365.0 344.8,366.0 345.0,363.7 345.1,364.4 345.2,365.0 345.4,364.4 345.5,365.4 345.7,364.5 345.8,362.7 346.0,362.6 346.1,364.2 346.3,362.8 346.4,363.0 346.5,362.9 346.7,366.5 346.8,365.6 347.0,364.0 347.1,363.8 347.3,364.9 347.4,365.1 347.5,363.4 347.7,363.1 347.8,362.7 348.0,363.0 348.1,363.1 348.3,362.7 348.4,363.7 348.6,363.4 348.7,362.8 348.8,363.2 349.0,362.1 349.1,362.4 349.3,363.0 349.4,362.9 349.6,363.0 349.7,363.0 349.8,363.0 350.0,362.5 350.1,362.3 350.3,362.7 350.4,361.4 350.6,362.4 350.7,362.6 350.9,363.5 351.0,362.1 351.1,362.1 351.3,361.4 351.4,361.6 351.6,361.5 351.7,361.6 351.9,362.8 352.0,363.4 352.1,363.3 352.3,362.8 352.4,363.6 352.6,362.9 352.7,364.3 352.9,364.2 353.0,363.6 353.1,363.2 353.3,363.8 353.4,364.0 353.6,366.3 353.7,365.6 353.9,364.8 354.0,365.9 354.2,366.9 354.3,366.4 354.4,363.8 354.6,364.8 354.7,364.9 354.9,365.3 355.0,366.1 355.2,366.0 355.3,366.0 355.4,366.3 355.6,365.8 355.7,365.3 355.9,365.8 356.0,365.9 356.2,367.1 356.3,367.1 356.5,367.3 356.6,366.3 356.7,366.2 356.9,366.5 357.0,323.6 357.2,366.6 357.3,322.8 357.5,366.6 357.6,321.2 357.7,365.8 357.9,320.9 358.0,366.1 358.2,319.8 358.3,366.3 358.5,320.7 358.6,365.7 358.8,321.7 358.9,365.7 359.0,320.7 359.2,365.2 359.3,321.5 359.5,364.9 359.6,322.1 359.8,367.2 359.9,321.9 360.0,367.5 360.2,321.3 360.3,367.6 360.5,322.5 360.6,367.0 360.8,320.4 360.9,366.6 361.1,320.9 361.2,365.3 361.3,321.8 361.5,367.2 361.6,319.0 361.8,366.6 361.9,317.8 362.1,367.2 362.2,323.3 362.3,367.5 362.5,321.2 362.6,366.1 362.8,323.5 362.9,366.6 363.1,321.3 363.2,366.8 363.3,323.3 363.5,367.5 363.6,322.2 363.8,366.6 363.9,322.6 364.1,367.0 364.2,322.1 364.4,367.9 364.5,322.5 364.6,367.3 364.8,323.0 364.9,368.0 365.1,319.6 365.2,367.5 365.4,368.8 365.5,368.8 365.6,367.3 365.8,367.8 365.9,368.4 366.1,368.1 366.2,367.0 366.4,368.6 366.5,368.9 366.7,368.2 366.8,368.3 366.9,367.0 367.1,368.2 367.2,367.8 367.4,369.1 367.5,369.4 367.7,367.3 367.8,367.5 367.9,367.9 368.1,367.2 368.2,365.7 368.4,365.8 368.5,365.1 368.7,365.1 368.8,364.8 369.0,364.9 369.1,320.6 369.2,363.0 369.4,363.8 369.5,363.8 369.7,362.6 369.8,362.1 370.0,363.8 370.1,364.0 370.2,363.7 370.4,363.8 370.5,363.8 370.7,363.5 370.8,362.6 371.0,362.5 371.1,362.4 371.3,361.9 371.4,360.9 371.5,360.9 371.7,361.6 371.8,361.4 372.0,361.9 372.1,361.3 372.3,361.5 372.4,361.6 372.5,362.1 372.7,361.6 372.8,361.5 373.0,360.9 373.1,361.0 373.3,359.7 373.4,358.6 373.5,357.8 373.7,357.9 373.8,357.2 374.0,358.0 374.1,357.4 374.3,358.2 374.4,357.1 374.6,358.5 374.7,357.8 374.8,358.6 375.0,358.8 375.1,356.6 375.3,357.2 375.4,357.5 375.6,357.4 375.7,357.8 375.8,357.3 376.0,356.6 376.1,356.9 376.3,356.6 376.4,355.6 376.6,357.2 376.7,357.1 376.9,358.7 377.0,357.9 377.1,358.8 377.3,358.1 377.4,359.1 377.6,358.6 377.7,357.4 377.9,358.4 378.0,358.4 378.1,358.7 378.3,358.8 378.4,358.4 378.6,358.8 378.7,359.5 378.9,357.6 379.0,359.1 379.2,358.4 379.3,359.0 379.4,360.4 379.6,360.5 379.7,359.6 379.9,359.7 380.0,358.9 380.2,360.1 380.3,360.1 380.4,360.3 380.6,360.7 380.7,359.5 380.9,361.4 381.0,361.3 381.2,359.6 381.3,359.8 381.5,359.5 381.6,360.7 381.7,359.6 381.9,359.7 382.0,359.0 382.2,358.9 382.3,358.3 382.5,357.8 382.6,356.8 382.7,358.6 382.9,360.1 383.0,360.0 383.2,361.0 383.3,361.2 383.5,359.6 383.6,359.4 383.8,360.5 383.9,361.0 384.0,361.5 384.2,360.8 384.3,358.7 384.5,358.5 384.6,358.3 384.8,357.5 384.9,356.8 385.0,356.6 385.2,356.8 385.3,356.3 385.5,356.1 385.6,356.5 385.8,354.1 385.9,355.6 386.0,354.8 386.2,354.4 386.3,354.9 386.5,354.6 386.6,322.8 386.8,354.6 386.9,353.9 387.1,353.8 387.2,356.0 387.3,355.3 387.5,355.3 387.6,354.1 387.8,355.2 387.9,354.8 388.1,353.1 388.2,352.9 388.3,352.5 388.5,352.4 388.6,352.7 388.8,352.8 388.9,353.6 389.1,354.1 389.2,353.6 389.4,353.3 389.5,352.9 389.6,353.1 389.8,351.3 389.9,351.8 390.1,353.1 390.2,310.6 390.4,354.0 390.5,353.6 390.6,354.8 390.8,355.0 390.9,356.4 391.1,356.1 391.2,357.1 391.4,357.1 391.5,358.1 391.7,358.9 391.8,356.8 391.9,357.7 392.1,359.5 392.2,359.3 392.4,358.8 392.5,359.6 392.7,357.8 392.8,358.6 392.9,359.7 393.1,360.1 393.2,361.6 393.4,361.9 393.5,362.8 393.7,363.1 393.8,362.7 394.0,363.7 394.1,363.9 394.2,363.5 394.4,364.0 394.5,304.5 394.7,364.8 394.8,364.2 395.0,304.3 395.1,363.1 395.2,365.0 395.4,306.7 395.5,363.2 395.7,364.3 395.8,306.3 396.0,366.2 396.1,367.8 396.2,305.9 396.4,370.6 396.5,371.9 396.7,306.9 396.8,375.3 397.0,376.5 397.1,377.4 397.3,379.7 397.4,380.0 397.5,378.2 397.7,377.9 397.8,376.9 398.0,375.5 398.1,376.2 398.3,375.2 398.4,377.2 398.5,377.9 398.7,377.9 398.8,377.4 399.0,377.2 399.1,376.4 399.3,374.5 399.4,375.1 399.6,375.7 399.7,374.9 399.8,374.5 400.0,374.0 400.1,373.2 400.3,372.0 400.4,370.6 400.6,370.2 400.7,369.3 400.8,369.4 401.0,367.1 401.1,365.5 401.3,367.0 401.4,367.7 401.6,368.5 401.7,370.3 401.9,372.6 402.0,372.3 402.1,373.7 402.3,374.0 402.4,375.3 402.6,377.2 402.7,376.2 402.9,377.8 403.0,378.0 403.1,380.0 403.3,379.5 403.4,380.2 403.6,380.6 403.7,380.3 403.9,380.6 404.0,379.8 404.2,380.2 404.3,379.6 404.4,379.4 404.6,379.1 404.7,379.1 404.9,378.0 405.0,378.2 405.2,378.2 405.3,378.7 405.4,378.9 405.6,376.9 405.7,376.7 405.9,376.0 406.0,375.8 406.2,374.2 406.3,373.4 406.4,372.7 406.6,372.4 406.7,372.2 406.9,371.6 407.0,370.3 407.2,371.1 407.3,370.6 407.5,370.1 407.6,369.5 407.7,368.7 407.9,368.4 408.0,367.2 408.2,367.5 408.3,366.1 408.5,365.2 408.6,364.3 408.7,362.9 408.9,362.0 409.0,361.6 409.2,360.6 409.3,360.1 409.5,358.9 409.6,356.7 409.8,355.6 409.9,355.6 410.0,356.0 410.2,357.6 410.3,358.5 410.5,360.9 410.6,361.6 410.8,362.0 410.9,363.2 411.0,364.0 411.2,363.4 411.3,364.6 411.5,364.9 411.6,364.8 411.8,365.0 411.9,365.3 412.1,364.8 412.2,364.7 412.3,365.3 412.5,364.7 412.6,365.4 412.8,366.6 412.9,366.1 413.1,366.8 413.2,366.5 413.3,367.2 413.5,366.6 413.6,367.6 413.8,367.3 413.9,364.7 414.1,364.8 414.2,363.8 414.4,364.6 414.5,364.0 414.6,364.5 414.8,361.8 414.9,362.2 415.1,363.7 415.2,362.7 415.4,361.5 415.5,360.0 415.6,362.0 415.8,362.7 415.9,362.1 416.1,361.9 416.2,361.7 416.4,361.5 416.5,360.3 416.6,360.4 416.8,360.8 416.9,361.0 417.1,360.3 417.2,360.2 417.4,361.2 417.5,359.8 417.7,359.0 417.8,358.6 417.9,358.4 418.1,359.5 418.2,359.6 418.4,359.9 418.5,358.9 418.7,357.7 418.8,359.2 418.9,359.3 419.1,357.4 419.2,357.3 419.4,356.7 419.5,358.0 419.7,356.7 419.8,358.0 420.0,355.0 420.1,355.3 420.2,355.3 420.4,354.1 420.5,354.9 420.7,354.5 420.8,356.9 421.0,357.0 421.1,358.3 421.2,359.7 421.4,360.6 421.5,361.2 421.7,357.4 421.8,358.1 422.0,359.1 422.1,359.9 422.3,360.5 422.4,360.7 422.5,361.4 422.7,361.9 422.8,362.2 423.0,362.6 423.1,364.9 423.3,364.1 423.4,364.7 423.5,365.8 423.7,366.3 423.8,366.7 424.0,368.0 424.1,368.6 424.3,370.3 424.4,370.5 424.6,370.9 424.7,369.3 424.8,370.2 425.0,369.2 425.1,368.6 425.3,368.7 425.4,368.6 425.6,369.3 425.7,369.9 425.8,369.3 426.0,368.2 426.1,368.7 426.3,369.4 426.4,369.4 426.6,369.1 426.7,369.0 426.9,367.3 427.0,367.7 427.1,368.0 427.3,367.3 427.4,366.8 427.6,367.3 427.7,368.8 427.9,368.0 428.0,368.4 428.1,368.4 428.3,367.8 428.4,368.1 428.6,368.4 428.7,367.5 428.9,367.9 429.0,367.7 429.1,368.8 429.3,368.5 429.4,369.1 429.6,369.0 429.7,369.1 429.9,368.8 430.0,368.8 430.2,368.2 430.3,371.2 430.4,371.8 430.6,370.5 430.7,370.4 430.9,369.8 431.0,369.5 431.2,369.7 431.3,367.6 431.4,368.3 431.6,367.5 431.7,368.6 431.9,368.7 432.0,366.9 432.2,367.2 432.3,365.6 432.5,365.8 432.6,365.2 432.7,365.4 432.9,364.3 433.0,363.7 433.2,363.2 433.3,362.9 433.5,361.8 433.6,362.1 433.7,363.4 433.9,363.0 434.0,363.9 434.2,363.4 434.3,362.0 434.5,362.1 434.6,361.0 434.8,361.3 434.9,361.7 435.0,362.3 435.2,361.3 435.3,360.4 435.5,360.7 435.6,360.1 435.8,359.5 435.9,358.6 436.0,360.5 436.2,360.4 436.3,360.9 436.5,360.5 436.6,361.0 436.8,361.2 436.9,360.8 437.1,359.1 437.2,360.0 437.3,359.1 437.5,359.4 437.6,359.3 437.8,358.9 437.9,358.6 438.1,358.5 438.2,357.6 438.3,357.3 438.5,356.6 438.6,357.0 438.8,356.8 438.9,359.0 439.1,357.7 439.2,358.4 439.3,358.8 439.5,358.7 439.6,359.1 439.8,357.2 439.9,357.1 440.1,356.3 440.2,356.1 440.4,357.0 440.5,355.5 440.6,357.8 440.8,356.7 440.9,357.6 441.1,357.0 441.2,356.6 441.4,356.6 441.5,358.0 441.6,357.4 441.8,357.0 441.9,357.3 442.1,357.5 442.2,356.5 442.4,357.0 442.5,356.8 442.7,357.5 442.8,357.4 442.9,358.2 443.1,356.9 443.2,357.3 443.4,357.9 443.5,359.3 443.7,359.2 443.8,358.3 443.9,357.7 444.1,358.2 444.2,358.4 444.4,359.3 444.5,359.4 444.7,358.3 444.8,358.6 445.0,361.7 445.1,361.2 445.2,361.6 445.4,361.7 445.5,360.2 445.7,361.1 445.8,360.2 446.0,359.6 446.1,359.6 446.2,358.8 446.4,359.2 446.5,359.7 446.7,359.4 446.8,359.9 447.0,360.6 447.1,361.3 447.3,360.9 447.4,360.1 447.5,358.0 447.7,359.4 447.8,359.7 448.0,360.0 448.1,359.7 448.3,360.3 448.4,361.4 448.5,361.2 448.7,360.6 448.8,360.5 449.0,361.9 449.1,361.6 449.3,361.1 449.4,361.1 449.5,362.0 449.7,362.7 449.8,361.6 450.0,361.3 450.1,361.5 450.3,361.1 450.4,362.9 450.6,362.8 450.7,362.6 450.8,362.1 451.0,361.6 451.1,361.8 451.3,360.9 451.4,361.3 451.6,362.5 451.7,361.8 451.8,361.7 452.0,361.5 452.1,361.6 452.3,362.2 452.4,362.5 452.6,362.5 452.7,362.5 452.9,362.7 453.0,361.2 453.1,361.9 453.3,361.8 453.4,361.2 453.6,360.2 453.7,360.1 453.9,359.8 454.0,359.7 454.1,359.3 454.3,359.3 454.4,361.4 454.6,362.1 454.7,362.0 454.9,361.7 455.0,361.9 455.2,361.9 455.3,360.7 455.4,359.9 455.6,360.3 455.7,361.2 455.9,360.8 456.0,360.8 456.2,359.2 456.3,359.1 456.4,359.6 456.6,359.9 456.7,359.5 456.9,359.5 457.0,359.6 457.2,359.2 457.3,360.4 457.5,360.7 457.6,359.6 457.7,360.0 457.9,359.5 458.0,360.6 458.2,358.9 458.3,358.4 458.5,359.8 458.6,358.8 458.7,358.7 458.9,359.3 459.0,359.4 459.2,358.8 459.3,360.0 459.5,359.9 459.6,359.5 459.7,359.0 459.9,359.1 460.0,358.9 460.2,358.6 460.3,358.5 460.5,358.2 460.6,358.8 460.8,358.0 460.9,358.9 461.0,358.1 461.2,359.1 461.3,357.9 461.5,357.6 461.6,357.7 461.8,358.3 461.9,358.6 462.0,359.1 462.2,358.5 462.3,359.1 462.5,358.1 462.6,358.4 462.8,358.8 462.9,358.8 463.1,358.4 463.2,358.2 463.3,359.1 463.5,359.8 463.6,359.4 463.8,360.3 463.9,358.3 464.1,358.5 464.2,359.2 464.3,359.3 464.5,358.6 464.6,358.6 464.8,358.7 464.9,358.9 465.1,359.3 465.2,359.2 465.4,359.5 465.5,359.3 465.6,358.9 465.8,358.8 465.9,360.6 466.1,360.0 466.2,360.1 466.4,360.1 466.5,359.3 466.6,358.4 466.8,359.4 466.9,359.2 467.1,364.8 467.2,370.4 467.4,380.2 467.5,385.9 467.7,393.4 467.8,400.7 467.9,407.5 468.1,407.6 468.2,409.8 468.4,410.2 468.5,410.2 468.7,410.9 468.8,411.0 468.9,410.6 469.1,412.0 469.2,412.8 469.4,410.7 469.5,408.8 469.7,405.2 469.8,403.5 470.0,398.2 470.1,398.5 470.2,398.5 470.4,397.6 470.5,396.1 470.7,394.6 470.8,393.2 471.0,391.5 471.1,389.4 471.2,388.3 471.4,389.3 471.5,389.0 471.7,388.7 471.8,388.4 472.0,387.9 472.1,386.8 472.2,387.1 472.4,386.8 472.5,385.4 472.7,384.0 472.8,383.5 473.0,383.1 473.1,383.4 473.3,382.7 473.4,384.0 473.5,384.0 473.7,383.4 473.8,382.0 474.0,381.0 474.1,380.5 474.3,378.3 474.4,378.2 474.5,377.6 474.7,378.0 474.8,377.9 475.0,376.8 475.1,376.3 475.3,376.1 475.4,374.7 475.6,374.7 475.7,375.4 475.8,376.1 476.0,376.3 476.1,376.2 476.3,376.1 476.4,376.7 476.6,377.7 476.7,378.1 476.8,378.2 477.0,380.1 477.1,379.6 477.3,380.1 477.4,379.4 477.6,380.0 477.7,379.3 477.9,378.8 478.0,379.1 478.1,379.1 478.3,380.0 478.4,380.4 478.6,381.3 478.7,380.5 478.9,382.7 479.0,382.0 479.1,379.4 479.3,379.9 479.4,378.7 479.6,378.4 479.7,378.1 479.9,377.0 480.0,376.7 480.2,377.2 480.3,377.4 480.4,376.0 480.6,377.5 480.7,376.6 480.9,374.5 481.0,375.5 481.2,375.8 481.3,375.7 481.4,375.8 481.6,373.8 481.7,372.9 481.9,373.0 482.0,373.3 482.2,373.4 482.3,373.6 482.4,373.5 482.6,373.5 482.7,373.9 482.9,373.5 483.0,374.6 483.2,375.1 483.3,374.8 483.5,374.7 483.6,374.4 483.7,376.3 483.9,377.3 484.0,377.6 484.2,377.1 484.3,377.6 484.5,377.2 484.6,374.7 484.7,376.3 484.9,376.6 485.0,376.1 485.2,376.4 485.3,376.2 485.5,377.6 485.6,376.8 485.8,377.4 485.9,378.2 486.0,377.4 486.2,377.2 486.3,377.9 486.5,379.1 486.6,378.5 486.8,379.6 486.9,378.4 487.0,379.0 487.2,377.9 487.3,379.4 487.5,380.0 487.6,380.4 487.8,378.9 487.9,379.9 488.1,379.0 488.2,378.5 488.3,377.7 488.5,377.8 488.6,378.6 488.8,379.4 488.9,379.0 489.1,379.8 489.2,380.4 489.3,379.4 489.5,379.2 489.6,379.7 489.8,380.4 489.9,380.0 490.1,379.0 490.2,378.1 490.4,378.9 490.5,379.3 490.6,379.4 490.8,379.3 490.9,379.8 491.1,379.6 491.2,378.1 491.4,379.3 491.5,380.5 491.6,379.1 491.8,379.2 491.9,379.2 492.1,379.7 492.2,379.3 492.4,379.4 492.5,379.3 492.6,379.0 492.8,378.8 492.9,379.0 493.1,379.0 493.2,379.6 493.4,379.5 493.5,380.0 493.7,379.8 493.8,379.7 493.9,379.7 494.1,379.1 494.2,379.3 494.4,378.4 494.5,378.0 494.7,378.7 494.8,379.1 494.9,379.2 495.1,378.9 495.2,379.0 495.4,378.5 495.5,377.3 495.7,376.4 495.8,377.7 496.0,375.5 496.1,375.5 496.2,375.9 496.4,372.4 496.5,372.5 496.7,372.9 496.8,372.2 497.0,370.5 497.1,370.2 497.2,369.8 497.4,369.3 497.5,366.2 497.7,367.3 497.8,368.6 498.0,368.9 498.1,368.4 498.3,368.6 498.4,368.0 498.5,368.0 498.7,368.2 498.8,367.7 499.0,369.0 499.1,369.0 499.3,370.2 499.4,369.9 499.5,369.5 499.7,369.6 499.8,369.6 500.0,370.1 500.1,371.6 500.3,372.0 500.4,372.9 500.6,372.7 500.7,373.4 500.8,373.0 501.0,371.6 501.1,371.0 501.3,370.9 501.4,371.1 501.6,370.4 501.7,371.2 501.8,369.6 502.0,369.5 502.1,370.5 502.3,370.8 502.4,369.2 502.6,369.6 502.7,368.6 502.8,369.3 503.0,369.0 503.1,369.3 503.3,367.9 503.4,368.7 503.6,370.0 503.7,369.3 503.9,368.6 504.0,369.4 504.1,369.7 504.3,368.7 504.4,370.3 504.6,370.2 504.7,370.2 504.9,371.6 505.0,372.8 505.1,372.7 505.3,371.7 505.4,371.5 505.6,370.5 505.7,371.0 505.9,371.3 506.0,371.7 506.2,371.9 506.3,372.1 506.4,371.0 506.6,371.7 506.7,372.6 506.9,372.5 507.0,370.0 507.2,370.5 507.3,370.2 507.4,369.0 507.6,367.8 507.7,367.2 507.9,368.5 508.0,368.5 508.2,368.3 508.3,368.9 508.5,367.1 508.6,366.7 508.7,367.5 508.9,367.0 509.0,368.0 509.2,367.2 509.3,366.3 509.5,365.3 509.6,363.5 509.7,362.7 509.9,360.3 510.0,360.3 510.2,359.1 510.3,358.2 510.5,357.2 510.6,356.0 510.8,355.0 510.9,354.5 511.0,353.3 511.2,353.2 511.3,355.0 511.5,355.0 511.6,354.1 511.8,352.8 511.9,350.5 512.0,351.4 512.2,349.8 512.3,348.8 512.5,347.8 512.6,346.8 512.8,345.4 512.9,346.9 513.1,346.1 513.2,347.3 513.3,348.1 513.5,349.0 513.6,349.9 513.8,351.0 513.9,351.2 514.1,352.4 514.2,353.6 514.3,354.7 514.5,355.7 514.6,355.9 514.8,357.2 514.9,357.3 515.1,358.0 515.2,357.1 515.3,357.9 515.5,358.5 515.6,356.1 515.8,355.2 515.9,355.4 516.1,355.2 516.2,354.8 516.4,355.2 516.5,352.8 516.6,352.3 516.8,354.2 516.9,353.5 517.1,353.1 517.2,353.0 517.4,351.8 517.5,351.6 517.6,352.5 517.8,353.0 517.9,351.3 518.1,351.4 518.2,353.5 518.4,353.3 518.5,353.1 518.7,352.7 518.8,355.0 518.9,354.9 519.1,354.4 519.2,354.8 519.4,354.1 519.5,354.6 519.7,354.4 519.8,354.7 519.9,355.2 520.1,355.8 520.2,357.3 520.4,357.3 520.5,358.6 520.7,362.6 520.8,363.6 521.0,366.4 521.1,369.3 521.2,371.8 521.4,373.8 521.5,376.3 521.7,378.1 521.8,381.0 522.0,383.2 522.1,383.8 522.2,386.7 522.4,388.5 522.5,387.5 522.7,385.9 522.8,385.5 523.0,384.3 523.1,384.7 523.3,383.0 523.4,382.5 523.5,382.6 523.7,382.9 523.8,382.6 524.0,381.1 524.1,380.5 524.3,380.5" fill="none" stroke="#00fa00" stroke-width="0.8" stroke-linejoin="round" marker-start="url(#mgd)" marker-mid="url(#mgd)" marker-end="url(#mgd)"/>
<rect x="319.1" y="264.5" width="215.5" height="169.4" fill="none" stroke="#858585" stroke-width="1"/>
<path d="M319.1 433.9v-2.2M319.1 264.5v2.2M390.9 433.9v-2.2M390.9 264.5v2.2M462.8 433.9v-2.2M462.8 264.5v2.2M534.6 433.9v-2.2M534.6 264.5v2.2M319.1 433.9h2.2M534.6 433.9h-2.2M319.1 400.0h2.2M534.6 400.0h-2.2M319.1 366.1h2.2M534.6 366.1h-2.2M319.1 332.3h2.2M534.6 332.3h-2.2M319.1 298.4h2.2M534.6 298.4h-2.2M319.1 264.5h2.2M534.6 264.5h-2.2" stroke="#858585" stroke-width="0.8" fill="none"/>
<g font-size="6.6" fill="#3a3a3a">
<text x="319.1" y="443.7" text-anchor="middle">0</text>
<text x="390.9" y="443.7" text-anchor="middle">500</text>
<text x="462.8" y="443.7" text-anchor="middle">1000</text>
<text x="534.6" y="443.7" text-anchor="middle">1500</text>
<text x="316.1" y="436.7" text-anchor="end">0</text>
<text x="316.1" y="402.8" text-anchor="end">500</text>
<text x="316.1" y="368.9" text-anchor="end">1000</text>
<text x="316.1" y="335.1" text-anchor="end">1500</text>
<text x="316.1" y="301.2" text-anchor="end">2000</text>
<text x="316.1" y="267.3" text-anchor="end">2500</text>
</g>
<text x="426.5" y="453.7" text-anchor="middle" font-size="7.33" fill="#3a3a3a">frame number</text>
<text transform="translate(297.1 348.7) rotate(-90)" text-anchor="middle" font-size="7.33" fill="#3a3a3a">x-coordinate or y-coordinate (pixel)</text>
<text x="421.1" y="478.8" text-anchor="middle" font-family="'Liberation Serif', serif" font-weight="bold" font-size="13.2" fill="#111">d</text>
<!-- e -->
<polyline clip-path="url(#ce)" points="36.6,547.0 36.9,547.0 37.2,546.7 37.5,546.6 37.8,547.0 38.1,546.9 38.4,547.5 38.8,547.4 39.1,546.7 39.4,546.6 39.7,545.9 40.0,545.9 40.3,544.8 40.6,544.7 40.9,545.0 41.2,544.9 41.5,546.7 41.8,548.6 42.1,551.8 42.5,553.7 42.8,554.6 43.1,556.5 43.4,559.3 43.7,559.5 44.0,560.8 44.3,561.0 44.6,560.3 44.9,560.6 45.2,557.0 45.5,554.7 45.8,551.4 46.1,549.1 46.5,547.8 46.8,545.6 47.1,544.6 47.4,542.3 47.7,542.6 48.0,542.3 48.3,540.7 48.6,540.4 48.9,539.3 49.2,539.0 49.5,538.6 49.8,538.2 50.2,539.7 50.5,539.3 50.8,538.4 51.1,538.1 51.4,536.3 51.7,536.0 52.0,537.2 52.3,537.5 52.6,536.2 52.9,536.4 53.2,536.3 53.5,536.6 53.8,539.1 54.2,539.4 54.5,539.9 54.8,540.1 55.1,540.4 55.4,540.8 55.7,539.3 56.0,539.8 56.3,540.4 56.6,540.8 56.9,539.9 57.2,540.3 57.5,542.1 57.9,542.5 58.2,544.3 58.5,544.7 58.8,543.8 59.1,544.2 59.4,543.7 59.7,544.1 60.0,543.8 60.3,544.1 60.6,544.9 60.9,545.2 61.2,546.6 61.5,546.9 61.9,546.6 62.2,547.0 62.5,548.7 62.8,549.0 63.1,547.8 63.4,548.1 63.7,550.5 64.0,550.8 64.3,550.5 64.6,550.3 64.9,552.0 65.2,551.8 65.6,550.4 65.9,550.1 66.2,548.9 66.5,548.6 66.8,548.3 67.1,548.1 67.4,548.7 67.7,548.9 68.0,548.1 68.3,548.4 68.6,549.4 68.9,549.7 69.2,548.3 69.6,548.5 69.9,550.3 70.2,550.6 70.5,550.9 70.8,551.1 71.1,552.8 71.4,553.1 71.7,552.5 72.0,552.8 72.3,551.1 72.6,551.8 72.9,553.4 73.3,554.1 73.6,557.8 73.9,558.6 74.2,557.7 74.5,558.4 74.8,556.6 75.1,557.3 75.4,556.7 75.7,556.5 76.0,555.6 76.3,555.4 76.6,554.5 76.9,554.4 77.3,557.2 77.6,557.1 77.9,556.1 78.2,555.9 78.5,556.4 78.8,556.2 79.1,555.3 79.4,555.2 79.7,556.9 80.0,557.3 80.3,557.4 80.6,557.8 81.0,559.3 81.3,559.7 81.6,560.2 81.9,560.7 82.2,560.8 82.5,561.3 82.8,562.2 83.1,562.6 83.4,560.7 83.7,561.2 84.0,561.8 84.3,562.3 84.6,562.8 85.0,563.2 85.3,564.2 85.6,564.7 85.9,566.0 86.2,566.4 86.5,566.7 86.8,567.2 87.1,566.0 87.4,566.4 87.7,567.5 88.0,567.9 88.3,569.3 88.7,569.7 89.0,569.3 89.3,569.6 89.6,569.2 89.9,569.5 90.2,569.1 90.5,569.5 90.8,571.5 91.1,571.9 91.4,571.9 91.7,572.2 92.0,572.9 92.3,573.2 92.7,573.7 93.0,574.0 93.3,574.2 93.6,574.5 93.9,574.3 94.2,574.1 94.5,572.4 94.8,572.1 95.1,572.3 95.4,572.0 95.7,572.5 96.0,572.3 96.4,573.0 96.7,572.8 97.0,568.1 97.3,567.7 97.6,569.0 97.9,568.6 98.2,571.1 98.5,570.7 98.8,570.8 99.1,570.4 99.4,567.2 99.7,566.8 100.0,565.6 100.4,565.2 100.7,568.3 101.0,567.9 101.3,566.5 101.6,565.4 101.9,565.0 102.2,564.0 102.5,563.3 102.8,562.3 103.1,559.0 103.4,558.0 103.7,557.0 104.1,556.0 104.4,553.8 104.7,552.7 105.0,552.2 105.3,551.2 105.6,551.5 105.9,550.4 106.2,552.0 106.5,552.4 106.8,550.5 107.1,551.0 107.4,551.7 107.7,552.2 108.1,554.5 108.4,555.0 108.7,555.9 109.0,556.3 109.3,556.4 109.6,556.8 109.9,557.0 110.2,557.4 110.5,557.9 110.8,558.3 111.1,557.1 111.4,557.5 111.8,556.3 112.1,556.7 112.4,556.7 112.7,557.1 113.0,559.5 113.3,559.9 113.6,562.0 113.9,562.4 114.2,564.0 114.5,564.4 114.8,564.8 115.1,565.2 115.4,566.0 115.8,566.4 116.1,567.4 116.4,567.8 116.7,565.6 117.0,566.0 117.3,564.8 117.6,565.2 117.9,566.1 118.2,566.5 118.5,566.4 118.8,566.8 119.1,567.9 119.5,568.2 119.8,568.3 120.1,568.7 120.4,570.2 120.7,570.6 121.0,569.8 121.3,570.2 121.6,570.7 121.9,570.3 122.2,569.8 122.5,569.5 122.8,568.1 123.1,567.7 123.5,567.3 123.8,566.9 124.1,567.1 124.4,566.7 124.7,566.5 125.0,566.2 125.3,568.1 125.6,567.8 125.9,567.6 126.2,567.3 126.5,565.9 126.8,565.5 127.2,565.3 127.5,565.0 127.8,562.4 128.1,562.1 128.4,562.3 128.7,562.0 129.0,563.2 129.3,562.9 129.6,562.2 129.9,561.9 130.2,563.9 130.5,563.6 130.8,562.4 131.2,562.0 131.5,560.4 131.8,560.0 132.1,560.6 132.4,560.2 132.7,557.3 133.0,556.9 133.3,557.1 133.6,556.7 133.9,559.1 134.2,558.7 134.5,558.3 134.9,557.9 135.2,554.4 135.5,554.6 135.8,553.8 136.1,554.1 136.4,555.1 136.7,555.4 137.0,554.4 137.3,554.6 137.6,557.0 137.9,557.2 138.2,556.5 138.5,556.7 138.9,558.8 139.2,559.1 139.5,558.3 139.8,558.6 140.1,558.2 140.4,557.8 140.7,558.3 141.0,557.9 141.3,557.9 141.6,557.5 141.9,555.8 142.2,555.4 142.6,556.1 142.9,555.7 143.2,555.1 143.5,555.0 143.8,553.1 144.1,553.0 144.4,554.5 144.7,554.5 145.0,555.7 145.3,555.6 145.6,554.7 145.9,554.6 146.2,553.4 146.6,553.4 146.9,553.7 147.2,553.7 147.5,552.1 147.8,552.2 148.1,550.7 148.4,550.8 148.7,553.9 149.0,554.0 149.3,554.3 149.6,554.4 149.9,554.9 150.3,555.0 150.6,555.7 150.9,555.8 151.2,554.1 151.5,554.2 151.8,554.8 152.1,554.8 152.4,556.1 152.7,555.4 153.0,553.1 153.3,552.4 153.6,552.6 153.9,551.9 154.3,551.7 154.6,551.0 154.9,546.2 155.2,545.5 155.5,544.1 155.8,543.4 156.1,545.1 156.4,544.4 156.7,544.6 157.0,545.0 157.3,545.5 157.6,546.0 158.0,547.2 158.3,547.7 158.6,546.6 158.9,547.1 159.2,547.0 159.5,547.5 159.8,549.3 160.1,549.6 160.4,549.2 160.7,549.6 161.0,550.8 161.3,551.1 161.6,553.2 162.0,553.5 162.3,552.8 162.6,553.1 162.9,552.2 163.2,552.5 163.5,554.0 163.8,554.4 164.1,555.4 164.4,555.8 164.7,554.9 165.0,554.6 165.3,553.1 165.7,552.9 166.0,553.0 166.3,552.7 166.6,550.3 166.9,550.1 167.2,550.8 167.5,550.5 167.8,551.3 168.1,551.1 168.4,551.0 168.7,550.8 169.0,550.2 169.3,550.6 169.7,549.4 170.0,549.8 170.3,550.0 170.6,550.4 170.9,551.0 171.2,551.4 171.5,552.9 171.8,553.3 172.1,554.6 172.4,555.0 172.7,555.1 173.0,555.5 173.4,557.6 173.7,558.0 174.0,557.3 174.3,556.8 174.6,554.4 174.9,553.9 175.2,555.6 175.5,555.1 175.8,551.2 176.1,550.7 176.4,550.7 176.7,550.3 177.0,552.5 177.4,552.0 177.7,551.0 178.0,550.5 178.3,546.3 178.6,546.5 178.9,546.4 179.2,546.5 179.5,550.2 179.8,550.4 180.1,549.7 180.4,549.8 180.7,550.8 181.1,550.9 181.4,551.9 181.7,552.0 182.0,550.9 182.3,551.0 182.6,551.3 182.9,551.5 183.2,549.5 183.5,549.7 183.8,550.8 184.1,551.0 184.4,552.0 184.7,552.2 185.1,552.8 185.4,553.0 185.7,551.2 186.0,551.3 186.3,552.1 186.6,552.3 186.9,553.1 187.2,553.3 187.5,552.2 187.8,552.3 188.1,553.6 188.4,553.7 188.8,554.0 189.1,554.1 189.4,553.2 189.7,553.3 190.0,553.5 190.3,553.6 190.6,552.2 190.9,552.2 191.2,553.6 191.5,553.7 191.8,553.5 192.1,553.5 192.4,554.1 192.8,554.3 193.1,557.7 193.4,557.9 193.7,557.9 194.0,558.0 194.3,556.0 194.6,556.2 194.9,555.7 195.2,555.9 195.5,556.3 195.8,556.5 196.1,556.3 196.5,556.4 196.8,556.5 197.1,556.7 197.4,556.5 197.7,556.6 198.0,555.4 198.3,555.6 198.6,557.2 198.9,557.4 199.2,558.1 199.5,558.2 199.8,559.1 200.1,559.2 200.5,559.3 200.8,559.5 201.1,559.6 201.4,559.8 201.7,560.2 202.0,559.3 202.3,558.5 202.6,557.7 202.9,556.9 203.2,556.1 203.5,555.2 203.8,554.4 204.2,550.0 204.5,549.2 204.8,550.5 205.1,551.2 205.4,553.6 205.7,554.3 206.0,556.6 206.3,557.3 206.6,555.9 206.9,556.7 207.2,558.4 207.5,559.1 207.8,561.4 208.2,560.7 208.5,557.7 208.8,557.0 209.1,555.8 209.4,555.1 209.7,553.3 210.0,552.6 210.3,553.5 210.6,552.8 210.9,550.9 211.2,549.9 211.5,548.7 211.9,547.7 212.2,546.9 212.5,545.9 212.8,543.7 213.1,542.7 213.4,542.0 213.7,541.0 214.0,540.7 214.3,540.3 214.6,541.0 214.9,540.6 215.2,540.7 215.5,540.3 215.9,538.9 216.2,538.5 216.5,538.4 216.8,538.0 217.1,537.6 217.4,537.2 217.7,535.9 218.0,535.5 218.3,534.4 218.6,535.0 218.9,540.2 219.2,540.8 219.6,542.3 219.9,542.9 220.2,540.3 220.5,540.9 220.8,540.5 221.1,541.1 221.4,542.4 221.7,542.6 222.0,542.1 222.3,542.3 222.6,541.1 222.9,541.3 223.2,541.7 223.6,542.0 223.9,544.0 224.2,544.2 224.5,543.0 224.8,544.0 225.1,546.0 225.4,547.0 225.7,548.5 226.0,549.4 226.3,549.3 226.6,550.3 226.9,552.4 227.3,553.4 227.6,553.0 227.9,554.5 228.2,555.1 228.5,556.5 228.8,559.4 229.1,560.8 229.4,562.7 229.7,564.2 230.0,564.9 230.3,566.4 230.6,568.4 230.9,567.9 231.3,568.1 231.6,567.6 231.9,566.9 232.2,566.4 232.5,566.2 232.8,565.7 233.1,563.6 233.4,563.1 233.7,563.8 234.0,564.0 234.3,564.2 234.6,564.4 235.0,562.6 235.3,562.9 235.6,563.4 235.9,563.6 236.2,566.9 236.5,567.1 236.8,566.7" fill="none" stroke="#ff2a2a" stroke-width="0.4" stroke-linejoin="round" marker-start="url(#mxe)" marker-mid="url(#mxe)" marker-end="url(#mxe)"/>
<polyline clip-path="url(#ce)" points="36.6,591.0 36.9,591.6 37.2,592.5 37.5,593.1 37.8,593.1 38.1,593.5 38.4,594.6 38.8,595.2 39.1,595.2 39.4,597.3 39.7,601.0 40.0,603.1 40.3,605.2 40.6,605.1 40.9,605.5 41.2,605.1 41.5,604.1 41.8,603.9 42.1,603.5 42.5,603.4 42.8,602.9 43.1,604.2 43.4,605.8 43.7,607.2 44.0,608.0 44.3,609.9 44.6,611.2 44.9,612.5 45.2,614.5 45.5,614.6 45.8,612.5 46.1,612.6 46.5,613.4 46.8,613.5 47.1,613.5 47.4,614.3 47.7,614.9 48.0,615.0 48.3,615.1 48.6,615.2 48.9,616.2 49.2,616.1 49.5,615.7 49.8,615.6 50.2,615.4 50.5,615.2 50.8,614.8 51.1,614.8 51.4,615.2 51.7,615.2 52.0,614.7 52.3,614.6 52.6,613.6 52.9,613.5 53.2,613.9 53.5,613.0 53.8,613.2 54.2,613.8 54.5,614.9 54.8,615.5 55.1,619.2 55.4,619.8 55.7,620.1 56.0,620.7 56.3,622.5 56.6,621.9 56.9,622.9 57.2,625.5 57.5,628.3 57.9,630.9 58.2,633.1 58.5,635.7 58.8,638.9 59.1,639.2 59.4,638.5 59.7,639.2 60.0,639.9 60.3,640.2 60.6,641.9 60.9,642.2 61.2,642.2 61.5,641.9 61.9,640.7 62.2,640.5 62.5,641.0 62.8,639.2 63.1,638.4 63.4,638.1 63.7,637.9 64.0,637.6 64.3,637.6 64.6,638.1 64.9,637.7 65.2,638.2 65.6,639.1 65.9,641.2 66.2,641.6 66.5,642.1 66.8,642.8 67.1,643.3 67.4,643.3 67.7,643.8 68.0,645.0 68.3,645.5 68.6,647.0 68.9,645.7 69.2,645.1 69.6,645.2 69.9,645.9 70.2,646.0 70.5,645.7 70.8,645.8 71.1,645.9 71.4,645.9 71.7,646.7 72.0,648.3 72.3,648.6 72.6,648.7 72.9,648.5 73.3,648.6 73.6,646.5 73.9,646.6 74.2,648.3 74.5,648.4 74.8,646.9 75.1,646.8 75.4,648.3 75.7,648.4 76.0,647.9 76.3,648.0 76.6,647.8 76.9,647.9 77.3,647.4 77.6,647.5 77.9,648.0 78.2,649.2 78.5,649.9 78.8,650.0 79.1,649.9 79.4,650.0 79.7,648.8 80.0,648.8 80.3,648.5 80.6,648.6 81.0,649.1 81.3,649.8 81.6,650.1 81.9,650.1 82.2,650.3 82.5,650.4 82.8,648.6 83.1,648.7 83.4,649.9 83.7,650.0 84.0,649.9 84.3,650.5 84.6,650.5 85.0,650.9 85.3,650.8 85.6,651.2 85.9,652.6 86.2,653.0 86.5,652.0 86.8,652.4 87.1,652.7 87.4,653.6 87.7,653.9 88.0,653.7 88.3,654.6 88.7,654.5 89.0,654.0 89.3,653.8 89.6,653.4 89.9,653.2 90.2,652.9 90.5,652.2 90.8,652.8 91.1,652.6 91.4,652.0 91.7,651.8 92.0,650.6 92.3,649.3 92.7,648.6 93.0,647.2 93.3,645.8 93.6,645.6 93.9,644.4 94.2,643.0 94.5,642.2 94.8,640.8 95.1,638.3 95.4,638.5 95.7,638.7 96.0,638.9 96.4,638.7 96.7,637.0 97.0,637.9 97.3,638.2 97.6,638.7 97.9,638.9 98.2,641.7 98.5,642.1 98.8,642.6 99.1,642.9 99.4,642.5 99.7,643.5 100.0,644.4 100.4,644.7 100.7,645.5 101.0,645.8 101.3,644.7 101.6,645.1 101.9,645.7 102.2,646.0 102.5,646.2 102.8,645.9 103.1,645.6 103.4,645.3 103.7,644.8 104.1,644.5 104.4,645.0 104.7,644.7 105.0,643.7 105.3,643.5 105.6,643.5 105.9,645.4 106.2,645.2 106.5,644.9 106.8,644.8 107.1,644.5 107.4,644.2 107.7,644.3 108.1,644.1 108.4,644.1 108.7,644.3 109.0,641.7 109.3,641.5 109.6,641.6 109.9,641.3 110.2,641.4 110.5,644.7 110.8,644.8 111.1,643.5 111.4,643.6 111.8,644.1 112.1,642.1 112.4,643.4 112.7,643.7 113.0,643.4 113.3,643.7 113.6,643.3 113.9,643.6 114.2,643.3 114.5,643.5 114.8,644.8 115.1,649.1 115.4,648.1 115.8,648.3 116.1,649.9 116.4,650.2 116.7,646.6 117.0,646.5 117.3,646.5 117.6,646.5 117.9,646.7 118.2,647.1 118.5,647.0 118.8,646.9 119.1,646.5 119.5,646.5 119.8,646.6 120.1,646.5 120.4,646.6 120.7,646.5 121.0,646.6 121.3,645.8 121.6,647.1 121.9,647.6 122.2,646.9 122.5,647.4 122.8,647.3 123.1,647.8 123.5,648.4 123.8,648.9 124.1,649.6 124.4,649.5 124.7,650.7 125.0,651.2 125.3,651.3 125.6,651.7 125.9,651.5 126.2,652.0 126.5,652.4 126.8,652.9 127.2,653.1 127.5,655.0 127.8,655.1 128.1,655.6 128.4,656.8 128.7,657.3 129.0,659.3 129.3,659.8 129.6,660.0 129.9,660.5 130.2,661.7 130.5,659.6 130.8,658.7 131.2,659.0 131.5,659.2 131.8,659.4 132.1,659.8 132.4,660.1 132.7,660.5 133.0,660.7 133.3,661.6 133.6,661.6 133.9,661.6 134.2,661.9 134.5,662.5 134.9,662.7 135.2,663.4 135.5,663.4 135.8,662.5 136.1,662.5 136.4,664.0 136.7,663.5 137.0,662.7 137.3,662.7 137.6,662.4 137.9,662.4 138.2,662.5 138.5,662.5 138.9,661.0 139.2,661.0 139.5,662.3 139.8,664.3 140.1,664.0 140.4,664.0 140.7,663.7 141.0,663.7 141.3,664.0 141.6,663.8 141.9,663.6 142.2,663.4 142.6,663.6 142.9,661.4 143.2,661.4 143.5,661.1 143.8,661.7 144.1,661.4 144.4,662.0 144.7,661.8 145.0,660.7 145.3,660.5 145.6,661.2 145.9,659.5 146.2,659.1 146.6,659.3 146.9,659.5 147.2,659.8 147.5,661.9 147.8,662.1 148.1,662.7 148.4,663.0 148.7,663.2 149.0,663.4 149.3,663.4 149.6,663.6 149.9,664.7 150.3,664.9 150.6,662.9 150.9,663.5 151.2,665.2 151.5,665.8 151.8,666.2 152.1,666.7 152.4,667.3 152.7,667.8 153.0,668.2 153.3,668.8 153.6,670.1 153.9,670.6 154.3,670.8 154.6,671.4 154.9,672.4 155.2,670.7 155.5,669.8 155.8,669.5 156.1,670.2 156.4,670.0 156.7,671.2 157.0,671.0 157.3,670.7 157.6,670.4 158.0,670.5 158.3,669.2 158.6,668.3 158.9,667.6 159.2,667.8 159.5,667.2 159.8,666.9 160.1,666.3 160.4,665.9 160.7,665.2 161.0,664.9 161.3,664.0 161.6,663.6 162.0,662.9 162.3,661.7 162.6,661.0 162.9,661.3 163.2,661.1 163.5,659.9 163.8,659.7 164.1,659.4 164.4,658.4 164.7,657.4 165.0,657.2 165.3,658.2 165.7,657.9 166.0,657.0 166.3,656.7 166.6,656.9 166.9,656.6 167.2,657.5 167.5,657.2 167.8,656.8 168.1,656.5 168.4,655.9 168.7,655.7 169.0,654.8 169.3,654.7 169.7,654.4 170.0,654.3 170.3,655.0 170.6,654.0 170.9,653.6 171.2,653.4 171.5,653.4 171.8,653.3 172.1,654.5 172.4,654.4 172.7,652.5 173.0,652.4 173.4,652.1 173.7,653.3 174.0,654.9 174.3,654.8 174.6,654.1 174.9,653.9 175.2,652.9 175.5,653.1 175.8,653.3 176.1,653.6 176.4,653.3 176.7,653.2 177.0,653.4 177.4,653.6 177.7,654.7 178.0,655.0 178.3,654.4 178.6,654.6 178.9,655.5 179.2,655.7 179.5,655.8 179.8,656.2 180.1,656.3 180.4,656.6 180.7,656.8 181.1,657.1 181.4,658.8 181.7,659.1 182.0,658.2 182.3,658.6 182.6,659.7 182.9,660.0 183.2,660.4 183.5,660.8 183.8,660.7 184.1,661.0 184.4,661.7 184.7,662.0 185.1,661.9 185.4,662.2 185.7,663.8 186.0,663.8 186.3,663.7 186.6,664.0 186.9,663.7 187.2,664.0 187.5,665.9 187.8,666.2 188.1,666.5 188.4,666.8 188.8,667.3 189.1,667.5 189.4,663.8 189.7,660.6 190.0,657.2 190.3,654.0 190.6,651.2 190.9,651.0 191.2,650.1 191.5,649.9 191.8,650.1 192.1,649.5 192.4,650.1 192.8,649.9 193.1,649.8 193.4,649.6 193.7,649.5 194.0,649.3 194.3,648.7 194.6,648.5 194.9,649.3 195.2,649.0 195.5,649.8 195.8,650.0 196.1,648.8 196.5,649.0 196.8,649.5 197.1,649.8 197.4,650.7 197.7,650.9 198.0,650.5 198.3,649.5 198.6,649.3 198.9,649.5 199.2,651.2 199.5,651.4 199.8,653.8 200.1,653.4 200.5,653.0 200.8,652.6 201.1,651.5 201.4,649.2 201.7,649.7 202.0,649.3 202.3,648.7 202.6,648.3 202.9,647.7 203.2,647.3 203.5,647.0 203.8,646.6 204.2,646.2 204.5,645.1 204.8,646.3 205.1,646.6 205.4,646.2 205.7,646.4 206.0,647.0 206.3,647.2 206.6,646.8 206.9,647.0 207.2,647.4 207.5,650.7 207.8,650.9 208.2,651.1 208.5,651.8 208.8,652.0 209.1,648.2 209.4,648.3 209.7,648.2 210.0,648.3 210.3,648.7 210.6,649.1 210.9,649.0 211.2,649.0 211.5,649.7 211.9,649.8 212.2,649.2 212.5,649.3 212.8,649.6 213.1,649.7 213.4,649.0 213.7,649.8 214.0,649.3 214.3,649.2 214.6,649.3 214.9,649.2 215.2,650.2 215.5,650.1 215.9,648.9 216.2,648.8 216.5,648.9 216.8,649.2 217.1,649.2 217.4,649.1 217.7,648.8 218.0,648.8 218.3,647.5 218.6,648.3 218.9,648.6 219.2,649.4 219.6,650.2 219.9,653.8 220.2,654.2 220.5,655.0 220.8,656.4 221.1,655.7 221.4,654.4 221.7,653.7 222.0,652.0 222.3,651.4 222.6,651.9 222.9,652.0 223.2,649.2 223.6,647.4 223.9,646.4 224.2,644.6 224.5,640.9 224.8,639.1 225.1,636.4 225.4,634.6 225.7,633.6 226.0,632.4 226.3,630.7 226.6,629.9 226.9,629.2 227.3,628.4 227.6,626.6 227.9,625.8 228.2,624.5 228.5,623.6 228.8,622.9 229.1,623.4 229.4,623.0 229.7,622.4 230.0,622.1 230.3,621.4 230.6,620.4 230.9,619.8 231.3,619.7 231.6,619.0 231.9,618.2 232.2,617.6 232.5,616.7 232.8,616.1 233.1,615.7 233.4,615.0 233.7,614.8 234.0,614.5 234.3,614.3 234.6,614.0 235.0,613.8 235.3,614.8 235.6,614.6 235.9,614.3 236.2,613.5 236.5,613.3 236.8,612.0" fill="none" stroke="#0000ff" stroke-width="1.0" stroke-linejoin="round" marker-start="url(#mte)" marker-mid="url(#mte)" marker-end="url(#mte)"/>
<polyline clip-path="url(#ce)" points="36.6,547.6 36.9,548.0 37.2,546.3 37.5,546.3 37.8,546.3 38.1,547.6 38.4,547.9 38.8,547.7 39.1,545.8 39.4,546.2 39.7,546.0 40.0,545.8 40.3,544.6 40.6,545.2 40.9,544.8 41.2,545.4 41.5,546.7 41.8,548.3 42.1,551.6 42.5,554.0 42.8,554.8 43.1,556.1 43.4,559.5 43.7,560.2 44.0,560.9 44.3,561.2 44.6,560.4 44.9,560.6 45.2,557.1 45.5,554.9 45.8,551.0 46.1,548.9 46.5,547.4 46.8,545.5 47.1,544.8 47.4,542.2 47.7,543.3 48.0,542.8 48.3,540.3 48.6,540.6 48.9,539.7 49.2,539.5 49.5,538.4 49.8,538.8 50.2,539.1 50.5,539.3 50.8,539.2 51.1,538.3 51.4,536.8 51.7,535.7 52.0,537.0 52.3,537.7 52.6,536.5 52.9,536.2 53.2,536.6 53.5,536.0 53.8,539.5 54.2,539.2 54.5,540.8 54.8,539.9 55.1,540.7 55.4,540.7 55.7,538.8 56.0,539.8 56.3,541.6 56.6,541.8 56.9,539.9 57.2,540.7 57.5,542.7 57.9,542.1 58.2,544.5 58.5,544.3 58.8,543.3 59.1,544.4 59.4,543.6 59.7,544.6 60.0,543.6 60.3,544.2 60.6,544.2 60.9,544.8 61.2,546.7 61.5,547.2 61.9,546.8 62.2,547.0 62.5,548.3 62.8,548.5 63.1,548.4 63.4,548.7 63.7,550.4 64.0,551.4 64.3,550.6 64.6,551.1 64.9,552.2 65.2,552.0 65.6,550.6 65.9,550.5 66.2,548.7 66.5,548.3 66.8,548.0 67.1,548.2 67.4,548.9 67.7,549.3 68.0,548.5 68.3,548.5 68.6,549.6 68.9,549.8 69.2,548.2 69.6,548.1 69.9,550.7 70.2,550.7 70.5,550.7 70.8,551.1 71.1,553.2 71.4,553.6 71.7,552.2 72.0,553.3 72.3,551.0 72.6,552.3 72.9,552.6 73.3,554.6 73.6,557.0 73.9,558.2 74.2,557.0 74.5,557.8 74.8,556.4 75.1,557.5 75.4,555.5 75.7,556.7 76.0,555.5 76.3,556.1 76.6,554.6 76.9,554.1 77.3,557.6 77.6,557.0 77.9,556.2 78.2,556.1 78.5,556.1 78.8,555.8 79.1,555.7 79.4,556.0 79.7,556.6 80.0,557.9 80.3,557.6 80.6,558.2 81.0,558.8 81.3,558.7 81.6,560.5 81.9,559.6 82.2,560.7 82.5,561.5 82.8,561.6 83.1,561.7 83.4,560.8 83.7,561.4 84.0,560.9 84.3,561.9 84.6,564.1 85.0,563.3 85.3,564.6 85.6,564.9 85.9,565.9 86.2,566.6 86.5,566.9 86.8,566.2 87.1,566.7 87.4,566.3 87.7,567.3 88.0,568.6 88.3,569.8 88.7,570.2 89.0,568.9 89.3,570.2 89.6,569.0 89.9,570.1 90.2,569.8 90.5,569.3 90.8,571.2 91.1,572.5 91.4,572.4 91.7,572.1 92.0,573.4 92.3,573.8 92.7,574.2 93.0,573.9 93.3,575.5 93.6,573.7 93.9,573.6 94.2,573.5 94.5,572.5 94.8,572.5 95.1,572.1 95.4,572.6 95.7,571.6 96.0,572.6 96.4,572.5 96.7,572.4 97.0,568.4 97.3,567.9 97.6,569.4 97.9,568.6 98.2,570.9 98.5,570.8 98.8,571.0 99.1,570.4 99.4,566.6 99.7,566.4 100.0,565.4 100.4,565.5 100.7,568.5 101.0,567.7 101.3,566.7 101.6,565.8 101.9,564.4 102.2,563.9 102.5,563.3 102.8,562.6 103.1,558.9 103.4,557.6 103.7,556.9 104.1,556.7 104.4,554.0 104.7,552.5 105.0,552.2 105.3,550.8 105.6,551.6 105.9,550.5 106.2,551.6 106.5,552.5 106.8,550.2 107.1,551.9 107.4,552.2 107.7,551.7 108.1,554.1 108.4,554.6 108.7,555.5 109.0,555.9 109.3,556.9 109.6,556.1 109.9,556.7 110.2,558.0 110.5,558.6 110.8,558.2 111.1,557.4 111.4,557.3 111.8,556.5 112.1,557.4 112.4,557.2 112.7,557.3 113.0,559.5 113.3,559.5 113.6,562.3 113.9,562.2 114.2,564.2 114.5,564.6 114.8,566.0 115.1,565.5 115.4,566.7 115.8,566.1 116.1,566.9 116.4,567.6 116.7,564.6 117.0,565.9 117.3,564.4 117.6,565.4 117.9,565.9 118.2,567.0 118.5,566.6 118.8,566.4 119.1,567.9 119.5,568.4 119.8,568.4 120.1,568.5 120.4,569.6 120.7,571.3 121.0,569.9 121.3,570.3 121.6,570.8 121.9,570.4 122.2,569.6 122.5,569.0 122.8,568.9 123.1,568.4 123.5,567.3 123.8,567.7 124.1,566.9 124.4,567.2 124.7,566.6 125.0,566.8 125.3,568.6 125.6,566.5 125.9,567.9 126.2,566.7 126.5,565.9 126.8,565.3 127.2,565.8 127.5,564.8 127.8,562.7 128.1,563.5 128.4,563.6 128.7,562.1 129.0,563.0 129.3,563.3 129.6,562.8 129.9,562.2 130.2,563.2 130.5,564.6 130.8,562.2 131.2,561.5 131.5,561.1 131.8,560.5 132.1,560.9 132.4,560.6 132.7,556.9 133.0,557.0 133.3,557.4 133.6,556.6 133.9,558.5 134.2,558.9 134.5,558.8 134.9,557.5 135.2,553.6 135.5,553.9 135.8,553.5 136.1,554.2 136.4,554.8 136.7,555.1 137.0,554.1 137.3,554.7 137.6,556.5 137.9,556.8 138.2,557.1 138.5,556.4 138.9,559.3 139.2,559.0 139.5,558.4 139.8,558.4 140.1,558.4 140.4,558.0 140.7,558.6 141.0,558.2 141.3,558.6 141.6,557.3 141.9,556.1 142.2,555.3 142.6,556.1 142.9,555.5 143.2,554.8 143.5,555.7 143.8,553.2 144.1,552.9 144.4,554.9 144.7,554.8 145.0,555.5 145.3,555.0 145.6,554.5 145.9,554.3 146.2,553.3 146.6,552.5 146.9,553.7 147.2,553.2 147.5,550.5 147.8,552.0 148.1,550.7 148.4,551.6 148.7,554.7 149.0,552.9 149.3,554.3 149.6,554.8 149.9,555.1 150.3,555.5 150.6,555.7 150.9,556.1 151.2,553.8 151.5,553.5 151.8,554.5 152.1,554.8 152.4,556.1 152.7,554.7 153.0,553.7 153.3,552.8 153.6,552.9 153.9,552.5 154.3,551.5 154.6,551.2 154.9,546.6 155.2,545.2 155.5,544.2 155.8,543.2 156.1,545.1 156.4,544.7 156.7,545.1 157.0,544.8 157.3,546.0 157.6,545.5 158.0,547.1 158.3,547.7 158.6,547.0 158.9,546.3 159.2,547.2 159.5,547.3 159.8,549.6 160.1,549.1 160.4,549.0 160.7,549.1 161.0,550.4 161.3,551.1 161.6,553.6 162.0,553.5 162.3,553.1 162.6,553.3 162.9,551.4 163.2,552.0 163.5,553.9 163.8,554.0 164.1,555.0 164.4,555.6 164.7,554.9 165.0,554.6 165.3,552.8 165.7,551.9 166.0,553.5 166.3,552.7 166.6,550.5 166.9,548.9 167.2,551.0 167.5,549.9 167.8,551.0 168.1,550.8 168.4,550.5 168.7,550.5 169.0,550.3 169.3,549.6 169.7,549.9 170.0,550.7 170.3,550.4 170.6,550.1 170.9,551.3 171.2,551.3 171.5,552.4 171.8,553.0 172.1,554.3 172.4,554.4 172.7,555.0 173.0,554.9 173.4,557.4 173.7,557.2 174.0,556.7 174.3,556.7 174.6,553.8 174.9,553.4 175.2,555.1 175.5,554.8 175.8,551.7 176.1,550.9 176.4,550.2 176.7,549.6 177.0,553.2 177.4,552.4 177.7,551.9 178.0,551.1 178.3,546.0 178.6,546.7 178.9,546.1 179.2,545.8 179.5,551.0 179.8,550.2 180.1,549.5 180.4,549.6 180.7,550.2 181.1,550.3 181.4,551.5 181.7,552.4 182.0,550.2 182.3,549.9 182.6,551.8 182.9,551.5 183.2,549.2 183.5,549.7 183.8,550.6 184.1,550.7 184.4,551.4 184.7,552.3 185.1,552.8 185.4,552.0 185.7,550.5 186.0,551.4 186.3,552.6 186.6,552.2 186.9,552.8 187.2,553.3 187.5,552.8 187.8,552.8 188.1,553.9 188.4,553.6 188.8,553.8 189.1,553.5 189.4,553.5 189.7,553.7 190.0,554.2 190.3,554.0 190.6,552.2 190.9,552.3 191.2,553.7 191.5,553.6 191.8,553.6 192.1,554.2 192.4,554.0 192.8,554.1 193.1,558.1 193.4,556.3 193.7,559.0 194.0,558.7 194.3,556.3 194.6,556.5 194.9,556.1 195.2,555.7 195.5,555.7 195.8,556.2 196.1,556.1 196.5,555.6 196.8,557.2 197.1,556.7 197.4,556.4 197.7,556.7 198.0,555.4 198.3,555.6 198.6,557.5 198.9,557.9 199.2,558.6 199.5,558.3 199.8,558.8 200.1,558.9 200.5,559.0 200.8,560.7 201.1,560.1 201.4,560.3 201.7,560.2 202.0,559.3 202.3,558.7 202.6,557.2 202.9,557.1 203.2,556.0 203.5,555.0 203.8,554.1 204.2,550.2 204.5,548.5 204.8,550.1 205.1,550.7 205.4,553.4 205.7,554.2 206.0,556.9 206.3,558.2 206.6,556.5 206.9,557.4 207.2,558.4 207.5,559.8 207.8,561.7 208.2,561.1 208.5,557.7 208.8,557.1 209.1,555.1 209.4,554.6 209.7,552.6 210.0,552.6 210.3,554.4 210.6,552.3 210.9,549.9 211.2,550.1 211.5,548.0 211.9,547.8 212.2,546.8 212.5,546.0 212.8,544.0 213.1,542.9 213.4,542.8 213.7,540.9 214.0,540.7 214.3,540.0 214.6,541.0 214.9,540.4 215.2,539.6 215.5,539.8 215.9,539.0 216.2,538.4 216.5,538.4 216.8,537.4 217.1,537.9 217.4,536.7 217.7,535.7 218.0,536.8 218.3,534.1 218.6,535.2 218.9,540.7 219.2,540.8 219.6,542.2 219.9,541.7 220.2,540.2 220.5,541.3 220.8,540.5 221.1,540.9 221.4,542.8 221.7,542.8 222.0,542.8 222.3,542.9 222.6,541.3 222.9,541.0 223.2,542.2 223.6,542.4 223.9,544.0 224.2,544.7 224.5,543.3 224.8,544.5 225.1,545.1 225.4,547.2 225.7,547.8 226.0,549.4 226.3,548.5 226.6,550.8 226.9,552.3 227.3,554.6 227.6,552.4 227.9,554.2 228.2,555.2 228.5,555.5 228.8,558.0 229.1,560.1 229.4,561.9 229.7,564.1 230.0,565.3 230.3,567.1 230.6,567.9 230.9,568.8 231.3,568.2 231.6,566.8 231.9,566.8 232.2,567.0 232.5,566.6 232.8,565.1 233.1,564.1 233.4,563.4 233.7,564.5 234.0,564.1 234.3,564.5 234.6,563.9 235.0,563.1 235.3,563.1 235.6,564.5 235.9,563.0 236.2,566.3 236.5,567.2 236.8,566.7" fill="none" stroke="#00f5f5" stroke-width="0.8" stroke-linejoin="round" marker-start="url(#mce)" marker-mid="url(#mce)" marker-end="url(#mce)"/>
<polyline clip-path="url(#ce)" points="36.6,590.8 36.9,591.2 37.2,593.1 37.5,593.4 37.8,592.3 38.1,593.0 38.4,594.4 38.8,595.2 39.1,594.9 39.4,597.0 39.7,600.6 40.0,603.5 40.3,605.2 40.6,604.9 40.9,605.4 41.2,605.5 41.5,604.2 41.8,604.3 42.1,603.7 42.5,603.3 42.8,602.7 43.1,604.0 43.4,605.4 43.7,607.1 44.0,608.4 44.3,609.8 44.6,611.3 44.9,613.1 45.2,614.7 45.5,614.4 45.8,612.1 46.1,612.6 46.5,613.9 46.8,613.5 47.1,613.8 47.4,613.8 47.7,615.3 48.0,614.7 48.3,615.2 48.6,615.1 48.9,616.5 49.2,616.0 49.5,615.7 49.8,615.7 50.2,615.8 50.5,615.4 50.8,615.5 51.1,614.6 51.4,615.3 51.7,614.6 52.0,615.3 52.3,614.1 52.6,613.4 52.9,613.7 53.2,613.8 53.5,613.5 53.8,613.7 54.2,613.4 54.5,615.6 54.8,615.4 55.1,618.7 55.4,619.7 55.7,619.6 56.0,620.8 56.3,622.7 56.6,621.5 56.9,622.5 57.2,625.5 57.5,627.8 57.9,631.3 58.2,632.7 58.5,635.8 58.8,638.8 59.1,639.2 59.4,638.4 59.7,639.0 60.0,639.3 60.3,639.6 60.6,641.8 60.9,642.1 61.2,642.5 61.5,641.3 61.9,640.4 62.2,640.7 62.5,641.0 62.8,638.6 63.1,638.6 63.4,638.0 63.7,637.9 64.0,637.7 64.3,637.6 64.6,638.8 64.9,637.3 65.2,638.4 65.6,639.1 65.9,641.7 66.2,640.8 66.5,641.9 66.8,643.5 67.1,643.5 67.4,643.4 67.7,644.1 68.0,645.5 68.3,646.0 68.6,647.3 68.9,645.6 69.2,645.0 69.6,644.7 69.9,646.0 70.2,646.8 70.5,645.8 70.8,645.4 71.1,646.3 71.4,645.9 71.7,646.5 72.0,648.7 72.3,648.7 72.6,649.1 72.9,648.0 73.3,648.3 73.6,646.5 73.9,646.3 74.2,648.1 74.5,648.8 74.8,647.4 75.1,647.4 75.4,648.7 75.7,648.1 76.0,647.5 76.3,647.4 76.6,648.3 76.9,647.9 77.3,646.9 77.6,646.9 77.9,648.1 78.2,649.4 78.5,650.0 78.8,649.8 79.1,649.6 79.4,649.6 79.7,648.9 80.0,648.3 80.3,648.9 80.6,648.4 81.0,648.6 81.3,649.4 81.6,649.9 81.9,650.3 82.2,650.3 82.5,650.6 82.8,648.8 83.1,649.0 83.4,649.5 83.7,650.4 84.0,650.1 84.3,650.0 84.6,650.4 85.0,650.2 85.3,650.2 85.6,651.0 85.9,652.2 86.2,653.4 86.5,651.9 86.8,651.7 87.1,652.5 87.4,653.5 87.7,652.9 88.0,653.4 88.3,655.1 88.7,654.0 89.0,654.9 89.3,653.6 89.6,653.2 89.9,653.4 90.2,653.1 90.5,652.4 90.8,651.8 91.1,653.0 91.4,652.3 91.7,651.9 92.0,650.7 92.3,648.6 92.7,648.4 93.0,647.2 93.3,645.5 93.6,645.5 93.9,644.4 94.2,643.1 94.5,642.2 94.8,640.9 95.1,638.4 95.4,638.5 95.7,638.2 96.0,639.4 96.4,638.5 96.7,636.7 97.0,637.9 97.3,638.2 97.6,638.2 97.9,639.0 98.2,641.5 98.5,641.8 98.8,642.5 99.1,642.8 99.4,642.2 99.7,642.9 100.0,644.7 100.4,644.3 100.7,645.7 101.0,646.1 101.3,644.6 101.6,645.0 101.9,646.3 102.2,645.4 102.5,646.4 102.8,645.6 103.1,645.4 103.4,645.1 103.7,644.7 104.1,644.4 104.4,644.9 104.7,644.8 105.0,643.3 105.3,643.4 105.6,643.3 105.9,645.6 106.2,645.4 106.5,644.8 106.8,645.3 107.1,644.0 107.4,644.3 107.7,644.4 108.1,644.2 108.4,644.1 108.7,644.1 109.0,641.4 109.3,641.7 109.6,641.9 109.9,641.3 110.2,641.4 110.5,645.0 110.8,644.3 111.1,643.8 111.4,643.8 111.8,643.7 112.1,642.2 112.4,643.5 112.7,644.0 113.0,643.9 113.3,643.9 113.6,643.9 113.9,643.3 114.2,643.1 114.5,642.8 114.8,644.8 115.1,649.3 115.4,647.7 115.8,648.5 116.1,649.5 116.4,650.3 116.7,647.2 117.0,646.6 117.3,646.6 117.6,646.3 117.9,646.8 118.2,647.0 118.5,646.9 118.8,647.2 119.1,646.9 119.5,646.7 119.8,647.2 120.1,646.5 120.4,646.3 120.7,646.6 121.0,646.8 121.3,646.2 121.6,646.8 121.9,647.2 122.2,647.7 122.5,646.7 122.8,646.7 123.1,648.0 123.5,648.4 123.8,648.8 124.1,649.4 124.4,649.6 124.7,650.6 125.0,651.0 125.3,650.4 125.6,651.8 125.9,651.7 126.2,651.6 126.5,652.4 126.8,652.8 127.2,653.0 127.5,655.2 127.8,655.3 128.1,655.8 128.4,657.1 128.7,657.4 129.0,658.7 129.3,659.8 129.6,660.3 129.9,660.8 130.2,661.2 130.5,659.8 130.8,658.7 131.2,659.6 131.5,659.9 131.8,659.3 132.1,660.4 132.4,660.0 132.7,660.2 133.0,661.0 133.3,661.8 133.6,661.7 133.9,661.9 134.2,662.0 134.5,662.6 134.9,662.8 135.2,663.3 135.5,663.2 135.8,662.3 136.1,662.4 136.4,664.3 136.7,663.3 137.0,662.4 137.3,662.7 137.6,662.5 137.9,661.6 138.2,663.3 138.5,662.3 138.9,660.9 139.2,660.4 139.5,661.7 139.8,664.0 140.1,664.2 140.4,663.8 140.7,664.1 141.0,663.7 141.3,664.3 141.6,663.6 141.9,664.2 142.2,663.5 142.6,663.5 142.9,661.5 143.2,661.5 143.5,661.4 143.8,661.8 144.1,660.9 144.4,662.2 144.7,662.2 145.0,661.0 145.3,660.6 145.6,660.9 145.9,659.6 146.2,658.8 146.6,658.8 146.9,659.8 147.2,659.7 147.5,662.0 147.8,661.8 148.1,662.4 148.4,662.8 148.7,663.6 149.0,663.5 149.3,663.4 149.6,663.6 149.9,664.9 150.3,664.8 150.6,662.8 150.9,663.4 151.2,665.5 151.5,665.9 151.8,666.6 152.1,666.9 152.4,667.0 152.7,667.9 153.0,668.3 153.3,668.4 153.6,670.3 153.9,670.6 154.3,671.3 154.6,671.1 154.9,672.5 155.2,670.4 155.5,669.5 155.8,669.6 156.1,670.0 156.4,670.5 156.7,671.4 157.0,671.6 157.3,670.3 157.6,670.2 158.0,670.0 158.3,668.7 158.6,667.7 158.9,667.7 159.2,668.3 159.5,667.3 159.8,666.2 160.1,666.1 160.4,665.5 160.7,665.0 161.0,664.7 161.3,664.1 161.6,663.9 162.0,662.6 162.3,662.0 162.6,660.5 162.9,661.1 163.2,660.8 163.5,659.9 163.8,660.3 164.1,659.7 164.4,658.1 164.7,657.8 165.0,657.6 165.3,657.6 165.7,658.7 166.0,657.0 166.3,656.6 166.6,656.2 166.9,656.2 167.2,657.3 167.5,657.8 167.8,656.9 168.1,657.1 168.4,655.8 168.7,656.2 169.0,654.4 169.3,654.4 169.7,654.6 170.0,654.1 170.3,654.9 170.6,654.0 170.9,653.5 171.2,653.2 171.5,653.4 171.8,653.4 172.1,654.4 172.4,654.6 172.7,652.1 173.0,652.1 173.4,652.8 173.7,653.4 174.0,655.0 174.3,654.8 174.6,653.9 174.9,653.5 175.2,652.3 175.5,653.8 175.8,653.0 176.1,654.2 176.4,652.9 176.7,653.1 177.0,653.7 177.4,653.8 177.7,654.9 178.0,654.5 178.3,654.5 178.6,654.7 178.9,655.3 179.2,655.1 179.5,656.0 179.8,656.1 180.1,656.6 180.4,656.3 180.7,657.2 181.1,657.0 181.4,658.7 181.7,659.3 182.0,657.8 182.3,657.9 182.6,659.7 182.9,659.9 183.2,660.4 183.5,660.3 183.8,660.4 184.1,661.0 184.4,661.7 184.7,662.2 185.1,661.9 185.4,662.2 185.7,663.2 186.0,663.4 186.3,664.5 186.6,664.2 186.9,663.3 187.2,663.6 187.5,666.5 187.8,666.3 188.1,665.9 188.4,667.1 188.8,667.4 189.1,667.5 189.4,664.1 189.7,660.3 190.0,657.1 190.3,654.0 190.6,651.4 190.9,650.6 191.2,650.2 191.5,650.2 191.8,650.1 192.1,649.9 192.4,650.3 192.8,649.1 193.1,650.1 193.4,650.0 193.7,649.5 194.0,649.2 194.3,648.5 194.6,648.4 194.9,649.9 195.2,649.1 195.5,650.6 195.8,649.8 196.1,648.6 196.5,648.7 196.8,650.1 197.1,650.5 197.4,650.7 197.7,651.3 198.0,650.9 198.3,649.8 198.6,649.8 198.9,650.2 199.2,651.1 199.5,651.3 199.8,653.6 200.1,653.3 200.5,653.0 200.8,652.5 201.1,651.6 201.4,649.2 201.7,649.8 202.0,650.1 202.3,648.5 202.6,647.7 202.9,647.2 203.2,647.4 203.5,646.9 203.8,646.6 204.2,645.6 204.5,644.6 204.8,646.6 205.1,646.9 205.4,646.3 205.7,646.6 206.0,646.5 206.3,647.9 206.6,647.2 206.9,647.5 207.2,647.7 207.5,650.5 207.8,651.2 208.2,650.8 208.5,651.2 208.8,652.0 209.1,647.8 209.4,648.3 209.7,648.1 210.0,648.4 210.3,648.3 210.6,649.0 210.9,648.7 211.2,648.7 211.5,649.4 211.9,650.2 212.2,649.1 212.5,649.5 212.8,649.7 213.1,649.7 213.4,648.8 213.7,649.9 214.0,649.4 214.3,648.7 214.6,649.2 214.9,650.0 215.2,650.1 215.5,650.3 215.9,648.7 216.2,648.5 216.5,648.3 216.8,649.3 217.1,648.9 217.4,649.2 217.7,649.1 218.0,649.3 218.3,647.4 218.6,647.8 218.9,648.7 219.2,649.0 219.6,650.2 219.9,653.5 220.2,654.3 220.5,654.8 220.8,656.7 221.1,655.4 221.4,653.7 221.7,653.3 222.0,652.2 222.3,652.0 222.6,651.8 222.9,652.4 223.2,649.2 223.6,647.0 223.9,647.2 224.2,644.7 224.5,640.9 224.8,638.8 225.1,636.2 225.4,633.9 225.7,633.5 226.0,632.1 226.3,631.4 226.6,629.9 226.9,629.4 227.3,628.4 227.6,626.2 227.9,626.2 228.2,625.4 228.5,623.0 228.8,622.9 229.1,623.6 229.4,622.5 229.7,622.1 230.0,622.0 230.3,621.3 230.6,620.1 230.9,620.1 231.3,619.6 231.6,618.3 231.9,618.0 232.2,617.5 232.5,616.0 232.8,616.0 233.1,615.1 233.4,614.9 233.7,614.8 234.0,614.3 234.3,614.1 234.6,614.5 235.0,613.0 235.3,614.6 235.6,613.8 235.9,614.6 236.2,613.6 236.5,613.7 236.8,612.0" fill="none" stroke="#00fa00" stroke-width="0.8" stroke-linejoin="round" marker-start="url(#mge)" marker-mid="url(#mge)" marker-end="url(#mge)"/>
<rect x="36.6" y="517.3" width="215.6" height="169.6" fill="none" stroke="#858585" stroke-width="1"/>
<path d="M36.6 686.9v-2.2M36.6 517.3v2.2M67.4 686.9v-2.2M67.4 517.3v2.2M98.2 686.9v-2.2M98.2 517.3v2.2M129.0 686.9v-2.2M129.0 517.3v2.2M159.8 686.9v-2.2M159.8 517.3v2.2M190.6 686.9v-2.2M190.6 517.3v2.2M221.4 686.9v-2.2M221.4 517.3v2.2M252.2 686.9v-2.2M252.2 517.3v2.2M36.6 686.9h2.2M252.2 686.9h-2.2M36.6 662.7h2.2M252.2 662.7h-2.2M36.6 638.4h2.2M252.2 638.4h-2.2M36.6 614.2h2.2M252.2 614.2h-2.2M36.6 590.0h2.2M252.2 590.0h-2.2M36.6 565.8h2.2M252.2 565.8h-2.2M36.6 541.5h2.2M252.2 541.5h-2.2M36.6 517.3h2.2M252.2 517.3h-2.2" stroke="#858585" stroke-width="0.8" fill="none"/>
<g font-size="6.6" fill="#3a3a3a">
<text x="36.6" y="696.7" text-anchor="middle">0</text>
<text x="67.4" y="696.7" text-anchor="middle">100</text>
<text x="98.2" y="696.7" text-anchor="middle">200</text>
<text x="129.0" y="696.7" text-anchor="middle">300</text>
<text x="159.8" y="696.7" text-anchor="middle">400</text>
<text x="190.6" y="696.7" text-anchor="middle">500</text>
<text x="221.4" y="696.7" text-anchor="middle">600</text>
<text x="252.2" y="696.7" text-anchor="middle">700</text>
<text x="33.6" y="689.7" text-anchor="end">600</text>
<text x="33.6" y="665.5" text-anchor="end">800</text>
<text x="33.6" y="641.2" text-anchor="end">1000</text>
<text x="33.6" y="617.0" text-anchor="end">1200</text>
<text x="33.6" y="592.8" text-anchor="end">1400</text>
<text x="33.6" y="568.6" text-anchor="end">1600</text>
<text x="33.6" y="544.3" text-anchor="end">1800</text>
<text x="33.6" y="520.1" text-anchor="end">2000</text>
</g>
<text x="144.0" y="706.7" text-anchor="middle" font-size="7.33" fill="#3a3a3a">frame number</text>
<text transform="translate(14.6 601.6) rotate(-90)" text-anchor="middle" font-size="7.33" fill="#3a3a3a">x-coordinate or y-coordinate (pixel)</text>
<rect x="168.8" y="581.3" width="53.2" height="34.0" fill="#fff" stroke="#4a4a4a" stroke-width="0.9"/>
<polyline points="170.9,586.5 180.6,586.5 190.2,586.5" fill="none" stroke="#ff3030" stroke-width="1.4" marker-mid="url(#mxL)"/>
<text x="192.3" y="588.6" font-size="6.1" fill="#2a2a2a">Prposed x</text>
<polyline points="170.9,594.5 180.6,594.5 190.2,594.5" fill="none" stroke="#2020ff" stroke-width="0.7" marker-mid="url(#mtL)"/>
<text x="192.3" y="596.6" font-size="6.1" fill="#2a2a2a">Prposed y</text>
<polyline points="170.9,602.9 180.6,602.9 190.2,602.9" fill="none" stroke="#30f0f0" stroke-width="0.8" marker-mid="url(#mcL)"/>
<text x="192.3" y="605.0" font-size="6.1" fill="#2a2a2a">YOLO x</text>
<polyline points="170.9,611.3 180.6,611.3 190.2,611.3" fill="none" stroke="#10f010" stroke-width="1.5" marker-mid="url(#mgL)"/>
<text x="192.3" y="613.4" font-size="6.1" fill="#2a2a2a">YOLO y</text>
<text x="138.8" y="732.1" text-anchor="middle" font-family="'Liberation Serif', serif" font-weight="bold" font-size="13.2" fill="#111">e</text>
<!-- f -->
<polyline clip-path="url(#cf)" points="319.1,538.2 319.3,552.9 319.5,538.2 319.6,552.9 319.8,538.2 320.0,552.9 320.2,538.2 320.4,552.9 320.5,538.2 320.7,552.9 320.9,538.2 321.1,552.9 321.3,538.2 321.4,552.9 321.6,538.2 321.8,552.9 322.0,538.2 322.2,552.9 322.3,538.2 322.5,552.9 322.7,538.2 322.9,552.9 323.1,538.2 323.2,552.9 323.4,538.2 323.6,552.9 323.8,538.2 323.9,552.9 324.1,538.2 324.3,552.9 324.5,538.2 324.7,552.9 324.8,538.2 325.0,552.9 325.2,538.2 325.4,552.9 325.6,538.2 325.7,552.9 325.9,538.2 326.1,552.9 326.3,538.2 326.5,552.9 326.6,538.2 326.8,552.9 327.0,538.2 327.2,552.9 327.4,538.2 327.5,552.9 327.7,538.2 327.9,552.9 328.1,538.2 328.3,552.9 328.4,538.2 328.6,552.9 328.8,538.2 329.0,552.9 329.2,538.2 329.3,552.9 329.5,538.2 329.7,552.9 329.9,538.2 330.1,552.9 330.2,538.2 330.4,552.9 330.6,538.2 330.8,552.9 331.0,538.2 331.1,552.9 331.3,538.2 331.5,552.9 331.7,538.2 331.9,552.9 332.0,538.2 332.2,552.9 332.4,538.2 332.6,552.9 332.7,538.2 332.9,552.9 333.1,538.2 333.3,552.9 333.5,538.2 333.6,552.9 333.8,538.2 334.0,552.9 334.2,538.2 334.4,552.9 334.5,538.2 334.7,552.9 334.9,538.2 335.1,552.9 335.3,538.2 335.4,552.9 335.6,538.2 335.8,552.9 336.0,538.2 336.2,552.9 336.3,538.2 336.5,552.9 336.7,538.2 336.9,552.9 337.1,538.2 337.2,552.9 337.4,538.2 337.6,552.9 337.8,538.2 338.0,552.9 338.1,538.2 338.3,552.9 338.5,538.2 338.7,552.9 338.9,538.2 339.0,552.9 339.2,538.2 339.4,552.9 339.6,538.2 339.8,552.9 339.9,538.2 340.1,552.9 340.3,538.2 340.5,552.9 340.7,538.2 340.8,552.9 341.0,538.2 341.2,552.9 341.4,538.2 341.5,552.9 341.7,538.2 341.9,552.9 342.1,538.2 342.3,552.9 342.4,538.2 342.6,552.9 342.8,538.2 343.0,552.9 343.2,538.2 343.3,552.9 343.5,538.2 343.7,552.9 343.9,538.2 344.1,552.9 344.2,538.2 344.4,552.9 344.6,538.2 344.8,552.9 345.0,538.2 345.1,552.9 345.3,538.2 345.5,552.9 345.7,538.2 345.9,552.9 346.0,538.2 346.2,552.9 346.4,538.2 346.6,552.9 346.8,538.2 346.9,552.9 347.1,538.2 347.3,552.9 347.5,538.2 347.7,552.9 347.8,538.2 348.0,552.9 348.2,538.2 348.4,552.9 348.6,538.2 348.7,552.9 348.9,538.2 349.1,552.9 349.3,538.2 349.4,552.9 349.6,538.2 349.8,552.9 350.0,538.2 350.2,552.9 350.3,538.2 350.5,552.9 350.7,538.2 350.9,552.9 351.1,538.2 351.2,552.9 351.4,538.2 351.6,552.9 351.8,538.2 352.0,552.9 352.1,538.2 352.3,552.9 352.5,538.2 352.7,552.9 352.9,538.2 353.0,552.9 353.2,538.2 353.4,552.9 353.6,538.2 353.8,552.9 353.9,538.2 354.1,552.9 354.3,538.2 354.5,552.9 354.7,538.2 354.8,552.9 355.0,538.2 355.2,552.9 355.4,538.2 355.6,552.9 355.7,538.2 355.9,552.9 356.1,538.2 356.3,552.9 356.5,538.2 356.6,552.9 356.8,538.2 357.0,552.9 357.2,538.2 357.4,552.9 357.5,538.2 357.7,552.9 357.9,538.2 358.1,552.9 358.2,538.2 358.4,552.9 358.6,538.2 358.8,552.9 359.0,538.2 359.1,552.9 359.3,538.2 359.5,552.9 359.7,538.2 359.9,552.9 360.0,538.2 360.2,552.9 360.4,538.2 360.6,552.9 360.8,538.2 360.9,552.9 361.1,538.2 361.3,552.9 361.5,538.2 361.7,552.9 361.8,538.2 362.0,552.9 362.2,538.2 362.4,552.9 362.6,538.2 362.7,552.9 362.9,538.2 363.1,552.9 363.3,538.2 363.5,552.9 363.6,538.2 363.8,552.9 364.0,538.2 364.2,552.9 364.4,538.2 364.5,552.9 364.7,538.2 364.9,552.9 365.1,538.2 365.3,552.9 365.4,538.2 365.6,552.9 365.8,538.2 366.0,552.9 366.2,538.2 366.3,552.9 366.5,538.2 366.7,552.9 366.9,538.2 367.0,552.9 367.2,538.2 367.4,552.9 367.6,538.2 367.8,552.9 367.9,538.2 368.1,552.9 368.3,538.2 368.5,552.9 368.7,538.2 368.8,552.9 369.0,538.2 369.2,552.9 369.4,538.2 369.6,552.9 369.7,538.2 369.9,552.9 370.1,538.2 370.3,552.9 370.5,538.2 370.6,552.9 370.8,538.2 371.0,552.9 371.2,538.2 371.4,552.9 371.5,538.2 371.7,552.9 371.9,538.2 372.1,552.9 372.3,538.2 372.4,552.9 372.6,538.2 372.8,552.9 373.0,538.2 373.2,552.9 373.3,538.2 373.5,567.0 373.7,552.9 373.9,552.9 374.1,552.9 374.2,552.9 374.4,553.3 374.6,553.3 374.8,553.3 375.0,553.3 375.1,553.0 375.3,553.0 375.5,553.0 375.7,553.0 375.8,553.0 376.0,553.0 376.2,567.0 376.4,553.0 376.6,552.7 376.7,552.7 376.9,552.7 377.1,552.7 377.3,553.2 377.5,553.2 377.6,553.2 377.8,567.0 378.0,552.4 378.2,552.4 378.4,552.4 378.5,552.4 378.7,553.0 378.9,553.0 379.1,553.0 379.3,553.0 379.4,552.9 379.6,538.2 379.8,552.9 380.0,552.9 380.2,552.5 380.3,552.5 380.5,552.5 380.7,552.5 380.9,553.4 381.1,553.4 381.2,553.4 381.4,553.4 381.6,552.2 381.8,552.2 382.0,552.2 382.1,552.2 382.3,553.0 382.5,553.0 382.7,553.0 382.9,532.8 383.0,553.3 383.2,553.3 383.4,553.3 383.6,553.3 383.8,552.3 383.9,552.3 384.1,552.3 384.3,552.3 384.5,552.8 384.6,552.8 384.8,552.8 385.0,552.8 385.2,553.3 385.4,553.3 385.5,553.3 385.7,553.3 385.9,537.4 386.1,552.6 386.3,552.6 386.4,552.6 386.6,552.3 386.8,552.3 387.0,552.3 387.2,552.3 387.3,552.3 387.5,552.3 387.7,552.3 387.9,552.3 388.1,552.6 388.2,552.6 388.4,552.6 388.6,552.6 388.8,553.1 389.0,553.1 389.1,553.1 389.3,553.1 389.5,552.9 389.7,552.9 389.9,552.9 390.0,552.9 390.2,552.5 390.4,552.5 390.6,533.4 390.8,552.5 390.9,552.6 391.1,552.6 391.3,552.6 391.5,552.6 391.7,552.9 391.8,552.9 392.0,552.9 392.2,552.9 392.4,552.4 392.5,552.4 392.7,532.8 392.9,552.4 393.1,553.1 393.3,553.1 393.4,553.1 393.6,553.1 393.8,552.3 394.0,552.3 394.2,552.3 394.3,552.3 394.5,553.1 394.7,553.1 394.9,553.1 395.1,532.8 395.2,552.9 395.4,552.9 395.6,552.9 395.8,552.9 396.0,552.8 396.1,552.8 396.3,552.8 396.5,552.8 396.7,552.5 396.9,552.5 397.0,552.5 397.2,552.5 397.4,552.4 397.6,552.4 397.8,552.4 397.9,552.4 398.1,553.2 398.3,553.2 398.5,553.2 398.7,553.2 398.8,553.0 399.0,553.0 399.2,553.0 399.4,553.0 399.6,553.0 399.7,553.0 399.9,553.0 400.1,553.0 400.3,552.8 400.5,552.8 400.6,552.8 400.8,552.8 401.0,553.0 401.2,553.0 401.3,553.0 401.5,553.0 401.7,553.1 401.9,553.1 402.1,553.1 402.2,553.1 402.4,552.3 402.6,552.3 402.8,552.3 403.0,552.3 403.1,552.6 403.3,552.6 403.5,552.6 403.7,552.6 403.9,552.8 404.0,552.8 404.2,552.8 404.4,552.8 404.6,552.5 404.8,552.5 404.9,552.5 405.1,552.5 405.3,552.8 405.5,532.8 405.7,552.8 405.8,552.8 406.0,553.2 406.2,553.2 406.4,553.2 406.6,553.2 406.7,553.3 406.9,553.3 407.1,553.3 407.3,553.3 407.5,552.6 407.6,552.6 407.8,552.6 408.0,552.6 408.2,552.8 408.4,532.8 408.5,552.8 408.7,572.7 408.9,552.8 409.1,552.8 409.3,552.8 409.4,552.8 409.6,553.1 409.8,553.1 410.0,553.1 410.1,553.1 410.3,552.7 410.5,552.7 410.7,552.7 410.9,552.7 411.0,552.7 411.2,552.7 411.4,552.7 411.6,552.7 411.8,552.4 411.9,552.4 412.1,552.4 412.3,552.4 412.5,552.4 412.7,552.4 412.8,552.4 413.0,552.4 413.2,553.0 413.4,553.0 413.6,553.0 413.7,553.0 413.9,552.2 414.1,552.2 414.3,552.2 414.5,552.2 414.6,552.5 414.8,552.5 415.0,533.7 415.2,552.5 415.4,552.3 415.5,552.3 415.7,552.3 415.9,552.3 416.1,552.8 416.3,552.8 416.4,552.8 416.6,572.7 416.8,552.5 417.0,552.5 417.2,552.5 417.3,552.5 417.5,553.2 417.7,553.2 417.9,553.2 418.1,553.2 418.2,552.4 418.4,552.4 418.6,552.4 418.8,552.4 418.9,553.0 419.1,553.0 419.3,553.0 419.5,553.0 419.7,552.6 419.8,552.6 420.0,552.6 420.2,552.6 420.4,553.0 420.6,553.0 420.7,553.0 420.9,553.0 421.1,572.7 421.3,552.8 421.5,552.8 421.6,552.8 421.8,552.7 422.0,552.7 422.2,552.7 422.4,552.7 422.5,553.1 422.7,553.1 422.9,553.1 423.1,553.1 423.3,552.7 423.4,552.7 423.6,552.7 423.8,552.7 424.0,552.5 424.2,552.5 424.3,552.5 424.5,552.5 424.7,552.7 424.9,552.7 425.1,552.7 425.2,552.7 425.4,552.4 425.6,552.4 425.8,552.4 426.0,552.4 426.1,552.1 426.3,552.1 426.5,552.1 426.7,552.1 426.9,552.7 427.0,552.7 427.2,552.7 427.4,552.7 427.6,552.4 427.7,535.7 427.9,552.4 428.1,552.4 428.3,552.7 428.5,552.7 428.6,552.7 428.8,552.7 429.0,553.1 429.2,553.1 429.4,553.1 429.5,553.1 429.7,552.5 429.9,552.5 430.1,552.5 430.3,552.5 430.4,553.1 430.6,553.1 430.8,553.1 431.0,553.1 431.2,552.7 431.3,552.7 431.5,552.7 431.7,552.7 431.9,552.1 432.1,552.1 432.2,552.1 432.4,552.1 432.6,553.0 432.8,553.0 433.0,553.0 433.1,553.0 433.3,553.1 433.5,553.1 433.7,553.1 433.9,553.1 434.0,552.9 434.2,553.1 434.4,553.2 434.6,553.4 434.8,553.4 434.9,553.6 435.1,553.7 435.3,553.9 435.5,554.0 435.6,554.2 435.8,554.4 436.0,554.6 436.2,555.3 436.4,555.5 436.5,555.8 436.7,556.1 436.9,556.3 437.1,556.6 437.3,556.8 437.4,557.1 437.6,557.0 437.8,557.2 438.0,557.1 438.2,557.0 438.3,557.1 438.5,557.0 438.7,556.9 438.9,556.8 439.1,556.4 439.2,556.3 439.4,556.2 439.6,556.1 439.8,556.5 440.0,555.2 440.1,553.9 440.3,552.6 440.5,551.0 440.7,549.7 440.9,548.4 441.0,547.0 441.2,545.6 441.4,544.2 441.6,542.7 441.8,541.3 441.9,539.9 442.1,530.9 442.3,521.8 442.5,546.0 442.7,570.2 442.8,570.2 443.0,570.6 443.2,570.6 443.4,570.2 443.6,570.2 443.7,570.2 443.9,570.2 444.1,570.2 444.3,570.2 444.4,570.2 444.6,570.2 444.8,569.8 445.0,569.8 445.2,569.8 445.3,569.8 445.5,570.1 445.7,570.1 445.9,570.1 446.1,570.1 446.2,570.4 446.4,570.4 446.6,570.4 446.8,570.4 447.0,570.5 447.1,570.5 447.3,570.5 447.5,570.5 447.7,569.9 447.9,569.9 448.0,569.9 448.2,569.9 448.4,570.5 448.6,570.5 448.8,570.5 448.9,570.5 449.1,580.7 449.3,562.4 449.5,544.1 449.7,525.8 449.8,528.7 450.0,531.2 450.2,533.6 450.4,535.4 450.6,537.5 450.7,539.3 450.9,541.2 451.1,542.8 451.3,544.5 451.5,546.1 451.6,547.7 451.8,549.3 452.0,550.2 452.2,550.0 452.4,549.7 452.5,549.5 452.7,549.7 452.9,549.5 453.1,549.2 453.2,549.0 453.4,548.6 453.6,548.6 453.8,548.6 454.0,548.6 454.1,549.3 454.3,549.3 454.5,549.3 454.7,549.3 454.9,548.6 455.0,548.6 455.2,548.6 455.4,548.6 455.6,549.0 455.8,549.0 455.9,549.0 456.1,549.0 456.3,549.3 456.5,549.3 456.7,549.3 456.8,549.3 457.0,548.7 457.2,548.7 457.4,548.7 457.6,548.7 457.7,548.7 457.9,548.7 458.1,548.7 458.3,548.7 458.5,549.0 458.6,549.0 458.8,549.0 459.0,549.5 459.2,548.7 459.4,549.2 459.5,549.6 459.7,550.1 459.9,551.7 460.1,552.1 460.3,552.6 460.4,553.0 460.6,553.4 460.8,553.9 461.0,554.3 461.2,554.8 461.3,555.0 461.5,555.6 461.7,556.1 461.9,556.7 462.0,557.2 462.2,557.7 462.4,558.3 462.6,558.8 462.8,559.4 462.9,559.9 463.1,560.5 463.3,560.6 463.5,560.8 463.7,560.9 463.8,561.1 464.0,561.2 464.2,560.8 464.4,560.9 464.6,561.0 464.7,561.1 464.9,561.9 465.1,562.0 465.3,562.1 465.5,562.2 465.6,562.6 465.8,562.7 466.0,562.8 466.2,563.0 466.4,562.8 466.5,562.9 466.7,563.0 466.9,563.1 467.1,562.9 467.3,563.0 467.4,563.1 467.6,563.2 467.8,563.3 468.0,563.3 468.2,563.4 468.3,563.5 468.5,563.1 468.7,563.2 468.9,563.3 469.1,563.4 469.2,564.1 469.4,564.1 469.6,564.2 469.8,564.3 470.0,564.5 470.1,564.6 470.3,564.7 470.5,564.8 470.7,564.9 470.8,565.2 471.0,565.4 471.2,565.6 471.4,565.9 471.6,566.1 471.7,566.3 471.9,566.5 472.1,566.3 472.3,566.5 472.5,566.7 472.6,566.9 472.8,567.7 473.0,567.9 473.2,568.1 473.4,568.3 473.5,567.8 473.7,567.9 473.9,568.1 474.1,568.3 474.3,569.1 474.4,569.3 474.6,569.4 474.8,569.6 475.0,569.7 475.2,569.8 475.3,570.0 475.5,570.2 475.7,570.1 475.9,570.3 476.1,570.4 476.2,570.6 476.4,571.3 476.6,571.4 476.8,571.6 477.0,571.8 477.1,571.4 477.3,571.6 477.5,571.7 477.7,571.9 477.9,572.1 478.0,572.3 478.2,572.4 478.4,572.5 478.6,572.2 478.7,572.3 478.9,572.4 479.1,572.5 479.3,572.8 479.5,572.9 479.6,573.0 479.8,573.1 480.0,574.1 480.2,574.2 480.4,574.3 480.5,574.4 480.7,573.7 480.9,573.8 481.1,573.8 481.3,573.8 481.4,574.3 481.6,574.3 481.8,574.4 482.0,574.4 482.2,574.4 482.3,574.5 482.5,574.5 482.7,574.5 482.9,574.5 483.1,574.6 483.2,574.6 483.4,574.7 483.6,573.9 483.8,573.9 484.0,573.9 484.1,574.0 484.3,574.7 484.5,574.8 484.7,574.8 484.9,574.8 485.0,574.7 485.2,574.6 485.4,574.6 485.6,574.6 485.8,574.4 485.9,574.3 486.1,574.3 486.3,574.3 486.5,574.0 486.7,574.0 486.8,574.0 487.0,574.0 487.2,574.6 487.4,574.6 487.5,574.6 487.7,574.6 487.9,574.5 488.1,574.4 488.3,574.4 488.4,574.4 488.6,574.4 488.8,574.4 489.0,574.4 489.2,574.3 489.3,574.4 489.5,574.4 489.7,574.4 489.9,574.3 490.1,574.4 490.2,574.3 490.4,574.3 490.6,574.2 490.8,574.5 491.0,574.4 491.1,574.4 491.3,574.3 491.5,574.1 491.7,574.1 491.9,574.0 492.0,574.0 492.2,574.0 492.4,574.0 492.6,574.0 492.8,573.9 492.9,573.9 493.1,573.9 493.3,573.8 493.5,574.0 493.7,574.0 493.8,574.2 494.0,574.3 494.2,574.5 494.4,574.5 494.6,574.6 494.7,574.8 494.9,574.9 495.1,575.3 495.3,575.4 495.5,575.6 495.6,575.7 495.8,575.8 496.0,575.9 496.2,576.0 496.3,576.1 496.5,575.8 496.7,575.9 496.9,576.0 497.1,576.1 497.2,576.3 497.4,576.3 497.6,576.4 497.8,576.5 498.0,577.2 498.1,577.3 498.3,577.4 498.5,577.5 498.7,577.8 498.9,577.9 499.0,578.0 499.2,578.1 499.4,577.0 499.6,577.1 499.8,577.2 499.9,577.3 500.1,578.2 500.3,578.3 500.5,578.4 500.7,578.5 500.8,578.0 501.0,578.1 501.2,578.2 501.4,578.3 501.6,578.9 501.7,579.0 501.9,579.1 502.1,579.2 502.3,578.8 502.5,578.9 502.6,579.0 502.8,579.1 503.0,579.5 503.2,579.6 503.4,579.7 503.5,579.8 503.7,580.1" fill="none" stroke="#ff2a2a" stroke-width="0.4" stroke-linejoin="round" marker-start="url(#mxf)" marker-mid="url(#mxf)" marker-end="url(#mxf)"/>
<polyline clip-path="url(#cf)" points="319.1,582.0 319.3,594.8 319.5,582.0 319.6,594.8 319.8,582.0 320.0,594.8 320.2,582.0 320.4,594.8 320.5,582.0 320.7,594.8 320.9,582.0 321.1,594.8 321.3,582.0 321.4,594.8 321.6,582.0 321.8,594.8 322.0,582.0 322.2,594.8 322.3,582.0 322.5,594.8 322.7,582.0 322.9,594.8 323.1,582.0 323.2,594.8 323.4,582.0 323.6,594.8 323.8,582.0 323.9,594.8 324.1,582.0 324.3,594.8 324.5,582.0 324.7,594.8 324.8,582.0 325.0,594.8 325.2,582.0 325.4,594.8 325.6,582.0 325.7,594.8 325.9,582.0 326.1,594.8 326.3,582.0 326.5,594.8 326.6,582.0 326.8,594.8 327.0,582.0 327.2,594.8 327.4,582.0 327.5,594.8 327.7,582.0 327.9,594.8 328.1,582.0 328.3,594.8 328.4,582.0 328.6,594.8 328.8,582.0 329.0,594.8 329.2,582.0 329.3,594.8 329.5,582.0 329.7,594.8 329.9,582.0 330.1,594.8 330.2,582.0 330.4,594.8 330.6,582.0 330.8,594.8 331.0,582.0 331.1,594.8 331.3,582.0 331.5,594.8 331.7,582.0 331.9,594.8 332.0,582.0 332.2,594.8 332.4,582.0 332.6,594.8 332.7,582.0 332.9,594.8 333.1,582.0 333.3,594.8 333.5,582.0 333.6,594.8 333.8,582.0 334.0,594.8 334.2,582.0 334.4,594.8 334.5,582.0 334.7,594.8 334.9,582.0 335.1,594.8 335.3,582.0 335.4,594.8 335.6,582.0 335.8,594.8 336.0,582.0 336.2,594.8 336.3,582.0 336.5,594.8 336.7,582.0 336.9,594.8 337.1,582.0 337.2,594.8 337.4,582.0 337.6,594.8 337.8,582.0 338.0,594.8 338.1,582.0 338.3,594.8 338.5,582.0 338.7,594.8 338.9,582.0 339.0,594.8 339.2,582.0 339.4,594.8 339.6,582.0 339.8,594.8 339.9,582.0 340.1,594.8 340.3,582.0 340.5,594.8 340.7,582.0 340.8,594.8 341.0,582.0 341.2,594.8 341.4,582.0 341.5,594.8 341.7,582.0 341.9,594.8 342.1,582.0 342.3,594.8 342.4,582.0 342.6,594.8 342.8,582.0 343.0,594.8 343.2,582.0 343.3,594.8 343.5,582.0 343.7,594.8 343.9,582.0 344.1,594.8 344.2,582.0 344.4,594.8 344.6,582.0 344.8,594.8 345.0,582.0 345.1,594.8 345.3,582.0 345.5,594.8 345.7,582.0 345.9,594.8 346.0,582.0 346.2,594.8 346.4,582.0 346.6,594.8 346.8,582.0 346.9,594.8 347.1,582.0 347.3,594.8 347.5,582.0 347.7,594.8 347.8,582.0 348.0,594.8 348.2,582.0 348.4,594.8 348.6,582.0 348.7,594.8 348.9,582.0 349.1,594.8 349.3,582.0 349.4,594.8 349.6,582.0 349.8,594.8 350.0,582.0 350.2,594.8 350.3,582.0 350.5,594.8 350.7,582.0 350.9,594.8 351.1,582.0 351.2,594.8 351.4,582.0 351.6,594.8 351.8,582.0 352.0,594.8 352.1,582.0 352.3,594.8 352.5,582.0 352.7,594.8 352.9,582.0 353.0,594.8 353.2,582.0 353.4,594.8 353.6,582.0 353.8,594.8 353.9,582.0 354.1,594.8 354.3,582.0 354.5,594.8 354.7,582.0 354.8,594.8 355.0,582.0 355.2,594.8 355.4,582.0 355.6,594.8 355.7,582.0 355.9,594.8 356.1,582.0 356.3,594.8 356.5,582.0 356.6,594.8 356.8,582.0 357.0,594.8 357.2,582.0 357.4,594.8 357.5,582.0 357.7,594.8 357.9,582.0 358.1,594.8 358.2,582.0 358.4,594.8 358.6,582.0 358.8,594.8 359.0,582.0 359.1,594.8 359.3,582.0 359.5,594.8 359.7,582.0 359.9,594.8 360.0,582.0 360.2,594.8 360.4,582.0 360.6,594.8 360.8,582.0 360.9,594.8 361.1,582.0 361.3,594.8 361.5,582.0 361.7,594.8 361.8,582.0 362.0,594.8 362.2,582.0 362.4,594.8 362.6,582.0 362.7,594.8 362.9,582.0 363.1,594.8 363.3,582.0 363.5,594.8 363.6,582.0 363.8,594.8 364.0,582.0 364.2,594.8 364.4,582.0 364.5,594.8 364.7,582.0 364.9,594.8 365.1,582.0 365.3,594.8 365.4,582.0 365.6,594.8 365.8,582.0 366.0,594.8 366.2,582.0 366.3,594.8 366.5,582.0 366.7,594.8 366.9,582.0 367.0,594.8 367.2,582.0 367.4,594.8 367.6,582.0 367.8,594.8 367.9,582.0 368.1,594.8 368.3,582.0 368.5,594.8 368.7,582.0 368.8,594.8 369.0,582.0 369.2,594.8 369.4,582.0 369.6,594.8 369.7,582.0 369.9,594.8 370.1,582.0 370.3,594.8 370.5,582.0 370.6,594.8 370.8,582.0 371.0,594.8 371.2,582.0 371.4,594.8 371.5,582.0 371.7,594.8 371.9,582.0 372.1,594.8 372.3,582.0 372.4,594.8 372.6,582.0 372.8,594.8 373.0,582.0 373.2,594.8 373.3,582.0 373.5,580.3 373.7,579.3 373.9,579.3 374.1,579.3 374.2,579.3 374.4,579.7 374.6,579.7 374.8,579.7 375.0,579.7 375.1,579.2 375.3,579.2 375.5,579.2 375.7,579.2 375.8,593.9 376.0,579.5 376.2,579.5 376.4,579.5 376.6,579.5 376.7,579.5 376.9,579.5 377.1,579.5 377.3,579.3 377.5,579.3 377.6,579.3 377.8,579.3 378.0,593.9 378.2,579.7 378.4,579.7 378.5,579.7 378.7,579.5 378.9,579.5 379.1,579.5 379.3,579.5 379.4,579.6 379.6,579.6 379.8,579.6 380.0,579.6 380.2,579.3 380.3,579.3 380.5,579.3 380.7,579.3 380.9,579.2 381.1,579.2 381.2,579.2 381.4,579.2 381.6,579.7 381.8,579.7 382.0,579.7 382.1,579.7 382.3,593.9 382.5,579.6 382.7,579.6 382.9,579.6 383.0,579.7 383.2,579.7 383.4,579.7 383.6,579.7 383.8,579.0 383.9,579.0 384.1,593.9 384.3,579.0 384.5,579.7 384.6,579.7 384.8,579.7 385.0,579.7 385.2,579.5 385.4,579.5 385.5,579.5 385.7,579.5 385.9,579.6 386.1,579.6 386.3,579.6 386.4,579.6 386.6,579.8 386.8,579.8 387.0,579.8 387.2,579.8 387.3,579.3 387.5,579.3 387.7,593.9 387.9,579.3 388.1,579.6 388.2,579.6 388.4,579.6 388.6,579.6 388.8,579.2 389.0,579.2 389.1,579.2 389.3,579.2 389.5,593.9 389.7,579.8 389.9,579.8 390.0,579.8 390.2,579.4 390.4,579.4 390.6,579.4 390.8,579.4 390.9,578.8 391.1,578.8 391.3,578.8 391.5,578.8 391.7,579.2 391.8,579.2 392.0,579.2 392.2,579.2 392.4,579.5 392.5,579.5 392.7,579.5 392.9,579.5 393.1,579.2 393.3,579.2 393.4,579.2 393.6,579.2 393.8,579.8 394.0,579.8 394.2,593.9 394.3,579.8 394.5,579.3 394.7,579.3 394.9,579.3 395.1,579.3 395.2,579.4 395.4,593.9 395.6,579.4 395.8,579.4 396.0,579.3 396.1,579.3 396.3,579.3 396.5,579.3 396.7,579.3 396.9,579.3 397.0,579.3 397.2,579.3 397.4,579.3 397.6,579.3 397.8,579.3 397.9,579.3 398.1,579.7 398.3,579.7 398.5,579.7 398.7,579.7 398.8,579.6 399.0,579.6 399.2,579.6 399.4,579.6 399.6,579.8 399.7,579.8 399.9,579.8 400.1,579.8 400.3,579.3 400.5,579.3 400.6,579.3 400.8,579.3 401.0,580.0 401.2,580.0 401.3,580.0 401.5,580.0 401.7,579.5 401.9,579.5 402.1,579.5 402.2,579.5 402.4,579.7 402.6,579.7 402.8,579.7 403.0,579.7 403.1,579.4 403.3,579.4 403.5,579.4 403.7,579.4 403.9,578.8 404.0,578.8 404.2,578.8 404.4,578.8 404.6,593.9 404.8,579.6 404.9,579.6 405.1,579.6 405.3,579.2 405.5,579.2 405.7,579.2 405.8,579.2 406.0,579.1 406.2,579.1 406.4,579.1 406.6,579.1 406.7,579.8 406.9,579.8 407.1,593.9 407.3,579.8 407.5,579.5 407.6,579.5 407.8,579.5 408.0,579.5 408.2,579.4 408.4,579.4 408.5,593.9 408.7,579.4 408.9,579.7 409.1,579.7 409.3,579.7 409.4,579.7 409.6,579.6 409.8,579.6 410.0,579.6 410.1,579.6 410.3,579.5 410.5,579.5 410.7,579.5 410.9,579.5 411.0,579.4 411.2,579.4 411.4,579.4 411.6,579.4 411.8,579.6 411.9,579.6 412.1,579.6 412.3,579.6 412.5,579.2 412.7,579.2 412.8,579.2 413.0,579.2 413.2,579.3 413.4,579.3 413.6,579.3 413.7,579.3 413.9,579.5 414.1,593.9 414.3,579.5 414.5,579.5 414.6,579.4 414.8,579.4 415.0,579.4 415.2,579.4 415.4,580.0 415.5,580.0 415.7,580.0 415.9,593.9 416.1,579.9 416.3,579.9 416.4,579.9 416.6,579.9 416.8,579.9 417.0,579.9 417.2,579.9 417.3,579.9 417.5,579.4 417.7,579.4 417.9,579.4 418.1,579.4 418.2,579.1 418.4,579.1 418.6,579.1 418.8,579.1 418.9,579.6 419.1,579.6 419.3,579.6 419.5,593.9 419.7,579.8 419.8,579.8 420.0,579.8 420.2,579.8 420.4,579.8 420.6,579.8 420.7,579.8 420.9,579.8 421.1,579.4 421.3,579.4 421.5,579.4 421.6,579.4 421.8,579.9 422.0,579.9 422.2,579.9 422.4,593.9 422.5,579.7 422.7,579.7 422.9,579.7 423.1,579.7 423.3,579.3 423.4,579.3 423.6,579.3 423.8,579.3 424.0,579.1 424.2,579.1 424.3,579.1 424.5,579.1 424.7,579.5 424.9,579.5 425.1,579.5 425.2,579.5 425.4,579.5 425.6,579.5 425.8,579.5 426.0,579.5 426.1,579.6 426.3,579.6 426.5,579.6 426.7,579.6 426.9,579.3 427.0,579.3 427.2,579.3 427.4,579.3 427.6,580.3 427.7,593.9 427.9,580.3 428.1,580.3 428.3,579.4 428.5,579.4 428.6,579.4 428.8,579.4 429.0,579.4 429.2,579.4 429.4,579.4 429.5,579.4 429.7,579.6 429.9,579.6 430.1,579.6 430.3,579.6 430.4,579.6 430.6,579.6 430.8,579.6 431.0,579.6 431.2,579.4 431.3,579.4 431.5,579.4 431.7,579.4 431.9,579.6 432.1,579.6 432.2,579.6 432.4,579.6 432.6,579.3 432.8,579.3 433.0,579.3 433.1,579.3 433.3,579.7 433.5,579.7 433.7,579.7 433.9,579.7 434.0,579.4 434.2,579.4 434.4,579.4 434.6,579.4 434.8,579.2 434.9,579.2 435.1,585.2 435.3,592.8 435.5,603.0 435.6,610.4 435.8,617.9 436.0,622.9 436.2,627.3 436.4,629.7 436.5,632.2 436.7,634.6 436.9,635.9 437.1,636.9 437.3,638.0 437.4,639.1 437.6,640.2 437.8,640.9 438.0,641.6 438.2,642.3 438.3,642.7 438.5,643.4 438.7,644.1 438.9,644.4 439.1,644.8 439.2,645.1 439.4,645.4 439.6,645.7 439.8,645.9 440.0,648.7 440.1,651.6 440.3,654.4 440.5,525.2 440.7,526.1 440.9,526.9 441.0,527.8 441.2,528.6 441.4,529.3 441.6,530.0 441.8,530.7 441.9,531.4 442.1,532.1 442.3,532.8 442.5,533.4 442.7,533.9 442.8,534.4 443.0,534.9 443.2,535.4 443.4,536.0 443.6,660.9 443.7,653.3 443.9,645.6 444.1,645.6 444.3,645.8 444.4,645.8 444.6,645.8 444.8,645.9 445.0,645.9 445.2,645.9 445.3,645.9 445.5,645.4 445.7,645.4 445.9,645.4 446.1,645.4 446.2,645.3 446.4,645.3 446.6,645.3 446.8,645.3 447.0,646.0 447.1,646.0 447.3,646.0 447.5,646.0 447.7,645.7 447.9,645.7 448.0,645.7 448.2,645.7 448.4,645.7 448.6,645.7 448.8,645.7 448.9,645.7 449.1,645.4 449.3,645.4 449.5,645.4 449.7,645.4 449.8,645.3 450.0,645.3 450.2,645.3 450.4,645.3 450.6,645.5 450.7,645.5 450.9,645.5 451.1,645.5 451.3,645.3 451.5,645.3 451.6,645.3 451.8,645.3 452.0,645.4 452.2,645.4 452.4,645.4 452.5,645.9 452.7,646.6 452.9,647.1 453.1,647.7 453.2,641.2 453.4,634.7 453.6,634.6 453.8,634.5 454.0,634.3 454.1,634.0 454.3,633.9 454.5,633.7 454.7,633.6 454.9,633.9 455.0,633.8 455.2,633.6 455.4,633.5 455.6,633.5 455.8,633.4 455.9,633.2 456.1,633.1 456.3,632.4 456.5,632.2 456.7,632.1 456.8,632.0 457.0,631.8 457.2,631.7 457.4,631.5 457.6,631.4 457.7,631.0 457.9,630.9 458.1,630.7 458.3,630.6 458.5,630.9 458.6,630.8 458.8,630.7 459.0,630.5 459.2,630.7 459.4,630.6 459.5,630.4 459.7,630.3 459.9,629.7 460.1,629.6 460.3,629.5 460.4,629.4 460.6,628.9 460.8,628.8 461.0,628.7 461.2,628.5 461.3,629.0 461.5,628.9 461.7,628.7 461.9,628.6 462.0,628.3 462.2,628.2 462.4,628.1 462.6,628.0 462.8,627.9 462.9,627.8 463.1,627.7 463.3,627.6 463.5,627.8 463.7,627.7 463.8,627.6 464.0,627.5 464.2,626.6 464.4,626.5 464.6,626.4 464.7,626.3 464.9,626.6 465.1,626.5 465.3,626.4 465.5,626.3 465.6,625.7 465.8,625.6 466.0,625.5 466.2,625.4 466.4,625.8 466.5,625.7 466.7,625.6 466.9,625.5 467.1,625.8 467.3,625.7 467.4,625.6 467.6,625.5 467.8,625.2 468.0,625.1 468.2,625.0 468.3,624.9 468.5,624.8 468.7,624.7 468.9,624.6 469.1,624.6 469.2,624.4 469.4,624.3 469.6,624.2 469.8,624.1 470.0,623.9 470.1,623.8 470.3,623.8 470.5,623.7 470.7,623.6 470.8,623.5 471.0,623.5 471.2,623.4 471.4,622.7 471.6,622.6 471.7,622.6 471.9,622.5 472.1,623.5 472.3,623.4 472.5,623.3 472.6,623.2 472.8,622.8 473.0,622.7 473.2,622.6 473.4,622.5 473.5,622.1 473.7,622.1 473.9,622.0 474.1,621.9 474.3,621.6 474.4,621.5 474.6,621.4 474.8,621.3 475.0,621.3 475.2,621.2 475.3,621.1 475.5,621.0 475.7,621.0 475.9,620.9 476.1,620.7 476.2,620.6 476.4,620.4 476.6,620.3 476.8,620.2 477.0,620.1 477.1,620.2 477.3,620.1 477.5,620.0 477.7,619.8 477.9,619.8 478.0,619.7 478.2,619.6 478.4,619.5 478.6,619.2 478.7,619.1 478.9,619.0 479.1,618.9 479.3,619.3 479.5,619.2 479.6,619.1 479.8,619.0 480.0,618.5 480.2,618.4 480.4,618.3 480.5,618.2 480.7,618.3 480.9,618.2 481.1,618.1 481.3,618.0 481.4,617.6 481.6,617.5 481.8,617.4 482.0,617.3 482.2,617.4 482.3,617.3 482.5,617.2 482.7,617.1 482.9,616.6 483.1,616.5 483.2,616.4 483.4,616.3 483.6,616.4 483.8,616.3 484.0,616.2 484.1,616.1 484.3,616.1 484.5,616.0 484.7,615.9 484.9,615.8 485.0,616.1 485.2,616.0 485.4,616.0 485.6,615.9 485.8,615.5 485.9,615.4 486.1,615.4 486.3,615.3 486.5,616.1 486.7,616.0 486.8,615.9 487.0,615.9 487.2,615.0 487.4,614.9 487.5,614.9 487.7,614.8 487.9,614.8 488.1,614.8 488.3,614.7 488.4,614.7 488.6,614.8 488.8,614.7 489.0,614.7 489.2,614.6 489.3,614.5 489.5,614.4 489.7,614.4 489.9,614.3 490.1,614.8 490.2,614.8 490.4,614.8 490.6,614.7 490.8,614.4 491.0,614.4 491.1,614.3 491.3,614.3 491.5,614.4 491.7,614.3 491.9,614.3 492.0,614.2 492.2,613.8 492.4,613.7 492.6,613.7 492.8,613.7 492.9,613.6 493.1,613.6 493.3,613.5 493.5,613.5 493.7,613.2 493.8,613.1 494.0,613.1 494.2,613.0 494.4,613.7 494.6,613.7 494.7,613.3 494.9,613.0 495.1,612.6 495.3,612.2 495.5,611.9 495.6,611.5 495.8,610.8 496.0,610.5 496.2,609.9 496.3,609.3 496.5,608.9 496.7,608.3 496.9,607.7 497.1,607.1 497.2,606.5 497.4,606.2 497.6,605.9 497.8,605.6 498.0,604.9 498.1,604.6 498.3,604.3 498.5,603.9 498.7,603.8 498.9,604.0 499.0,604.2 499.2,604.4 499.4,604.7 499.6,604.9 499.8,605.1 499.9,607.2 500.1,608.9 500.3,612.4 500.5,615.9 500.7,621.0 500.8,626.4 501.0,626.9 501.2,627.4 501.4,627.9 501.6,628.8 501.7,629.3 501.9,629.8 502.1,630.3 502.3,630.4 502.5,631.0 502.6,631.6 502.8,632.1 503.0,632.6 503.2,633.2 503.4,633.8 503.5,634.3 503.7,635.1" fill="none" stroke="#0000ff" stroke-width="0.3" stroke-linejoin="round" marker-start="url(#mtf)" marker-mid="url(#mtf)" marker-end="url(#mtf)"/>
<polyline clip-path="url(#cf)" points="319.1,538.2 319.3,552.9 319.5,538.2 319.6,552.9 319.8,538.2 320.0,552.9 320.2,538.2 320.4,552.9 320.5,538.2 320.7,552.9 320.9,538.2 321.1,552.9 321.3,538.2 321.4,552.9 321.6,538.2 321.8,552.9 322.0,538.2 322.2,552.9 322.3,538.2 322.5,552.9 322.7,538.2 322.9,552.9 323.1,538.2 323.2,552.9 323.4,538.2 323.6,552.9 323.8,538.2 323.9,552.9 324.1,538.2 324.3,552.9 324.5,538.2 324.7,552.9 324.8,538.2 325.0,552.9 325.2,538.2 325.4,552.9 325.6,538.2 325.7,552.9 325.9,538.2 326.1,552.9 326.3,538.2 326.5,552.9 326.6,538.2 326.8,552.9 327.0,538.2 327.2,552.9 327.4,538.2 327.5,552.9 327.7,538.2 327.9,552.9 328.1,538.2 328.3,552.9 328.4,538.2 328.6,552.9 328.8,538.2 329.0,552.9 329.2,538.2 329.3,552.9 329.5,538.2 329.7,552.9 329.9,538.2 330.1,552.9 330.2,538.2 330.4,552.9 330.6,538.2 330.8,552.9 331.0,538.2 331.1,552.9 331.3,538.2 331.5,552.9 331.7,538.2 331.9,552.9 332.0,538.2 332.2,552.9 332.4,538.2 332.6,552.9 332.7,538.2 332.9,552.9 333.1,538.2 333.3,552.9 333.5,538.2 333.6,552.9 333.8,538.2 334.0,552.9 334.2,538.2 334.4,552.9 334.5,538.2 334.7,552.9 334.9,538.2 335.1,552.9 335.3,538.2 335.4,552.9 335.6,538.2 335.8,552.9 336.0,538.2 336.2,552.9 336.3,538.2 336.5,552.9 336.7,538.2 336.9,552.9 337.1,538.2 337.2,552.9 337.4,538.2 337.6,552.9 337.8,538.2 338.0,552.9 338.1,538.2 338.3,552.9 338.5,538.2 338.7,552.9 338.9,538.2 339.0,552.9 339.2,538.2 339.4,552.9 339.6,538.2 339.8,552.9 339.9,538.2 340.1,552.9 340.3,538.2 340.5,552.9 340.7,538.2 340.8,552.9 341.0,538.2 341.2,552.9 341.4,538.2 341.5,552.9 341.7,538.2 341.9,552.9 342.1,538.2 342.3,552.9 342.4,538.2 342.6,552.9 342.8,538.2 343.0,552.9 343.2,538.2 343.3,552.9 343.5,538.2 343.7,552.9 343.9,538.2 344.1,552.9 344.2,538.2 344.4,552.9 344.6,538.2 344.8,552.9 345.0,538.2 345.1,552.9 345.3,538.2 345.5,552.9 345.7,538.2 345.9,552.9 346.0,538.2 346.2,552.9 346.4,538.2 346.6,552.9 346.8,538.2 346.9,552.9 347.1,538.2 347.3,552.9 347.5,538.2 347.7,552.9 347.8,538.2 348.0,552.9 348.2,538.2 348.4,552.9 348.6,538.2 348.7,552.9 348.9,538.2 349.1,552.9 349.3,538.2 349.4,552.9 349.6,538.2 349.8,552.9 350.0,538.2 350.2,552.9 350.3,538.2 350.5,552.9 350.7,538.2 350.9,552.9 351.1,538.2 351.2,552.9 351.4,538.2 351.6,552.9 351.8,538.2 352.0,552.9 352.1,538.2 352.3,552.9 352.5,538.2 352.7,552.9 352.9,538.2 353.0,552.9 353.2,538.2 353.4,552.9 353.6,538.2 353.8,552.9 353.9,538.2 354.1,552.9 354.3,538.2 354.5,552.9 354.7,538.2 354.8,552.9 355.0,538.2 355.2,552.9 355.4,538.2 355.6,552.9 355.7,538.2 355.9,552.9 356.1,538.2 356.3,552.9 356.5,538.2 356.6,552.9 356.8,538.2 357.0,552.9 357.2,538.2 357.4,552.9 357.5,538.2 357.7,552.9 357.9,538.2 358.1,552.9 358.2,538.2 358.4,552.9 358.6,538.2 358.8,552.9 359.0,538.2 359.1,552.9 359.3,538.2 359.5,552.9 359.7,538.2 359.9,552.9 360.0,538.2 360.2,552.9 360.4,538.2 360.6,552.9 360.8,538.2 360.9,552.9 361.1,538.2 361.3,552.9 361.5,538.2 361.7,552.9 361.8,538.2 362.0,552.9 362.2,538.2 362.4,552.9 362.6,538.2 362.7,552.9 362.9,538.2 363.1,552.9 363.3,538.2 363.5,552.9 363.6,538.2 363.8,552.9 364.0,538.2 364.2,552.9 364.4,538.2 364.5,552.9 364.7,538.2 364.9,552.9 365.1,538.2 365.3,552.9 365.4,538.2 365.6,552.9 365.8,538.2 366.0,552.9 366.2,538.2 366.3,552.9 366.5,538.2 366.7,552.9 366.9,538.2 367.0,552.9 367.2,538.2 367.4,552.9 367.6,538.2 367.8,552.9 367.9,538.2 368.1,552.9 368.3,538.2 368.5,552.9 368.7,538.2 368.8,552.9 369.0,538.2 369.2,552.9 369.4,538.2 369.6,552.9 369.7,538.2 369.9,552.9 370.1,538.2 370.3,552.9 370.5,538.2 370.6,552.9 370.8,538.2 371.0,552.9 371.2,538.2 371.4,552.9 371.5,538.2 371.7,552.9 371.9,538.2 372.1,552.9 372.3,538.2 372.4,552.9 372.6,538.2 372.8,552.9 373.0,538.2 373.2,552.9 373.3,538.2 373.5,567.0 373.7,552.9 373.9,552.9 374.1,552.9 374.2,552.9 374.4,553.3 374.6,553.3 374.8,553.3 375.0,553.3 375.1,553.0 375.3,553.0 375.5,553.0 375.7,553.0 375.8,553.0 376.0,553.0 376.2,567.0 376.4,553.0 376.6,552.7 376.7,552.7 376.9,552.7 377.1,552.7 377.3,553.2 377.5,553.2 377.6,553.2 377.8,567.0 378.0,552.4 378.2,552.4 378.4,552.4 378.5,552.4 378.7,553.0 378.9,553.0 379.1,553.0 379.3,553.0 379.4,552.9 379.6,538.2 379.8,552.9 380.0,552.9 380.2,552.5 380.3,552.5 380.5,552.5 380.7,552.5 380.9,553.4 381.1,553.4 381.2,553.4 381.4,553.4 381.6,552.2 381.8,552.2 382.0,552.2 382.1,552.2 382.3,553.0 382.5,553.0 382.7,553.0 382.9,532.8 383.0,553.3 383.2,553.3 383.4,553.3 383.6,553.3 383.8,552.3 383.9,552.3 384.1,552.3 384.3,552.3 384.5,552.8 384.6,552.8 384.8,552.8 385.0,552.8 385.2,553.3 385.4,553.3 385.5,553.3 385.7,553.3 385.9,537.4 386.1,552.6 386.3,552.6 386.4,552.6 386.6,552.3 386.8,552.3 387.0,552.3 387.2,552.3 387.3,552.3 387.5,552.3 387.7,552.3 387.9,552.3 388.1,552.6 388.2,552.6 388.4,552.6 388.6,552.6 388.8,553.1 389.0,553.1 389.1,553.1 389.3,553.1 389.5,552.9 389.7,552.9 389.9,552.9 390.0,552.9 390.2,552.5 390.4,552.5 390.6,533.4 390.8,552.5 390.9,552.6 391.1,552.6 391.3,552.6 391.5,552.6 391.7,552.9 391.8,552.9 392.0,552.9 392.2,552.9 392.4,552.4 392.5,552.4 392.7,532.8 392.9,552.4 393.1,553.1 393.3,553.1 393.4,553.1 393.6,553.1 393.8,552.3 394.0,552.3 394.2,552.3 394.3,552.3 394.5,553.1 394.7,553.1 394.9,553.1 395.1,532.8 395.2,552.9 395.4,552.9 395.6,552.9 395.8,552.9 396.0,552.8 396.1,552.8 396.3,552.8 396.5,552.8 396.7,552.5 396.9,552.5 397.0,552.5 397.2,552.5 397.4,552.4 397.6,552.4 397.8,552.4 397.9,552.4 398.1,553.2 398.3,553.2 398.5,553.2 398.7,553.2 398.8,553.0 399.0,553.0 399.2,553.0 399.4,553.0 399.6,553.0 399.7,553.0 399.9,553.0 400.1,553.0 400.3,552.8 400.5,552.8 400.6,552.8 400.8,552.8 401.0,553.0 401.2,553.0 401.3,553.0 401.5,553.0 401.7,553.1 401.9,553.1 402.1,553.1 402.2,553.1 402.4,552.3 402.6,552.3 402.8,552.3 403.0,552.3 403.1,552.6 403.3,552.6 403.5,552.6 403.7,552.6 403.9,552.8 404.0,552.8 404.2,552.8 404.4,552.8 404.6,552.5 404.8,552.5 404.9,552.5 405.1,552.5 405.3,552.8 405.5,532.8 405.7,552.8 405.8,552.8 406.0,553.2 406.2,553.2 406.4,553.2 406.6,553.2 406.7,553.3 406.9,553.3 407.1,553.3 407.3,553.3 407.5,552.6 407.6,552.6 407.8,552.6 408.0,552.6 408.2,552.8 408.4,532.8 408.5,552.8 408.7,572.7 408.9,552.8 409.1,552.8 409.3,552.8 409.4,552.8 409.6,553.1 409.8,553.1 410.0,553.1 410.1,553.1 410.3,552.7 410.5,552.7 410.7,552.7 410.9,552.7 411.0,552.7 411.2,552.7 411.4,552.7 411.6,552.7 411.8,552.4 411.9,552.4 412.1,552.4 412.3,552.4 412.5,552.4 412.7,552.4 412.8,552.4 413.0,552.4 413.2,553.0 413.4,553.0 413.6,553.0 413.7,553.0 413.9,552.2 414.1,552.2 414.3,552.2 414.5,552.2 414.6,552.5 414.8,552.5 415.0,533.7 415.2,552.5 415.4,552.3 415.5,552.3 415.7,552.3 415.9,552.3 416.1,552.8 416.3,552.8 416.4,552.8 416.6,572.7 416.8,552.5 417.0,552.5 417.2,552.5 417.3,552.5 417.5,553.2 417.7,553.2 417.9,553.2 418.1,553.2 418.2,552.4 418.4,552.4 418.6,552.4 418.8,552.4 418.9,553.0 419.1,553.0 419.3,553.0 419.5,553.0 419.7,552.6 419.8,552.6 420.0,552.6 420.2,552.6 420.4,553.0 420.6,553.0 420.7,553.0 420.9,553.0 421.1,572.7 421.3,552.8 421.5,552.8 421.6,552.8 421.8,552.7 422.0,552.7 422.2,552.7 422.4,552.7 422.5,553.1 422.7,553.1 422.9,553.1 423.1,553.1 423.3,552.7 423.4,552.7 423.6,552.7 423.8,552.7 424.0,552.5 424.2,552.5 424.3,552.5 424.5,552.5 424.7,552.7 424.9,552.7 425.1,552.7 425.2,552.7 425.4,552.4 425.6,552.4 425.8,552.4 426.0,552.4 426.1,552.1 426.3,552.1 426.5,552.1 426.7,552.1 426.9,552.7 427.0,552.7 427.2,552.7 427.4,552.7 427.6,552.4 427.7,535.7 427.9,552.4 428.1,552.4 428.3,552.7 428.5,552.7 428.6,552.7 428.8,552.7 429.0,553.1 429.2,553.1 429.4,553.1 429.5,553.1 429.7,552.5 429.9,552.5 430.1,552.5 430.3,552.5 430.4,553.1 430.6,553.1 430.8,553.1 431.0,553.1 431.2,552.7 431.3,552.7 431.5,552.7 431.7,552.7 431.9,552.1 432.1,552.1 432.2,552.1 432.4,552.1 432.6,553.0 432.8,553.0 433.0,553.0 433.1,553.0 433.3,553.1 433.5,553.1 433.7,553.1 433.9,553.1 434.0,552.9 434.2,553.1 434.4,553.2 434.6,553.4 434.8,553.4 434.9,553.6 435.1,553.7 435.3,553.9 435.5,554.0 435.6,554.2 435.8,554.4 436.0,554.6 436.2,555.3 436.4,555.5 436.5,555.8 436.7,556.1 436.9,556.3 437.1,556.6 437.3,556.8 437.4,557.1 437.6,557.0 437.8,557.2 438.0,557.1 438.2,557.0 438.3,557.1 438.5,557.0 438.7,556.9 438.9,556.8 439.1,556.4 439.2,556.3 439.4,556.2 439.6,556.1 439.8,556.5 440.0,555.2 440.1,553.9 440.3,552.6 440.5,551.0 440.7,549.7 440.9,548.4 441.0,547.0 441.2,545.6 441.4,544.2 441.6,542.7 441.8,541.3 441.9,539.9 442.1,530.9 442.3,521.8 442.5,546.0 442.7,570.2 442.8,570.2 443.0,570.6 443.2,570.6 443.4,570.2 443.6,570.2 443.7,570.2 443.9,570.2 444.1,570.2 444.3,570.2 444.4,570.2 444.6,570.2 444.8,569.8 445.0,569.8 445.2,569.8 445.3,569.8 445.5,570.1 445.7,570.1 445.9,570.1 446.1,570.1 446.2,570.4 446.4,570.4 446.6,570.4 446.8,570.4 447.0,570.5 447.1,570.5 447.3,570.5 447.5,570.5 447.7,569.9 447.9,569.9 448.0,569.9 448.2,569.9 448.4,570.5 448.6,570.5 448.8,570.5 448.9,570.5 449.1,580.7 449.3,562.4 449.5,544.1 449.7,525.8 449.8,528.7 450.0,531.2 450.2,533.6 450.4,535.4 450.6,537.5 450.7,539.3 450.9,541.2 451.1,542.8 451.3,544.5 451.5,546.1 451.6,547.7 451.8,549.3 452.0,550.2 452.2,550.0 452.4,549.7 452.5,549.5 452.7,549.7 452.9,549.5 453.1,549.2 453.2,549.0 453.4,548.6 453.6,548.6 453.8,548.6 454.0,548.6 454.1,549.3 454.3,549.3 454.5,549.3 454.7,549.3 454.9,548.6 455.0,548.6 455.2,548.6 455.4,548.6 455.6,549.0 455.8,549.0 455.9,549.0 456.1,549.0 456.3,549.3 456.5,549.3 456.7,549.3 456.8,549.3 457.0,548.7 457.2,548.7 457.4,548.7 457.6,548.7 457.7,548.7 457.9,548.7 458.1,548.7 458.3,548.7 458.5,549.0 458.6,549.0 458.8,549.0 459.0,549.5 459.2,548.7 459.4,549.2 459.5,549.6 459.7,550.1 459.9,551.7 460.1,552.1 460.3,552.6 460.4,553.0 460.6,553.4 460.8,553.9 461.0,554.3 461.2,554.8 461.3,555.0 461.5,555.6 461.7,556.1 461.9,556.7 462.0,557.2 462.2,557.7 462.4,558.3 462.6,558.8 462.8,559.4 462.9,559.9 463.1,560.5 463.3,560.6 463.5,560.8 463.7,560.9 463.8,561.1 464.0,561.2 464.2,560.8 464.4,560.9 464.6,561.0 464.7,561.1 464.9,561.9 465.1,562.0 465.3,562.1 465.5,562.2 465.6,562.6 465.8,562.7 466.0,562.8 466.2,563.0 466.4,562.8 466.5,562.9 466.7,563.0 466.9,563.1 467.1,562.9 467.3,563.0 467.4,563.1 467.6,563.2 467.8,563.3 468.0,563.3 468.2,563.4 468.3,563.5 468.5,563.1 468.7,563.2 468.9,563.3 469.1,563.4 469.2,564.1 469.4,564.1 469.6,564.2 469.8,564.3 470.0,564.5 470.1,564.6 470.3,564.7 470.5,564.8 470.7,564.9 470.8,565.2 471.0,565.4 471.2,565.6 471.4,565.9 471.6,566.1 471.7,566.3 471.9,566.5 472.1,566.3 472.3,566.5 472.5,566.7 472.6,566.9 472.8,567.7 473.0,567.9 473.2,568.1 473.4,568.3 473.5,567.8 473.7,567.9 473.9,568.1 474.1,568.3 474.3,569.1 474.4,569.3 474.6,569.4 474.8,569.6 475.0,569.7 475.2,569.8 475.3,570.0 475.5,570.2 475.7,570.1 475.9,570.3 476.1,570.4 476.2,570.6 476.4,571.3 476.6,571.4 476.8,571.6 477.0,571.8 477.1,571.4 477.3,571.6 477.5,571.7 477.7,571.9 477.9,572.1 478.0,572.3 478.2,572.4 478.4,572.5 478.6,572.2 478.7,572.3 478.9,572.4 479.1,572.5 479.3,572.8 479.5,572.9 479.6,573.0 479.8,573.1 480.0,574.1 480.2,574.2 480.4,574.3 480.5,574.4 480.7,573.7 480.9,573.8 481.1,573.8 481.3,573.8 481.4,574.3 481.6,574.3 481.8,574.4 482.0,574.4 482.2,574.4 482.3,574.5 482.5,574.5 482.7,574.5 482.9,574.5 483.1,574.6 483.2,574.6 483.4,574.7 483.6,573.9 483.8,573.9 484.0,573.9 484.1,574.0 484.3,574.7 484.5,574.8 484.7,574.8 484.9,574.8 485.0,574.7 485.2,574.6 485.4,574.6 485.6,574.6 485.8,574.4 485.9,574.3 486.1,574.3 486.3,574.3 486.5,574.0 486.7,574.0 486.8,574.0 487.0,574.0 487.2,574.6 487.4,574.6 487.5,574.6 487.7,574.6 487.9,574.5 488.1,574.4 488.3,574.4 488.4,574.4 488.6,574.4 488.8,574.4 489.0,574.4 489.2,574.3 489.3,574.4 489.5,574.4 489.7,574.4 489.9,574.3 490.1,574.4 490.2,574.3 490.4,574.3 490.6,574.2 490.8,574.5 491.0,574.4 491.1,574.4 491.3,574.3 491.5,574.1 491.7,574.1 491.9,574.0 492.0,574.0 492.2,574.0 492.4,574.0 492.6,574.0 492.8,573.9 492.9,573.9 493.1,573.9 493.3,573.8 493.5,574.0 493.7,574.0 493.8,574.2 494.0,574.3 494.2,574.5 494.4,574.5 494.6,574.6 494.7,574.8 494.9,574.9 495.1,575.3 495.3,575.4 495.5,575.6 495.6,575.7 495.8,575.8 496.0,575.9 496.2,576.0 496.3,576.1 496.5,575.8 496.7,575.9 496.9,576.0 497.1,576.1 497.2,576.3 497.4,576.3 497.6,576.4 497.8,576.5 498.0,577.2 498.1,577.3 498.3,577.4 498.5,577.5 498.7,577.8 498.9,577.9 499.0,578.0 499.2,578.1 499.4,577.0 499.6,577.1 499.8,577.2 499.9,577.3 500.1,578.2 500.3,578.3 500.5,578.4 500.7,578.5 500.8,578.0 501.0,578.1 501.2,578.2 501.4,578.3 501.6,578.9 501.7,579.0 501.9,579.1 502.1,579.2 502.3,578.8 502.5,578.9 502.6,579.0 502.8,579.1 503.0,579.5 503.2,579.6 503.4,579.7 503.5,579.8 503.7,580.1" fill="none" stroke="#00f5f5" stroke-width="1.6" stroke-linejoin="round" marker-start="url(#mcf)" marker-mid="url(#mcf)" marker-end="url(#mcf)"/>
<polyline clip-path="url(#cf)" points="319.1,582.0 319.3,594.8 319.5,582.0 319.6,594.8 319.8,582.0 320.0,594.8 320.2,582.0 320.4,594.8 320.5,582.0 320.7,594.8 320.9,582.0 321.1,594.8 321.3,582.0 321.4,594.8 321.6,582.0 321.8,594.8 322.0,582.0 322.2,594.8 322.3,582.0 322.5,594.8 322.7,582.0 322.9,594.8 323.1,582.0 323.2,594.8 323.4,582.0 323.6,594.8 323.8,582.0 323.9,594.8 324.1,582.0 324.3,594.8 324.5,582.0 324.7,594.8 324.8,582.0 325.0,594.8 325.2,582.0 325.4,594.8 325.6,582.0 325.7,594.8 325.9,582.0 326.1,594.8 326.3,582.0 326.5,594.8 326.6,582.0 326.8,594.8 327.0,582.0 327.2,594.8 327.4,582.0 327.5,594.8 327.7,582.0 327.9,594.8 328.1,582.0 328.3,594.8 328.4,582.0 328.6,594.8 328.8,582.0 329.0,594.8 329.2,582.0 329.3,594.8 329.5,582.0 329.7,594.8 329.9,582.0 330.1,594.8 330.2,582.0 330.4,594.8 330.6,582.0 330.8,594.8 331.0,582.0 331.1,594.8 331.3,582.0 331.5,594.8 331.7,582.0 331.9,594.8 332.0,582.0 332.2,594.8 332.4,582.0 332.6,594.8 332.7,582.0 332.9,594.8 333.1,582.0 333.3,594.8 333.5,582.0 333.6,594.8 333.8,582.0 334.0,594.8 334.2,582.0 334.4,594.8 334.5,582.0 334.7,594.8 334.9,582.0 335.1,594.8 335.3,582.0 335.4,594.8 335.6,582.0 335.8,594.8 336.0,582.0 336.2,594.8 336.3,582.0 336.5,594.8 336.7,582.0 336.9,594.8 337.1,582.0 337.2,594.8 337.4,582.0 337.6,594.8 337.8,582.0 338.0,594.8 338.1,582.0 338.3,594.8 338.5,582.0 338.7,594.8 338.9,582.0 339.0,594.8 339.2,582.0 339.4,594.8 339.6,582.0 339.8,594.8 339.9,582.0 340.1,594.8 340.3,582.0 340.5,594.8 340.7,582.0 340.8,594.8 341.0,582.0 341.2,594.8 341.4,582.0 341.5,594.8 341.7,582.0 341.9,594.8 342.1,582.0 342.3,594.8 342.4,582.0 342.6,594.8 342.8,582.0 343.0,594.8 343.2,582.0 343.3,594.8 343.5,582.0 343.7,594.8 343.9,582.0 344.1,594.8 344.2,582.0 344.4,594.8 344.6,582.0 344.8,594.8 345.0,582.0 345.1,594.8 345.3,582.0 345.5,594.8 345.7,582.0 345.9,594.8 346.0,582.0 346.2,594.8 346.4,582.0 346.6,594.8 346.8,582.0 346.9,594.8 347.1,582.0 347.3,594.8 347.5,582.0 347.7,594.8 347.8,582.0 348.0,594.8 348.2,582.0 348.4,594.8 348.6,582.0 348.7,594.8 348.9,582.0 349.1,594.8 349.3,582.0 349.4,594.8 349.6,582.0 349.8,594.8 350.0,582.0 350.2,594.8 350.3,582.0 350.5,594.8 350.7,582.0 350.9,594.8 351.1,582.0 351.2,594.8 351.4,582.0 351.6,594.8 351.8,582.0 352.0,594.8 352.1,582.0 352.3,594.8 352.5,582.0 352.7,594.8 352.9,582.0 353.0,594.8 353.2,582.0 353.4,594.8 353.6,582.0 353.8,594.8 353.9,582.0 354.1,594.8 354.3,582.0 354.5,594.8 354.7,582.0 354.8,594.8 355.0,582.0 355.2,594.8 355.4,582.0 355.6,594.8 355.7,582.0 355.9,594.8 356.1,582.0 356.3,594.8 356.5,582.0 356.6,594.8 356.8,582.0 357.0,594.8 357.2,582.0 357.4,594.8 357.5,582.0 357.7,594.8 357.9,582.0 358.1,594.8 358.2,582.0 358.4,594.8 358.6,582.0 358.8,594.8 359.0,582.0 359.1,594.8 359.3,582.0 359.5,594.8 359.7,582.0 359.9,594.8 360.0,582.0 360.2,594.8 360.4,582.0 360.6,594.8 360.8,582.0 360.9,594.8 361.1,582.0 361.3,594.8 361.5,582.0 361.7,594.8 361.8,582.0 362.0,594.8 362.2,582.0 362.4,594.8 362.6,582.0 362.7,594.8 362.9,582.0 363.1,594.8 363.3,582.0 363.5,594.8 363.6,582.0 363.8,594.8 364.0,582.0 364.2,594.8 364.4,582.0 364.5,594.8 364.7,582.0 364.9,594.8 365.1,582.0 365.3,594.8 365.4,582.0 365.6,594.8 365.8,582.0 366.0,594.8 366.2,582.0 366.3,594.8 366.5,582.0 366.7,594.8 366.9,582.0 367.0,594.8 367.2,582.0 367.4,594.8 367.6,582.0 367.8,594.8 367.9,582.0 368.1,594.8 368.3,582.0 368.5,594.8 368.7,582.0 368.8,594.8 369.0,582.0 369.2,594.8 369.4,582.0 369.6,594.8 369.7,582.0 369.9,594.8 370.1,582.0 370.3,594.8 370.5,582.0 370.6,594.8 370.8,582.0 371.0,594.8 371.2,582.0 371.4,594.8 371.5,582.0 371.7,594.8 371.9,582.0 372.1,594.8 372.3,582.0 372.4,594.8 372.6,582.0 372.8,594.8 373.0,582.0 373.2,594.8 373.3,582.0 373.5,580.3 373.7,579.3 373.9,579.3 374.1,579.3 374.2,579.3 374.4,579.7 374.6,579.7 374.8,579.7 375.0,579.7 375.1,579.2 375.3,579.2 375.5,579.2 375.7,579.2 375.8,593.9 376.0,579.5 376.2,579.5 376.4,579.5 376.6,579.5 376.7,579.5 376.9,579.5 377.1,579.5 377.3,579.3 377.5,579.3 377.6,579.3 377.8,579.3 378.0,593.9 378.2,579.7 378.4,579.7 378.5,579.7 378.7,579.5 378.9,579.5 379.1,579.5 379.3,579.5 379.4,579.6 379.6,579.6 379.8,579.6 380.0,579.6 380.2,579.3 380.3,579.3 380.5,579.3 380.7,579.3 380.9,579.2 381.1,579.2 381.2,579.2 381.4,579.2 381.6,579.7 381.8,579.7 382.0,579.7 382.1,579.7 382.3,593.9 382.5,579.6 382.7,579.6 382.9,579.6 383.0,579.7 383.2,579.7 383.4,579.7 383.6,579.7 383.8,579.0 383.9,579.0 384.1,593.9 384.3,579.0 384.5,579.7 384.6,579.7 384.8,579.7 385.0,579.7 385.2,579.5 385.4,579.5 385.5,579.5 385.7,579.5 385.9,579.6 386.1,579.6 386.3,579.6 386.4,579.6 386.6,579.8 386.8,579.8 387.0,579.8 387.2,579.8 387.3,579.3 387.5,579.3 387.7,593.9 387.9,579.3 388.1,579.6 388.2,579.6 388.4,579.6 388.6,579.6 388.8,579.2 389.0,579.2 389.1,579.2 389.3,579.2 389.5,593.9 389.7,579.8 389.9,579.8 390.0,579.8 390.2,579.4 390.4,579.4 390.6,579.4 390.8,579.4 390.9,578.8 391.1,578.8 391.3,578.8 391.5,578.8 391.7,579.2 391.8,579.2 392.0,579.2 392.2,579.2 392.4,579.5 392.5,579.5 392.7,579.5 392.9,579.5 393.1,579.2 393.3,579.2 393.4,579.2 393.6,579.2 393.8,579.8 394.0,579.8 394.2,593.9 394.3,579.8 394.5,579.3 394.7,579.3 394.9,579.3 395.1,579.3 395.2,579.4 395.4,593.9 395.6,579.4 395.8,579.4 396.0,579.3 396.1,579.3 396.3,579.3 396.5,579.3 396.7,579.3 396.9,579.3 397.0,579.3 397.2,579.3 397.4,579.3 397.6,579.3 397.8,579.3 397.9,579.3 398.1,579.7 398.3,579.7 398.5,579.7 398.7,579.7 398.8,579.6 399.0,579.6 399.2,579.6 399.4,579.6 399.6,579.8 399.7,579.8 399.9,579.8 400.1,579.8 400.3,579.3 400.5,579.3 400.6,579.3 400.8,579.3 401.0,580.0 401.2,580.0 401.3,580.0 401.5,580.0 401.7,579.5 401.9,579.5 402.1,579.5 402.2,579.5 402.4,579.7 402.6,579.7 402.8,579.7 403.0,579.7 403.1,579.4 403.3,579.4 403.5,579.4 403.7,579.4 403.9,578.8 404.0,578.8 404.2,578.8 404.4,578.8 404.6,593.9 404.8,579.6 404.9,579.6 405.1,579.6 405.3,579.2 405.5,579.2 405.7,579.2 405.8,579.2 406.0,579.1 406.2,579.1 406.4,579.1 406.6,579.1 406.7,579.8 406.9,579.8 407.1,593.9 407.3,579.8 407.5,579.5 407.6,579.5 407.8,579.5 408.0,579.5 408.2,579.4 408.4,579.4 408.5,593.9 408.7,579.4 408.9,579.7 409.1,579.7 409.3,579.7 409.4,579.7 409.6,579.6 409.8,579.6 410.0,579.6 410.1,579.6 410.3,579.5 410.5,579.5 410.7,579.5 410.9,579.5 411.0,579.4 411.2,579.4 411.4,579.4 411.6,579.4 411.8,579.6 411.9,579.6 412.1,579.6 412.3,579.6 412.5,579.2 412.7,579.2 412.8,579.2 413.0,579.2 413.2,579.3 413.4,579.3 413.6,579.3 413.7,579.3 413.9,579.5 414.1,593.9 414.3,579.5 414.5,579.5 414.6,579.4 414.8,579.4 415.0,579.4 415.2,579.4 415.4,580.0 415.5,580.0 415.7,580.0 415.9,593.9 416.1,579.9 416.3,579.9 416.4,579.9 416.6,579.9 416.8,579.9 417.0,579.9 417.2,579.9 417.3,579.9 417.5,579.4 417.7,579.4 417.9,579.4 418.1,579.4 418.2,579.1 418.4,579.1 418.6,579.1 418.8,579.1 418.9,579.6 419.1,579.6 419.3,579.6 419.5,593.9 419.7,579.8 419.8,579.8 420.0,579.8 420.2,579.8 420.4,579.8 420.6,579.8 420.7,579.8 420.9,579.8 421.1,579.4 421.3,579.4 421.5,579.4 421.6,579.4 421.8,579.9 422.0,579.9 422.2,579.9 422.4,593.9 422.5,579.7 422.7,579.7 422.9,579.7 423.1,579.7 423.3,579.3 423.4,579.3 423.6,579.3 423.8,579.3 424.0,579.1 424.2,579.1 424.3,579.1 424.5,579.1 424.7,579.5 424.9,579.5 425.1,579.5 425.2,579.5 425.4,579.5 425.6,579.5 425.8,579.5 426.0,579.5 426.1,579.6 426.3,579.6 426.5,579.6 426.7,579.6 426.9,579.3 427.0,579.3 427.2,579.3 427.4,579.3 427.6,580.3 427.7,593.9 427.9,580.3 428.1,580.3 428.3,579.4 428.5,579.4 428.6,579.4 428.8,579.4 429.0,579.4 429.2,579.4 429.4,579.4 429.5,579.4 429.7,579.6 429.9,579.6 430.1,579.6 430.3,579.6 430.4,579.6 430.6,579.6 430.8,579.6 431.0,579.6 431.2,579.4 431.3,579.4 431.5,579.4 431.7,579.4 431.9,579.6 432.1,579.6 432.2,579.6 432.4,579.6 432.6,579.3 432.8,579.3 433.0,579.3 433.1,579.3 433.3,579.7 433.5,579.7 433.7,579.7 433.9,579.7 434.0,579.4 434.2,579.4 434.4,579.4 434.6,579.4 434.8,579.2 434.9,579.2 435.1,585.2 435.3,592.8 435.5,603.0 435.6,610.4 435.8,617.9 436.0,622.9 436.2,627.3 436.4,629.7 436.5,632.2 436.7,634.6 436.9,635.9 437.1,636.9 437.3,638.0 437.4,639.1 437.6,640.2 437.8,640.9 438.0,641.6 438.2,642.3 438.3,642.7 438.5,643.4 438.7,644.1 438.9,644.4 439.1,644.8 439.2,645.1 439.4,645.4 439.6,645.7 439.8,645.9 440.0,648.7 440.1,651.6 440.3,654.4 440.5,525.2 440.7,526.1 440.9,526.9 441.0,527.8 441.2,528.6 441.4,529.3 441.6,530.0 441.8,530.7 441.9,531.4 442.1,532.1 442.3,532.8 442.5,533.4 442.7,533.9 442.8,534.4 443.0,534.9 443.2,535.4 443.4,536.0 443.6,660.9 443.7,653.3 443.9,645.6 444.1,645.6 444.3,645.8 444.4,645.8 444.6,645.8 444.8,645.9 445.0,645.9 445.2,645.9 445.3,645.9 445.5,645.4 445.7,645.4 445.9,645.4 446.1,645.4 446.2,645.3 446.4,645.3 446.6,645.3 446.8,645.3 447.0,646.0 447.1,646.0 447.3,646.0 447.5,646.0 447.7,645.7 447.9,645.7 448.0,645.7 448.2,645.7 448.4,645.7 448.6,645.7 448.8,645.7 448.9,645.7 449.1,645.4 449.3,645.4 449.5,645.4 449.7,645.4 449.8,645.3 450.0,645.3 450.2,645.3 450.4,645.3 450.6,645.5 450.7,645.5 450.9,645.5 451.1,645.5 451.3,645.3 451.5,645.3 451.6,645.3 451.8,645.3 452.0,645.4 452.2,645.4 452.4,645.4 452.5,645.9 452.7,646.6 452.9,647.1 453.1,647.7 453.2,641.2 453.4,634.7 453.6,634.6 453.8,634.5 454.0,634.3 454.1,634.0 454.3,633.9 454.5,633.7 454.7,633.6 454.9,633.9 455.0,633.8 455.2,633.6 455.4,633.5 455.6,633.5 455.8,633.4 455.9,633.2 456.1,633.1 456.3,632.4 456.5,632.2 456.7,632.1 456.8,632.0 457.0,631.8 457.2,631.7 457.4,631.5 457.6,631.4 457.7,631.0 457.9,630.9 458.1,630.7 458.3,630.6 458.5,630.9 458.6,630.8 458.8,630.7 459.0,630.5 459.2,630.7 459.4,630.6 459.5,630.4 459.7,630.3 459.9,629.7 460.1,629.6 460.3,629.5 460.4,629.4 460.6,628.9 460.8,628.8 461.0,628.7 461.2,628.5 461.3,629.0 461.5,628.9 461.7,628.7 461.9,628.6 462.0,628.3 462.2,628.2 462.4,628.1 462.6,628.0 462.8,627.9 462.9,627.8 463.1,627.7 463.3,627.6 463.5,627.8 463.7,627.7 463.8,627.6 464.0,627.5 464.2,626.6 464.4,626.5 464.6,626.4 464.7,626.3 464.9,626.6 465.1,626.5 465.3,626.4 465.5,626.3 465.6,625.7 465.8,625.6 466.0,625.5 466.2,625.4 466.4,625.8 466.5,625.7 466.7,625.6 466.9,625.5 467.1,625.8 467.3,625.7 467.4,625.6 467.6,625.5 467.8,625.2 468.0,625.1 468.2,625.0 468.3,624.9 468.5,624.8 468.7,624.7 468.9,624.6 469.1,624.6 469.2,624.4 469.4,624.3 469.6,624.2 469.8,624.1 470.0,623.9 470.1,623.8 470.3,623.8 470.5,623.7 470.7,623.6 470.8,623.5 471.0,623.5 471.2,623.4 471.4,622.7 471.6,622.6 471.7,622.6 471.9,622.5 472.1,623.5 472.3,623.4 472.5,623.3 472.6,623.2 472.8,622.8 473.0,622.7 473.2,622.6 473.4,622.5 473.5,622.1 473.7,622.1 473.9,622.0 474.1,621.9 474.3,621.6 474.4,621.5 474.6,621.4 474.8,621.3 475.0,621.3 475.2,621.2 475.3,621.1 475.5,621.0 475.7,621.0 475.9,620.9 476.1,620.7 476.2,620.6 476.4,620.4 476.6,620.3 476.8,620.2 477.0,620.1 477.1,620.2 477.3,620.1 477.5,620.0 477.7,619.8 477.9,619.8 478.0,619.7 478.2,619.6 478.4,619.5 478.6,619.2 478.7,619.1 478.9,619.0 479.1,618.9 479.3,619.3 479.5,619.2 479.6,619.1 479.8,619.0 480.0,618.5 480.2,618.4 480.4,618.3 480.5,618.2 480.7,618.3 480.9,618.2 481.1,618.1 481.3,618.0 481.4,617.6 481.6,617.5 481.8,617.4 482.0,617.3 482.2,617.4 482.3,617.3 482.5,617.2 482.7,617.1 482.9,616.6 483.1,616.5 483.2,616.4 483.4,616.3 483.6,616.4 483.8,616.3 484.0,616.2 484.1,616.1 484.3,616.1 484.5,616.0 484.7,615.9 484.9,615.8 485.0,616.1 485.2,616.0 485.4,616.0 485.6,615.9 485.8,615.5 485.9,615.4 486.1,615.4 486.3,615.3 486.5,616.1 486.7,616.0 486.8,615.9 487.0,615.9 487.2,615.0 487.4,614.9 487.5,614.9 487.7,614.8 487.9,614.8 488.1,614.8 488.3,614.7 488.4,614.7 488.6,614.8 488.8,614.7 489.0,614.7 489.2,614.6 489.3,614.5 489.5,614.4 489.7,614.4 489.9,614.3 490.1,614.8 490.2,614.8 490.4,614.8 490.6,614.7 490.8,614.4 491.0,614.4 491.1,614.3 491.3,614.3 491.5,614.4 491.7,614.3 491.9,614.3 492.0,614.2 492.2,613.8 492.4,613.7 492.6,613.7 492.8,613.7 492.9,613.6 493.1,613.6 493.3,613.5 493.5,613.5 493.7,613.2 493.8,613.1 494.0,613.1 494.2,613.0 494.4,613.7 494.6,613.7 494.7,613.3 494.9,613.0 495.1,612.6 495.3,612.2 495.5,611.9 495.6,611.5 495.8,610.8 496.0,610.5 496.2,609.9 496.3,609.3 496.5,608.9 496.7,608.3 496.9,607.7 497.1,607.1 497.2,606.5 497.4,606.2 497.6,605.9 497.8,605.6 498.0,604.9 498.1,604.6 498.3,604.3 498.5,603.9 498.7,603.8 498.9,604.0 499.0,604.2 499.2,604.4 499.4,604.7 499.6,604.9 499.8,605.1 499.9,607.2 500.1,608.9 500.3,612.4 500.5,615.9 500.7,621.0 500.8,626.4 501.0,626.9 501.2,627.4 501.4,627.9 501.6,628.8 501.7,629.3 501.9,629.8 502.1,630.3 502.3,630.4 502.5,631.0 502.6,631.6 502.8,632.1 503.0,632.6 503.2,633.2 503.4,633.8 503.5,634.3 503.7,635.1" fill="none" stroke="#00fa00" stroke-width="1.05" stroke-linejoin="round" marker-start="url(#mgf)" marker-mid="url(#mgf)" marker-end="url(#mgf)"/>
<rect x="319.1" y="517.3" width="215.5" height="169.6" fill="none" stroke="#858585" stroke-width="1"/>
<path d="M319.1 686.9v-2.2M319.1 517.3v2.2M355.0 686.9v-2.2M355.0 517.3v2.2M390.9 686.9v-2.2M390.9 517.3v2.2M426.9 686.9v-2.2M426.9 517.3v2.2M462.8 686.9v-2.2M462.8 517.3v2.2M498.7 686.9v-2.2M498.7 517.3v2.2M534.6 686.9v-2.2M534.6 517.3v2.2M319.1 686.9h2.2M534.6 686.9h-2.2M319.1 658.6h2.2M534.6 658.6h-2.2M319.1 630.4h2.2M534.6 630.4h-2.2M319.1 602.1h2.2M534.6 602.1h-2.2M319.1 573.8h2.2M534.6 573.8h-2.2M319.1 545.6h2.2M534.6 545.6h-2.2M319.1 517.3h2.2M534.6 517.3h-2.2" stroke="#858585" stroke-width="0.8" fill="none"/>
<g font-size="6.6" fill="#3a3a3a">
<text x="319.1" y="696.7" text-anchor="middle">0</text>
<text x="355.0" y="696.7" text-anchor="middle">200</text>
<text x="390.9" y="696.7" text-anchor="middle">400</text>
<text x="426.9" y="696.7" text-anchor="middle">600</text>
<text x="462.8" y="696.7" text-anchor="middle">800</text>
<text x="498.7" y="696.7" text-anchor="middle">1000</text>
<text x="534.6" y="696.7" text-anchor="middle">1200</text>
<text x="316.1" y="689.7" text-anchor="end">0</text>
<text x="316.1" y="661.4" text-anchor="end">100</text>
<text x="316.1" y="633.2" text-anchor="end">200</text>
<text x="316.1" y="604.9" text-anchor="end">300</text>
<text x="316.1" y="576.6" text-anchor="end">400</text>
<text x="316.1" y="548.4" text-anchor="end">500</text>
<text x="316.1" y="520.1" text-anchor="end">600</text>
</g>
<rect x="473.6" y="522.4" width="56.0" height="34.1" fill="#fff" stroke="#4a4a4a" stroke-width="0.9"/>
<polyline points="475.6,527.2 485.1,527.2 494.5,527.2" fill="none" stroke="#ff3030" stroke-width="2.2" marker-mid="url(#mxL)"/>
<text x="496.8" y="529.3" font-size="6.1" fill="#2a2a2a">Proposed x</text>
<polyline points="475.6,535.6 485.1,535.6 494.5,535.6" fill="none" stroke="#2020ff" stroke-width="0.7" marker-mid="url(#mtL)"/>
<text x="496.8" y="537.7" font-size="6.1" fill="#2a2a2a">Proposed y</text>
<polyline points="475.6,544.0 485.1,544.0 494.5,544.0" fill="none" stroke="#30f0f0" stroke-width="0.8" marker-mid="url(#mcL)"/>
<text x="496.8" y="546.1" font-size="6.1" fill="#2a2a2a">YOLO x</text>
<polyline points="475.6,552.2 485.1,552.2 494.5,552.2" fill="none" stroke="#10f010" stroke-width="1.8" marker-mid="url(#mgL)"/>
<text x="496.8" y="554.3" font-size="6.1" fill="#2a2a2a">YOLO y</text>
<text x="421.1" y="731.8" text-anchor="middle" font-family="'Liberation Serif', serif" font-weight="bold" font-size="13.2" fill="#111">f</text>
</svg></body></html>
